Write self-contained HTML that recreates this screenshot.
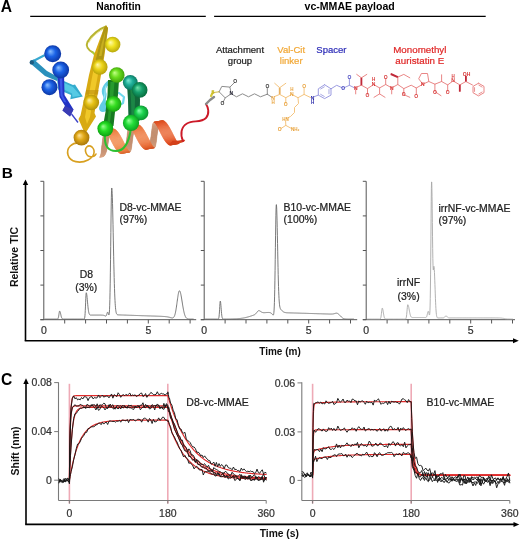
<!DOCTYPE html><html><head><meta charset="utf-8"><title>Figure</title><style>html,body{margin:0;padding:0;background:#fff;width:520px;height:541px;overflow:hidden}svg{display:block}</style></head><body><svg width="520" height="541" viewBox="0 0 520 541" font-family='"Liberation Sans", Arial, sans-serif'><defs><radialGradient id="g0" cx="0.5" cy="0.5" r="0.55" fx="0.35" fy="0.35"><stop offset="0" stop-color="#8cc0ff"/><stop offset="0.45" stop-color="#1a62e6"/><stop offset="1" stop-color="#0a2f9a"/></radialGradient><radialGradient id="g1" cx="0.5" cy="0.5" r="0.55" fx="0.35" fy="0.35"><stop offset="0" stop-color="#fffcb0"/><stop offset="0.45" stop-color="#f0e220"/><stop offset="1" stop-color="#b0a008"/></radialGradient><radialGradient id="g2" cx="0.5" cy="0.5" r="0.55" fx="0.35" fy="0.35"><stop offset="0" stop-color="#fff6a8"/><stop offset="0.45" stop-color="#ecd418"/><stop offset="1" stop-color="#b09a08"/></radialGradient><radialGradient id="g3" cx="0.5" cy="0.5" r="0.55" fx="0.35" fy="0.35"><stop offset="0" stop-color="#fff0a8"/><stop offset="0.45" stop-color="#e6c214"/><stop offset="1" stop-color="#a88a08"/></radialGradient><radialGradient id="g4" cx="0.5" cy="0.5" r="0.55" fx="0.35" fy="0.35"><stop offset="0" stop-color="#ffe298"/><stop offset="0.45" stop-color="#e0a818"/><stop offset="1" stop-color="#a07008"/></radialGradient><radialGradient id="g5" cx="0.5" cy="0.5" r="0.55" fx="0.35" fy="0.35"><stop offset="0" stop-color="#7ee8d4"/><stop offset="0.45" stop-color="#1eae98"/><stop offset="1" stop-color="#087058"/></radialGradient><radialGradient id="g6" cx="0.5" cy="0.5" r="0.55" fx="0.35" fy="0.35"><stop offset="0" stop-color="#6ee0a8"/><stop offset="0.45" stop-color="#16a06c"/><stop offset="1" stop-color="#066636"/></radialGradient><radialGradient id="g7" cx="0.5" cy="0.5" r="0.55" fx="0.35" fy="0.35"><stop offset="0" stop-color="#c4ff88"/><stop offset="0.45" stop-color="#6ade1e"/><stop offset="1" stop-color="#3a9a08"/></radialGradient><radialGradient id="g8" cx="0.5" cy="0.5" r="0.55" fx="0.35" fy="0.35"><stop offset="0" stop-color="#8cffb0"/><stop offset="0.45" stop-color="#1cd24e"/><stop offset="1" stop-color="#088a2a"/></radialGradient><radialGradient id="g9" cx="0.5" cy="0.5" r="0.55" fx="0.35" fy="0.35"><stop offset="0" stop-color="#a8ff88"/><stop offset="0.45" stop-color="#36de22"/><stop offset="1" stop-color="#129a0e"/></radialGradient><radialGradient id="g10" cx="0.5" cy="0.5" r="0.55" fx="0.35" fy="0.35"><stop offset="0" stop-color="#98ff98"/><stop offset="0.45" stop-color="#22dc38"/><stop offset="1" stop-color="#0a9a1e"/></radialGradient><radialGradient id="g11" cx="0.5" cy="0.5" r="0.55" fx="0.35" fy="0.35"><stop offset="0" stop-color="#9cff90"/><stop offset="0.45" stop-color="#26dc24"/><stop offset="1" stop-color="#0a9a10"/></radialGradient></defs><text x="0.8" y="12.1" font-size="15.6" font-weight="bold" fill="#000" text-anchor="start" >A</text>
<text transform="translate(96.2,9.6) scale(1.03,1)" font-size="10" font-weight="bold" fill="#000" text-anchor="start" >Nanofitin</text>
<text transform="translate(304.6,9.8) scale(1.055,1)" font-size="10" font-weight="bold" fill="#000" text-anchor="start" >vc-MMAE payload</text>
<line x1="30.2" y1="16.4" x2="205.8" y2="16.4" stroke="#000" stroke-width="1.3" />
<line x1="214.1" y1="16.4" x2="485.7" y2="16.4" stroke="#000" stroke-width="1.3" />
<text x="240" y="52.8" font-size="9.5" font-weight="normal" fill="#222" text-anchor="middle"  stroke="#222" stroke-width="0.22">Attachment</text>
<text x="240" y="63.5" font-size="9.5" font-weight="normal" fill="#222" text-anchor="middle"  stroke="#222" stroke-width="0.22">group</text>
<text x="291.2" y="52.8" font-size="9.5" font-weight="normal" fill="#f2a836" text-anchor="middle"  stroke="#f2a836" stroke-width="0.22">Val-Cit</text>
<text x="291.2" y="63.5" font-size="9.5" font-weight="normal" fill="#f2a836" text-anchor="middle"  stroke="#f2a836" stroke-width="0.22">linker</text>
<text x="331.4" y="52.5" font-size="9.5" font-weight="normal" fill="#2e2eb8" text-anchor="middle"  stroke="#2e2eb8" stroke-width="0.22">Spacer</text>
<text transform="translate(419.8,52.8) scale(1.03,1)" font-size="9.5" font-weight="normal" fill="#e02828" text-anchor="middle"  stroke="#e02828" stroke-width="0.22">Monomethyl</text>
<text transform="translate(419.8,63.5) scale(1.03,1)" font-size="9.5" font-weight="normal" fill="#e02828" text-anchor="middle"  stroke="#e02828" stroke-width="0.22">auristatin E</text>
<g>
<line x1="31.5" y1="62" x2="44" y2="55.5" stroke="#38a8d0" stroke-width="2.2" stroke-linecap="round"/>
<path d="M30.5,60.5 L34,59.5 L47,71 L58,77 L57,81 L45,76 L31,64 Z" fill="#2a90bc" stroke="none" stroke-width="1" stroke-linejoin="round" stroke-linecap="round" />
<path d="M57,78 L73,85 L75,84.5 L82.8,96.6 L70.3,99.2 L71,95 L58,89.5 Z" fill="#34acce" stroke="none" stroke-width="1" stroke-linejoin="round" stroke-linecap="round" />
<path d="M60,81 L73,87 L80.5,95.8 L72.5,97 L72,93.5 L60,87.5 Z" fill="#56cae4" stroke="none" stroke-width="1" stroke-linejoin="round" stroke-linecap="round" />
<circle cx="31.8" cy="62.4" r="2.2" fill="#1c5c82"/>
<path d="M109,80 C103,84 100,90 103,96 C105,100 100,103 99,108 C99,112 103,113 106,111 L107,104 C104,100 108,96 106,92 C105,88 108,85 110,84 Z" fill="#62cce6" stroke="none" stroke-width="1" stroke-linejoin="round" stroke-linecap="round" />
<path d="M106,86 C104,90 106,94 104,98" fill="none" stroke="#9ae4f4" stroke-width="1.2" stroke-linejoin="round" stroke-linecap="round" />
<polyline points="119,93 124,97 123,103 118,106" fill="none" stroke="#70d8ee" stroke-width="2.2" stroke-linejoin="round" stroke-linecap="round" />
<path d="M106,26.5 C100,28.5 91,35 87.5,42 C85.5,46 88,50 93,52.5" fill="none" stroke="#b8b430" stroke-width="2.0" stroke-linejoin="round" stroke-linecap="round" />
<path d="M105,28.5 C99,31 92,36.5 89,42.5" fill="none" stroke="#e8e070" stroke-width="0.8" stroke-linejoin="round" stroke-linecap="round" />
<path d="M91,51 L98,54 L96.5,59 Z" fill="#a8d040" stroke="none" stroke-width="1" stroke-linejoin="round" stroke-linecap="round" />
<path d="M106,25.5 L108,28 L106.5,40 L104.5,55 L101,75 L97.5,95 L94.5,113 L96,116.5 L85,134 L78.5,119 L80.5,115.5 L85,95 L89,75 L94,55 L99.5,40 L104,28 Z" fill="#d8aa12" stroke="none" stroke-width="1" stroke-linejoin="round" stroke-linecap="round" />
<path d="M105.5,33 L103.5,45 L100.5,60 L97,80 L93,100 L90,117 L87,124 L85,117 L88,100 L91.5,80 L95.5,60 L99.5,45 Z" fill="#f0c828" stroke="none" stroke-width="1" stroke-linejoin="round" stroke-linecap="round" />
<path d="M106,25.5 L108,28 L105.5,45 L103,60 L95.5,60 L100,42 L104,28 Z" fill="#ae9614" stroke="none" stroke-width="1" stroke-linejoin="round" stroke-linecap="round" />
<path d="M105.5,31 L103.5,45 L101.5,56 L99,56 L101.5,44 Z" fill="#c8b020" stroke="none" stroke-width="1" stroke-linejoin="round" stroke-linecap="round" />
<path d="M86.2,90 L98.6,90 L98,94.5 L85.4,94.5 Z" fill="#b88a0c" stroke="none" stroke-width="1" stroke-linejoin="round" stroke-linecap="round" opacity="0.55"/>
<path d="M57,73 L64,73 L64.5,95 L69.5,103 L73.5,109.5 L70,116.5 L62.5,110.5 L65,106 L59.5,97 Z" fill="#2232c4" stroke="none" stroke-width="1" stroke-linejoin="round" stroke-linecap="round" />
<path d="M59.5,75 L62.2,75 L62.6,95 L66.5,102.5 L64,102 L60.6,95.5 Z" fill="#3a58e8" stroke="none" stroke-width="1" stroke-linejoin="round" stroke-linecap="round" />
<path d="M65,106 L73.5,109.5 L70,116.5 L62.5,110.5 Z" fill="#3a3cb4" stroke="none" stroke-width="1" stroke-linejoin="round" stroke-linecap="round" />
<line x1="71.5" y1="114" x2="78" y2="122.5" stroke="#3a40c8" stroke-width="1.3" />
<path d="M108,80 L119,80 L118,95 L115,112 L113.5,126 L103,126 L105.5,112 L107.5,95 Z" fill="#177a22" stroke="none" stroke-width="1" stroke-linejoin="round" stroke-linecap="round" />
<path d="M110.5,82 L114.5,82 L113,100 L110,122 L107.5,122 L109.5,100 Z" fill="#279a2e" stroke="none" stroke-width="1" stroke-linejoin="round" stroke-linecap="round" />
<path d="M127,84 L139,84 L140,100 L139.5,121 L128.5,121 L128,100 Z" fill="#12683a" stroke="none" stroke-width="1" stroke-linejoin="round" stroke-linecap="round" />
<path d="M130,86 L134,86 L135,100 L134.5,118 L131.5,118 L131,100 Z" fill="#1c8646" stroke="none" stroke-width="1" stroke-linejoin="round" stroke-linecap="round" />
<g stroke-width="0.5" stroke-linejoin="round">
<polygon points="99.45,157.21 102.84,156.62 103.17,156.54 99.6,157.16" fill="#e3af8f" stroke="#e3af8f"/>
<polygon points="99.6,157.16 103.17,156.54 103.5,156.41 99.75,157.05" fill="#e1ac8c" stroke="#e1ac8c"/>
<polygon points="99.75,157.05 103.5,156.41 103.81,156.22 99.9,156.9" fill="#deaa8a" stroke="#deaa8a"/>
<polygon points="99.9,156.9 103.81,156.22 104.1,155.99 100.04,156.69" fill="#dca787" stroke="#dca787"/>
<polygon points="100.04,156.69 104.1,155.99 104.39,155.71 100.17,156.44" fill="#daa585" stroke="#daa585"/>
<polygon points="100.17,156.44 104.39,155.71 104.66,155.38 100.3,156.13" fill="#d8a383" stroke="#d8a383"/>
<polygon points="100.3,156.13 104.66,155.38 104.93,155.01 100.43,155.78" fill="#d5a181" stroke="#d5a181"/>
<polygon points="100.43,155.78 104.93,155.01 105.18,154.58 100.55,155.38" fill="#d39e7e" stroke="#d39e7e"/>
<polygon points="100.55,155.38 105.18,154.58 105.42,154.12 100.66,154.94" fill="#d19c7c" stroke="#d19c7c"/>
<polygon points="100.66,154.94 105.42,154.12 105.65,153.61 100.77,154.46" fill="#cf9a7a" stroke="#cf9a7a"/>
<polygon points="100.77,154.46 105.65,153.61 105.88,153.07 100.88,153.93" fill="#ce9878" stroke="#ce9878"/>
<polygon points="100.88,153.93 105.88,153.07 106.09,152.48 100.98,153.36" fill="#cc9676" stroke="#cc9676"/>
<polygon points="100.98,153.36 106.09,152.48 106.3,151.86 101.07,152.76" fill="#ca9474" stroke="#ca9474"/>
<polygon points="101.07,152.76 106.3,151.86 106.51,151.2 101.16,152.13" fill="#c99373" stroke="#c99373"/>
<polygon points="101.16,152.13 106.51,151.2 106.7,150.52 101.24,151.46" fill="#c79171" stroke="#c79171"/>
<polygon points="101.24,151.46 106.7,150.52 106.9,149.8 101.31,150.76" fill="#c69070" stroke="#c69070"/>
<polygon points="101.31,150.76 106.9,149.8 107.09,149.06 101.38,150.04" fill="#c58f6f" stroke="#c58f6f"/>
<polygon points="101.38,150.04 107.09,149.06 107.28,148.29 101.45,149.29" fill="#c48d6d" stroke="#c48d6d"/>
<polygon points="101.45,149.29 107.28,148.29 107.47,147.5 101.51,148.53" fill="#c38c6c" stroke="#c38c6c"/>
<polygon points="101.51,148.53 107.47,147.5 107.65,146.69 101.56,147.74" fill="#c28c6c" stroke="#c28c6c"/>
<polygon points="101.56,147.74 107.65,146.69 107.81,145.88 101.64,146.94" fill="#c18b6b" stroke="#c18b6b"/>
<polygon points="101.64,146.94 107.81,145.88 107.91,145.06 101.77,146.12" fill="#c18a6a" stroke="#c18a6a"/>
<polygon points="101.77,146.12 107.91,145.06 108.01,144.23 101.89,145.29" fill="#c08a6a" stroke="#c08a6a"/>
<polygon points="101.89,145.29 108.01,144.23 108.12,143.4 102.01,144.45" fill="#c08a6a" stroke="#c08a6a"/>
<polygon points="102.01,144.45 108.12,143.4 108.23,142.56 102.12,143.61" fill="#c08a6a" stroke="#c08a6a"/>
<polygon points="102.12,143.61 108.23,142.56 108.35,141.72 102.23,142.78" fill="#c08a6a" stroke="#c08a6a"/>
<polygon points="102.23,142.78 108.35,141.72 108.47,140.89 102.33,141.95" fill="#c08a6a" stroke="#c08a6a"/>
<polygon points="102.33,141.95 108.47,140.89 108.6,140.07 102.43,141.13" fill="#c18a6a" stroke="#c18a6a"/>
<polygon points="102.43,141.13 108.6,140.07 108.74,139.25 102.53,140.32" fill="#c18b6b" stroke="#c18b6b"/>
<polygon points="102.53,140.32 108.74,139.25 108.88,138.45 102.63,139.53" fill="#c28c6c" stroke="#c28c6c"/>
<polygon points="102.63,139.53 108.88,138.45 109.03,137.66 102.72,138.75" fill="#c38c6c" stroke="#c38c6c"/>
<polygon points="102.72,138.75 109.03,137.66 109.19,136.9 102.82,138" fill="#c38d6d" stroke="#c38d6d"/>
<polygon points="102.82,138 109.19,136.9 109.35,136.16 102.91,137.27" fill="#c58e6e" stroke="#c58e6e"/>
<polygon points="102.91,137.27 109.35,136.16 109.53,135.44 103,136.56" fill="#c69070" stroke="#c69070"/>
<polygon points="103,136.56 109.53,135.44 109.71,134.75 103.1,135.89" fill="#c79171" stroke="#c79171"/>
<polygon points="103.1,135.89 109.71,134.75 109.91,134.09 103.19,135.25" fill="#c89373" stroke="#c89373"/>
<polygon points="103.19,135.25 109.91,134.09 110.11,133.46 103.29,134.64" fill="#ca9474" stroke="#ca9474"/>
<polygon points="103.29,134.64 110.11,133.46 110.32,132.87 103.39,134.07" fill="#cc9676" stroke="#cc9676"/>
<polygon points="103.39,134.07 110.32,132.87 110.54,132.32 103.5,133.54" fill="#cd9878" stroke="#cd9878"/>
<polygon points="103.5,133.54 110.54,132.32 110.77,131.81 103.61,133.04" fill="#cf9a7a" stroke="#cf9a7a"/>
<polygon points="103.61,133.04 110.77,131.81 111.02,131.34 103.72,132.6" fill="#d19c7c" stroke="#d19c7c"/>
<polygon points="103.72,132.6 111.02,131.34 111.27,130.91 103.84,132.19" fill="#d39e7e" stroke="#d39e7e"/>
<polygon points="103.84,132.19 111.27,130.91 111.53,130.53 103.96,131.83" fill="#d5a080" stroke="#d5a080"/>
<polygon points="103.96,131.83 111.53,130.53 111.8,130.19 104.09,131.52" fill="#d7a282" stroke="#d7a282"/>
<polygon points="104.09,131.52 111.8,130.19 112.08,129.9 104.23,131.26" fill="#d9a585" stroke="#d9a585"/>
<polygon points="104.23,131.26 112.08,129.9 112.37,129.66 104.37,131.05" fill="#dca787" stroke="#dca787"/>
<polygon points="104.37,131.05 112.37,129.66 112.68,129.48 104.52,130.88" fill="#deaa8a" stroke="#deaa8a"/>
<polygon points="104.52,130.88 112.68,129.48 112.99,129.34 104.68,130.77" fill="#e0ac8c" stroke="#e0ac8c"/>
<polygon points="104.68,130.77 112.99,129.34 113.3,129.25 104.85,130.71" fill="#e3ae8e" stroke="#e3ae8e"/>
<polygon points="121.32,153.43 129.84,151.96 130.01,151.92 121.65,153.37" fill="#e4b090" stroke="#e4b090"/>
<polygon points="121.65,153.37 130.01,151.92 130.18,151.83 121.96,153.25" fill="#e1ad8d" stroke="#e1ad8d"/>
<polygon points="121.96,153.25 130.18,151.83 130.33,151.69 122.26,153.08" fill="#dfab8b" stroke="#dfab8b"/>
<polygon points="122.26,153.08 130.33,151.69 130.48,151.5 122.56,152.87" fill="#dda888" stroke="#dda888"/>
<polygon points="122.56,152.87 130.48,151.5 130.62,151.26 122.85,152.6" fill="#daa686" stroke="#daa686"/>
<polygon points="122.85,152.6 130.62,151.26 130.75,150.97 123.12,152.28" fill="#d8a383" stroke="#d8a383"/>
<polygon points="123.12,152.28 130.75,150.97 130.88,150.63 123.39,151.92" fill="#d6a181" stroke="#d6a181"/>
<polygon points="123.39,151.92 130.88,150.63 131,150.25 123.64,151.52" fill="#d49f7f" stroke="#d49f7f"/>
<polygon points="123.64,151.52 131,150.25 131.12,149.82 123.89,151.06" fill="#d29d7d" stroke="#d29d7d"/>
<polygon points="123.89,151.06 131.12,149.82 131.23,149.35 124.13,150.57" fill="#d09b7b" stroke="#d09b7b"/>
<polygon points="124.13,150.57 131.23,149.35 131.33,148.83 124.35,150.03" fill="#ce9979" stroke="#ce9979"/>
<polygon points="124.35,150.03 131.33,148.83 131.44,148.28 124.57,149.46" fill="#cc9777" stroke="#cc9777"/>
<polygon points="124.57,149.46 131.44,148.28 131.54,147.68 124.78,148.85" fill="#cb9575" stroke="#cb9575"/>
<polygon points="124.78,148.85 131.54,147.68 131.63,147.06 124.97,148.21" fill="#c99373" stroke="#c99373"/>
<polygon points="124.97,148.21 131.63,147.06 131.73,146.4 125.16,147.53" fill="#c89272" stroke="#c89272"/>
<polygon points="125.16,147.53 131.73,146.4 131.82,145.71 125.34,146.82" fill="#c69070" stroke="#c69070"/>
<polygon points="125.34,146.82 131.82,145.71 131.91,144.99 125.51,146.09" fill="#c58f6f" stroke="#c58f6f"/>
<polygon points="125.51,146.09 131.91,144.99 132.01,144.24 125.67,145.34" fill="#c48e6e" stroke="#c48e6e"/>
<polygon points="125.67,145.34 132.01,144.24 132.1,143.48 125.83,144.56" fill="#c38d6d" stroke="#c38d6d"/>
<polygon points="125.83,144.56 132.1,143.48 132.2,142.69 125.97,143.76" fill="#c28c6c" stroke="#c28c6c"/>
<polygon points="125.97,143.76 132.2,142.69 132.29,141.89 126.11,142.95" fill="#c18b6b" stroke="#c18b6b"/>
<polygon points="126.11,142.95 132.29,141.89 132.39,141.07 126.24,142.13" fill="#c18b6b" stroke="#c18b6b"/>
<polygon points="126.24,142.13 132.39,141.07 132.5,140.25 126.37,141.3" fill="#c08a6a" stroke="#c08a6a"/>
<polygon points="126.37,141.3 132.5,140.25 132.6,139.41 126.49,140.47" fill="#c08a6a" stroke="#c08a6a"/>
<polygon points="126.49,140.47 132.6,139.41 132.71,138.58 126.6,139.63" fill="#c08a6a" stroke="#c08a6a"/>
<polygon points="126.6,139.63 132.71,138.58 132.83,137.74 126.71,138.8" fill="#c08a6a" stroke="#c08a6a"/>
<polygon points="126.71,138.8 132.83,137.74 132.95,136.91 126.82,137.97" fill="#c08a6a" stroke="#c08a6a"/>
<polygon points="126.82,137.97 132.95,136.91 133.08,136.08 126.92,137.14" fill="#c18a6a" stroke="#c18a6a"/>
<polygon points="126.92,137.14 133.08,136.08 133.21,135.26 127.02,136.33" fill="#c18b6b" stroke="#c18b6b"/>
<polygon points="127.02,136.33 133.21,135.26 133.35,134.46 127.11,135.53" fill="#c28b6b" stroke="#c28b6b"/>
<polygon points="127.11,135.53 133.35,134.46 133.5,133.67 127.21,134.75" fill="#c28c6c" stroke="#c28c6c"/>
<polygon points="127.21,134.75 133.5,133.67 133.65,132.89 127.3,133.99" fill="#c38d6d" stroke="#c38d6d"/>
<polygon points="127.3,133.99 133.65,132.89 133.82,132.14 127.4,133.25" fill="#c48e6e" stroke="#c48e6e"/>
<polygon points="127.4,133.25 133.82,132.14 133.99,131.42 127.49,132.54" fill="#c58f6f" stroke="#c58f6f"/>
<polygon points="127.49,132.54 133.99,131.42 134.17,130.72 127.58,131.86" fill="#c79171" stroke="#c79171"/>
<polygon points="127.58,131.86 134.17,130.72 134.36,130.05 127.68,131.2" fill="#c89272" stroke="#c89272"/>
<polygon points="127.68,131.2 134.36,130.05 134.56,129.42 127.78,130.59" fill="#ca9474" stroke="#ca9474"/>
<polygon points="127.78,130.59 134.56,129.42 134.77,128.81 127.88,130" fill="#cb9575" stroke="#cb9575"/>
<polygon points="127.88,130 134.77,128.81 134.99,128.25 127.98,129.46" fill="#cd9777" stroke="#cd9777"/>
<polygon points="127.98,129.46 134.99,128.25 135.22,127.73 128.09,128.96" fill="#cf9979" stroke="#cf9979"/>
<polygon points="128.09,128.96 135.22,127.73 135.46,127.24 128.2,128.5" fill="#d19b7b" stroke="#d19b7b"/>
<polygon points="128.2,128.5 135.46,127.24 135.71,126.8 128.32,128.08" fill="#d39d7d" stroke="#d39d7d"/>
<polygon points="128.32,128.08 135.71,126.8 135.97,126.41 128.44,127.71" fill="#d5a080" stroke="#d5a080"/>
<polygon points="128.44,127.71 135.97,126.41 136.23,126.06 128.57,127.38" fill="#d7a282" stroke="#d7a282"/>
<polygon points="128.57,127.38 136.23,126.06 136.51,125.76 128.7,127.1" fill="#d9a484" stroke="#d9a484"/>
<polygon points="128.7,127.1 136.51,125.76 136.8,125.5 128.84,126.87" fill="#dba686" stroke="#dba686"/>
<polygon points="128.84,126.87 136.8,125.5 137.1,125.3 128.99,126.7" fill="#dda989" stroke="#dda989"/>
<polygon points="128.99,126.7 137.1,125.3 137.41,125.14 129.15,126.57" fill="#e0ab8b" stroke="#e0ab8b"/>
<polygon points="129.15,126.57 137.41,125.14 137.72,125.04 129.32,126.49" fill="#e2ae8e" stroke="#e2ae8e"/>
<polygon points="146.06,149.16 154.48,147.71 154.64,147.64 146.38,149.06" fill="#e2ae8e" stroke="#e2ae8e"/>
<polygon points="146.38,149.06 154.64,147.64 154.8,147.51 146.69,148.91" fill="#e0ab8b" stroke="#e0ab8b"/>
<polygon points="146.69,148.91 154.8,147.51 154.95,147.33 146.99,148.71" fill="#dda989" stroke="#dda989"/>
<polygon points="146.99,148.71 154.95,147.33 155.09,147.11 147.28,148.45" fill="#dba787" stroke="#dba787"/>
<polygon points="147.28,148.45 155.09,147.11 155.23,146.83 147.56,148.15" fill="#d9a484" stroke="#d9a484"/>
<polygon points="147.56,148.15 155.23,146.83 155.36,146.51 147.82,147.81" fill="#d7a282" stroke="#d7a282"/>
<polygon points="147.82,147.81 155.36,146.51 155.48,146.14 148.08,147.41" fill="#d5a080" stroke="#d5a080"/>
<polygon points="148.08,147.41 155.48,146.14 155.6,145.72 148.33,146.97" fill="#d39d7d" stroke="#d39d7d"/>
<polygon points="148.33,146.97 155.6,145.72 155.71,145.26 148.57,146.49" fill="#d19b7b" stroke="#d19b7b"/>
<polygon points="148.57,146.49 155.71,145.26 155.82,144.76 148.8,145.97" fill="#cf9979" stroke="#cf9979"/>
<polygon points="148.8,145.97 155.82,144.76 155.92,144.22 149.02,145.41" fill="#cd9777" stroke="#cd9777"/>
<polygon points="149.02,145.41 155.92,144.22 156.02,143.64 149.23,144.81" fill="#cb9676" stroke="#cb9676"/>
<polygon points="149.23,144.81 156.02,143.64 156.12,143.02 149.43,144.17" fill="#ca9474" stroke="#ca9474"/>
<polygon points="149.43,144.17 156.12,143.02 156.21,142.37 149.62,143.5" fill="#c89272" stroke="#c89272"/>
<polygon points="149.62,143.5 156.21,142.37 156.31,141.69 149.8,142.81" fill="#c79171" stroke="#c79171"/>
<polygon points="149.8,142.81 156.31,141.69 156.4,140.97 149.98,142.08" fill="#c58f6f" stroke="#c58f6f"/>
<polygon points="149.98,142.08 156.4,140.97 156.49,140.24 150.14,141.33" fill="#c48e6e" stroke="#c48e6e"/>
<polygon points="150.14,141.33 156.49,140.24 156.59,139.48 150.3,140.56" fill="#c38d6d" stroke="#c38d6d"/>
<polygon points="150.3,140.56 156.59,139.48 156.68,138.7 150.44,139.77" fill="#c28c6c" stroke="#c28c6c"/>
<polygon points="150.44,139.77 156.68,138.7 156.78,137.9 150.59,138.97" fill="#c28b6b" stroke="#c28b6b"/>
<polygon points="150.59,138.97 156.78,137.9 156.88,137.09 150.72,138.15" fill="#c18b6b" stroke="#c18b6b"/>
<polygon points="150.72,138.15 156.88,137.09 156.98,136.26 150.85,137.32" fill="#c18a6a" stroke="#c18a6a"/>
<polygon points="150.85,137.32 156.98,136.26 157.08,135.43 150.97,136.49" fill="#c08a6a" stroke="#c08a6a"/>
<polygon points="150.97,136.49 157.08,135.43 157.19,134.6 151.08,135.65" fill="#c08a6a" stroke="#c08a6a"/>
<polygon points="151.08,135.65 157.19,134.6 157.31,133.76 151.19,134.82" fill="#c08a6a" stroke="#c08a6a"/>
<polygon points="151.19,134.82 157.31,133.76 157.43,132.93 151.3,133.98" fill="#c08a6a" stroke="#c08a6a"/>
<polygon points="151.3,133.98 157.43,132.93 157.55,132.1 151.4,133.16" fill="#c08a6a" stroke="#c08a6a"/>
<polygon points="151.4,133.16 157.55,132.1 157.68,131.28 151.5,132.34" fill="#c18a6a" stroke="#c18a6a"/>
<polygon points="151.5,132.34 157.68,131.28 157.82,130.47 151.6,131.54" fill="#c18b6b" stroke="#c18b6b"/>
<polygon points="151.6,131.54 157.82,130.47 157.97,129.67 151.7,130.75" fill="#c28c6c" stroke="#c28c6c"/>
<polygon points="151.7,130.75 157.97,129.67 158.12,128.89 151.79,129.99" fill="#c38d6d" stroke="#c38d6d"/>
<polygon points="151.79,129.99 158.12,128.89 158.28,128.14 151.88,129.24" fill="#c48e6e" stroke="#c48e6e"/>
<polygon points="151.88,129.24 158.28,128.14 158.45,127.4 151.98,128.52" fill="#c58f6f" stroke="#c58f6f"/>
<polygon points="151.98,128.52 158.45,127.4 158.63,126.7 152.07,127.83" fill="#c69070" stroke="#c69070"/>
<polygon points="152.07,127.83 158.63,126.7 158.82,126.02 152.16,127.17" fill="#c89272" stroke="#c89272"/>
<polygon points="152.16,127.17 158.82,126.02 159.02,125.37 152.26,126.54" fill="#c99373" stroke="#c99373"/>
<polygon points="152.26,126.54 159.02,125.37 159.22,124.76 152.36,125.94" fill="#cb9575" stroke="#cb9575"/>
<polygon points="152.36,125.94 159.22,124.76 159.44,124.19 152.46,125.39" fill="#cc9777" stroke="#cc9777"/>
<polygon points="152.46,125.39 159.44,124.19 159.66,123.65 152.57,124.87" fill="#ce9979" stroke="#ce9979"/>
<polygon points="152.57,124.87 159.66,123.65 159.9,123.15 152.68,124.4" fill="#d09b7b" stroke="#d09b7b"/>
<polygon points="152.68,124.4 159.9,123.15 160.15,122.7 152.79,123.97" fill="#d29d7d" stroke="#d29d7d"/>
<polygon points="152.79,123.97 160.15,122.7 160.4,122.29 152.92,123.58" fill="#d49f7f" stroke="#d49f7f"/>
<polygon points="152.92,123.58 160.4,122.29 160.67,121.93 153.04,123.24" fill="#d6a181" stroke="#d6a181"/>
<polygon points="153.04,123.24 160.67,121.93 160.94,121.61 153.17,122.95" fill="#d8a383" stroke="#d8a383"/>
<polygon points="153.17,122.95 160.94,121.61 161.23,121.34 153.31,122.71" fill="#daa686" stroke="#daa686"/>
<polygon points="153.31,122.71 161.23,121.34 161.52,121.12 153.46,122.52" fill="#dda888" stroke="#dda888"/>
<polygon points="153.46,122.52 161.52,121.12 161.83,120.96 153.62,122.37" fill="#dfab8b" stroke="#dfab8b"/>
<polygon points="153.62,122.37 161.83,120.96 162.14,120.84 153.78,122.28" fill="#e1ad8d" stroke="#e1ad8d"/>
<polygon points="153.78,122.28 162.14,120.84 162.47,120.77 153.95,122.24" fill="#e3af8f" stroke="#e3af8f"/>
<polygon points="170.48,144.96 178.94,143.5 179.11,143.44 170.8,144.87" fill="#e3af8f" stroke="#e3af8f"/>
<polygon points="170.8,144.87 179.11,143.44 179.27,143.32 171.11,144.73" fill="#e0ac8c" stroke="#e0ac8c"/>
<polygon points="171.11,144.73 179.27,143.32 179.42,143.16 171.41,144.54" fill="#deaa8a" stroke="#deaa8a"/>
<polygon points="171.41,144.54 179.42,143.16 179.57,142.95 171.71,144.31" fill="#dca787" stroke="#dca787"/>
<polygon points="171.71,144.31 179.57,142.95 179.7,142.69 171.99,144.02" fill="#daa585" stroke="#daa585"/>
<polygon points="104.85,130.71 113.3,129.25 113.63,129.21 105.03,130.69" fill="#da6932" stroke="#da6932"/>
<polygon points="105.03,130.69 113.63,129.21 113.97,129.22 105.22,130.73" fill="#dc6c34" stroke="#dc6c34"/>
<polygon points="105.22,130.73 113.97,129.22 114.31,129.28 105.41,130.82" fill="#df6f36" stroke="#df6f36"/>
<polygon points="105.41,130.82 114.31,129.28 114.67,129.4 105.61,130.96" fill="#e17137" stroke="#e17137"/>
<polygon points="105.61,130.96 114.67,129.4 115.03,129.56 105.83,131.15" fill="#e37338" stroke="#e37338"/>
<polygon points="105.83,131.15 115.03,129.56 115.39,129.77 106.05,131.38" fill="#e5753a" stroke="#e5753a"/>
<polygon points="106.05,131.38 115.39,129.77 115.77,130.03 106.29,131.66" fill="#e6783c" stroke="#e6783c"/>
<polygon points="106.29,131.66 115.77,130.03 116.14,130.33 106.53,131.99" fill="#e87a3e" stroke="#e87a3e"/>
<polygon points="106.53,131.99 116.14,130.33 116.53,130.68 106.79,132.36" fill="#e97c3e" stroke="#e97c3e"/>
<polygon points="106.79,132.36 116.53,130.68 116.92,131.08 107.05,132.78" fill="#ea7e41" stroke="#ea7e41"/>
<polygon points="107.05,132.78 116.92,131.08 117.31,131.51 107.32,133.23" fill="#ec8043" stroke="#ec8043"/>
<polygon points="107.32,133.23 117.31,131.51 117.71,131.98 107.61,133.73" fill="#ed8245" stroke="#ed8245"/>
<polygon points="107.61,133.73 117.71,131.98 118.11,132.5 107.9,134.26" fill="#ed8448" stroke="#ed8448"/>
<polygon points="107.9,134.26 118.11,132.5 118.51,133.04 108.2,134.82" fill="#ee864b" stroke="#ee864b"/>
<polygon points="108.2,134.82 118.51,133.04 118.91,133.62 108.52,135.41" fill="#ef894d" stroke="#ef894d"/>
<polygon points="108.52,135.41 118.91,133.62 119.32,134.23 108.84,136.04" fill="#ef8b50" stroke="#ef8b50"/>
<polygon points="108.84,136.04 119.32,134.23 119.72,134.87 109.17,136.69" fill="#f18d54" stroke="#f18d54"/>
<polygon points="109.17,136.69 119.72,134.87 120.13,135.53 109.5,137.36" fill="#f19057" stroke="#f19057"/>
<polygon points="109.5,137.36 120.13,135.53 120.53,136.21 109.85,138.06" fill="#f1925a" stroke="#f1925a"/>
<polygon points="109.85,138.06 120.53,136.21 120.94,136.91 110.2,138.77" fill="#f2945d" stroke="#f2945d"/>
<polygon points="110.2,138.77 120.94,136.91 121.34,137.63 110.57,139.49" fill="#f2965f" stroke="#f2965f"/>
<polygon points="110.57,139.49 121.34,137.63 121.74,138.36 110.93,140.23" fill="#f29761" stroke="#f29761"/>
<polygon points="110.93,140.23 121.74,138.36 122.13,139.1 111.31,140.97" fill="#f29863" stroke="#f29863"/>
<polygon points="111.31,140.97 122.13,139.1 122.53,139.85 111.69,141.72" fill="#f29963" stroke="#f29963"/>
<polygon points="111.69,141.72 122.53,139.85 122.91,140.6 112.07,142.47" fill="#f29964" stroke="#f29964"/>
<polygon points="112.07,142.47 122.91,140.6 123.3,141.35 112.46,143.22" fill="#f29964" stroke="#f29964"/>
<polygon points="112.46,143.22 123.3,141.35 123.67,142.1 112.86,143.96" fill="#f29963" stroke="#f29963"/>
<polygon points="112.86,143.96 123.67,142.1 124.04,142.84 113.25,144.7" fill="#f29862" stroke="#f29862"/>
<polygon points="113.25,144.7 124.04,142.84 124.41,143.57 113.65,145.42" fill="#f29660" stroke="#f29660"/>
<polygon points="113.65,145.42 124.41,143.57 124.76,144.29 114.06,146.13" fill="#f2955e" stroke="#f2955e"/>
<polygon points="114.06,146.13 124.76,144.29 125.11,144.99 114.46,146.83" fill="#f1935b" stroke="#f1935b"/>
<polygon points="114.46,146.83 125.11,144.99 125.46,145.67 114.87,147.5" fill="#f19158" stroke="#f19158"/>
<polygon points="114.87,147.5 125.46,145.67 125.79,146.33 115.27,148.15" fill="#f18f55" stroke="#f18f55"/>
<polygon points="115.27,148.15 125.79,146.33 126.11,146.97 115.68,148.77" fill="#ef8c52" stroke="#ef8c52"/>
<polygon points="115.68,148.77 126.11,146.97 126.43,147.58 116.08,149.36" fill="#ef8a4f" stroke="#ef8a4f"/>
<polygon points="116.08,149.36 126.43,147.58 126.74,148.15 116.49,149.92" fill="#ef884c" stroke="#ef884c"/>
<polygon points="116.49,149.92 126.74,148.15 127.04,148.7 116.89,150.45" fill="#ed8549" stroke="#ed8549"/>
<polygon points="116.89,150.45 127.04,148.7 127.32,149.21 117.29,150.94" fill="#ed8346" stroke="#ed8346"/>
<polygon points="117.29,150.94 127.32,149.21 127.6,149.68 117.68,151.39" fill="#ec8144" stroke="#ec8144"/>
<polygon points="117.68,151.39 127.6,149.68 127.87,150.11 118.07,151.8" fill="#eb7f41" stroke="#eb7f41"/>
<polygon points="118.07,151.8 127.87,150.11 128.13,150.51 118.46,152.17" fill="#e97d40" stroke="#e97d40"/>
<polygon points="118.46,152.17 128.13,150.51 128.38,150.85 118.84,152.5" fill="#e87a3e" stroke="#e87a3e"/>
<polygon points="118.84,152.5 128.38,150.85 128.62,151.16 119.21,152.78" fill="#e7793c" stroke="#e7793c"/>
<polygon points="119.21,152.78 128.62,151.16 128.84,151.41 119.58,153.01" fill="#e5763b" stroke="#e5763b"/>
<polygon points="119.58,153.01 128.84,151.41 129.06,151.62 119.95,153.19" fill="#e47439" stroke="#e47439"/>
<polygon points="119.95,153.19 129.06,151.62 129.27,151.78 120.3,153.33" fill="#e27238" stroke="#e27238"/>
<polygon points="120.3,153.33 129.27,151.78 129.47,151.89 120.65,153.41" fill="#e07036" stroke="#e07036"/>
<polygon points="120.65,153.41 129.47,151.89 129.66,151.95 120.99,153.45" fill="#de6d35" stroke="#de6d35"/>
<polygon points="120.99,153.45 129.66,151.95 129.84,151.96 121.32,153.43" fill="#db6a33" stroke="#db6a33"/>
<polygon points="129.32,126.49 137.72,125.04 138.05,124.99 129.49,126.46" fill="#d75f2c" stroke="#d75f2c"/>
<polygon points="129.49,126.46 138.05,124.99 138.38,124.98 129.67,126.49" fill="#da622e" stroke="#da622e"/>
<polygon points="129.67,126.49 138.38,124.98 138.73,125.03 129.87,126.56" fill="#dc632e" stroke="#dc632e"/>
<polygon points="129.87,126.56 138.73,125.03 139.08,125.13 130.07,126.68" fill="#de652f" stroke="#de652f"/>
<polygon points="130.07,126.68 139.08,125.13 139.43,125.28 130.28,126.86" fill="#e06731" stroke="#e06731"/>
<polygon points="130.28,126.86 139.43,125.28 139.8,125.47 130.5,127.08" fill="#e26932" stroke="#e26932"/>
<polygon points="130.5,127.08 139.8,125.47 140.17,125.72 130.73,127.35" fill="#e36a33" stroke="#e36a33"/>
<polygon points="130.73,127.35 140.17,125.72 140.55,126.01 130.97,127.66" fill="#e46c33" stroke="#e46c33"/>
<polygon points="130.97,127.66 140.55,126.01 140.93,126.35 131.22,128.02" fill="#e56e35" stroke="#e56e35"/>
<polygon points="131.22,128.02 140.93,126.35 141.32,126.73 131.48,128.42" fill="#e76f37" stroke="#e76f37"/>
<polygon points="131.48,128.42 141.32,126.73 141.71,127.15 131.76,128.87" fill="#e87139" stroke="#e87139"/>
<polygon points="131.76,128.87 141.71,127.15 142.1,127.61 132.04,129.35" fill="#e9733b" stroke="#e9733b"/>
<polygon points="132.04,129.35 142.1,127.61 142.5,128.11 132.33,129.87" fill="#e9753f" stroke="#e9753f"/>
<polygon points="132.33,129.87 142.5,128.11 142.9,128.65 132.63,130.42" fill="#eb7840" stroke="#eb7840"/>
<polygon points="132.63,130.42 142.9,128.65 143.31,129.22 132.94,131.01" fill="#eb7a43" stroke="#eb7a43"/>
<polygon points="132.94,131.01 143.31,129.22 143.71,129.82 133.25,131.62" fill="#ec7d47" stroke="#ec7d47"/>
<polygon points="133.25,131.62 143.71,129.82 144.12,130.45 133.58,132.26" fill="#ed7f4b" stroke="#ed7f4b"/>
<polygon points="133.58,132.26 144.12,130.45 144.52,131.1 133.92,132.93" fill="#ee834e" stroke="#ee834e"/>
<polygon points="133.92,132.93 144.52,131.1 144.93,131.78 134.26,133.62" fill="#ee8551" stroke="#ee8551"/>
<polygon points="134.26,133.62 144.93,131.78 145.33,132.48 134.61,134.33" fill="#ef8754" stroke="#ef8754"/>
<polygon points="134.61,134.33 145.33,132.48 145.73,133.19 134.97,135.05" fill="#ef8957" stroke="#ef8957"/>
<polygon points="134.97,135.05 145.73,133.19 146.13,133.92 135.34,135.78" fill="#f08b59" stroke="#f08b59"/>
<polygon points="135.34,135.78 146.13,133.92 146.53,134.66 135.71,136.52" fill="#ef8d5b" stroke="#ef8d5b"/>
<polygon points="135.71,136.52 146.53,134.66 146.92,135.4 136.09,137.27" fill="#f08d5d" stroke="#f08d5d"/>
<polygon points="136.09,137.27 146.92,135.4 147.31,136.15 136.47,138.02" fill="#f08e5d" stroke="#f08e5d"/>
<polygon points="136.47,138.02 147.31,136.15 147.7,136.9 136.86,138.77" fill="#f08e5d" stroke="#f08e5d"/>
<polygon points="136.86,138.77 147.7,136.9 148.08,137.65 137.25,139.52" fill="#f08d5c" stroke="#f08d5c"/>
<polygon points="137.25,139.52 148.08,137.65 148.45,138.39 137.65,140.26" fill="#ef8c5b" stroke="#ef8c5b"/>
<polygon points="137.65,140.26 148.45,138.39 148.81,139.13 138.05,140.98" fill="#ef8a59" stroke="#ef8a59"/>
<polygon points="138.05,140.98 148.81,139.13 149.17,139.85 138.45,141.7" fill="#ef8856" stroke="#ef8856"/>
<polygon points="138.45,141.7 149.17,139.85 149.53,140.56 138.86,142.4" fill="#ee8553" stroke="#ee8553"/>
<polygon points="138.86,142.4 149.53,140.56 149.87,141.24 139.26,143.07" fill="#ee8350" stroke="#ee8350"/>
<polygon points="139.26,143.07 149.87,141.24 150.21,141.91 139.67,143.73" fill="#ed804c" stroke="#ed804c"/>
<polygon points="139.67,143.73 150.21,141.91 150.53,142.55 140.07,144.36" fill="#ed7c49" stroke="#ed7c49"/>
<polygon points="140.07,144.36 150.53,142.55 150.85,143.17 140.48,144.96" fill="#eb7844" stroke="#eb7844"/>
<polygon points="140.48,144.96 150.85,143.17 151.16,143.76 140.88,145.53" fill="#eb7540" stroke="#eb7540"/>
<polygon points="140.88,145.53 151.16,143.76 151.46,144.31 141.28,146.07" fill="#ea733d" stroke="#ea733d"/>
<polygon points="141.28,146.07 151.46,144.31 151.75,144.83 141.68,146.57" fill="#e86f3a" stroke="#e86f3a"/>
<polygon points="141.68,146.57 151.75,144.83 152.03,145.32 142.08,147.03" fill="#e76c37" stroke="#e76c37"/>
<polygon points="142.08,147.03 152.03,145.32 152.31,145.76 142.47,147.46" fill="#e66a35" stroke="#e66a35"/>
<polygon points="142.47,147.46 152.31,145.76 152.57,146.17 142.86,147.84" fill="#e56632" stroke="#e56632"/>
<polygon points="142.86,147.84 152.57,146.17 152.82,146.53 143.24,148.18" fill="#e36530" stroke="#e36530"/>
<polygon points="143.24,148.18 152.82,146.53 153.06,146.84 143.62,148.47" fill="#e2632f" stroke="#e2632f"/>
<polygon points="143.62,148.47 153.06,146.84 153.29,147.11 143.99,148.72" fill="#e1612d" stroke="#e1612d"/>
<polygon points="143.99,148.72 153.29,147.11 153.51,147.34 144.35,148.92" fill="#df5f2c" stroke="#df5f2c"/>
<polygon points="144.35,148.92 153.51,147.34 153.72,147.51 144.71,149.07" fill="#dd5d2a" stroke="#dd5d2a"/>
<polygon points="144.71,149.07 153.72,147.51 153.93,147.64 145.06,149.17" fill="#dc5c29" stroke="#dc5c29"/>
<polygon points="145.06,149.17 153.93,147.64 154.12,147.71 145.4,149.22" fill="#da5928" stroke="#da5928"/>
<polygon points="145.4,149.22 154.12,147.71 154.3,147.74 145.74,149.21" fill="#d75727" stroke="#d75727"/>
<polygon points="145.74,149.21 154.3,147.74 154.48,147.71 146.06,149.16" fill="#d55526" stroke="#d55526"/>
<polygon points="153.95,122.24 162.47,120.77 162.8,120.75 154.13,122.25" fill="#d44c20" stroke="#d44c20"/>
<polygon points="154.13,122.25 162.8,120.75 163.14,120.78 154.32,122.3" fill="#d64d20" stroke="#d64d20"/>
<polygon points="154.32,122.3 163.14,120.78 163.49,120.87 154.52,122.41" fill="#d84e21" stroke="#d84e21"/>
<polygon points="154.52,122.41 163.49,120.87 163.84,121 154.73,122.57" fill="#da4f21" stroke="#da4f21"/>
<polygon points="154.73,122.57 163.84,121 164.2,121.18 154.95,122.78" fill="#db5022" stroke="#db5022"/>
<polygon points="154.95,122.78 164.2,121.18 164.57,121.41 155.18,123.03" fill="#dd5123" stroke="#dd5123"/>
<polygon points="155.18,123.03 164.57,121.41 164.95,121.69 155.41,123.33" fill="#de5123" stroke="#de5123"/>
<polygon points="155.41,123.33 164.95,121.69 165.33,122.01 155.66,123.68" fill="#df5324" stroke="#df5324"/>
<polygon points="155.66,123.68 165.33,122.01 165.71,122.38 155.92,124.07" fill="#e15526" stroke="#e15526"/>
<polygon points="155.92,124.07 165.71,122.38 166.11,122.79 156.19,124.5" fill="#e25729" stroke="#e25729"/>
<polygon points="156.19,124.5 166.11,122.79 166.5,123.24 156.47,124.97" fill="#e3582b" stroke="#e3582b"/>
<polygon points="156.47,124.97 166.5,123.24 166.9,123.73 156.75,125.48" fill="#e45c2e" stroke="#e45c2e"/>
<polygon points="156.75,125.48 166.9,123.73 167.3,124.26 157.05,126.02" fill="#e55f30" stroke="#e55f30"/>
<polygon points="157.05,126.02 167.3,124.26 167.7,124.82 157.36,126.6" fill="#e56133" stroke="#e56133"/>
<polygon points="157.36,126.6 167.7,124.82 168.11,125.41 157.67,127.21" fill="#e66538" stroke="#e66538"/>
<polygon points="157.67,127.21 168.11,125.41 168.51,126.03 158,127.84" fill="#e8693c" stroke="#e8693c"/>
<polygon points="158,127.84 168.51,126.03 168.92,126.68 158.33,128.5" fill="#e96d40" stroke="#e96d40"/>
<polygon points="158.33,128.5 168.92,126.68 169.32,127.35 158.67,129.18" fill="#e97043" stroke="#e97043"/>
<polygon points="158.67,129.18 169.32,127.35 169.73,128.04 159.02,129.89" fill="#ea7447" stroke="#ea7447"/>
<polygon points="159.02,129.89 169.73,128.04 170.13,128.75 159.38,130.6" fill="#eb774b" stroke="#eb774b"/>
<polygon points="159.38,130.6 170.13,128.75 170.53,129.47 159.74,131.33" fill="#eb794e" stroke="#eb794e"/>
<polygon points="159.74,131.33 170.53,129.47 170.93,130.21 160.11,132.07" fill="#ec7c50" stroke="#ec7c50"/>
<polygon points="160.11,132.07 170.93,130.21 171.32,130.95 160.49,132.82" fill="#ec7d52" stroke="#ec7d52"/>
<polygon points="160.49,132.82 171.32,130.95 171.71,131.7 160.87,133.57" fill="#ec7e53" stroke="#ec7e53"/>
<polygon points="160.87,133.57 171.71,131.7 172.1,132.45 161.26,134.32" fill="#ec7e53" stroke="#ec7e53"/>
<polygon points="161.26,134.32 172.1,132.45 172.48,133.2 161.65,135.07" fill="#ec7e52" stroke="#ec7e52"/>
<polygon points="161.65,135.07 172.48,133.2 172.85,133.94 162.05,135.81" fill="#ec7c51" stroke="#ec7c51"/>
<polygon points="162.05,135.81 172.85,133.94 173.22,134.68 162.45,136.54" fill="#eb7a4f" stroke="#eb7a4f"/>
<polygon points="162.45,136.54 173.22,134.68 173.58,135.41 162.85,137.26" fill="#eb774c" stroke="#eb774c"/>
<polygon points="162.85,137.26 173.58,135.41 173.94,136.12 163.25,137.96" fill="#ea7448" stroke="#ea7448"/>
<polygon points="163.25,137.96 173.94,136.12 174.28,136.81 163.66,138.65" fill="#e97044" stroke="#e97044"/>
<polygon points="163.66,138.65 174.28,136.81 174.62,137.49 164.06,139.31" fill="#e86c40" stroke="#e86c40"/>
<polygon points="164.06,139.31 174.62,137.49 174.95,138.14 164.47,139.95" fill="#e8683c" stroke="#e8683c"/>
<polygon points="164.47,139.95 174.95,138.14 175.27,138.76 164.87,140.56" fill="#e66437" stroke="#e66437"/>
<polygon points="164.87,140.56 175.27,138.76 175.59,139.36 165.28,141.14" fill="#e55e33" stroke="#e55e33"/>
<polygon points="165.28,141.14 175.59,139.36 175.89,139.92 165.68,141.69" fill="#e45b2e" stroke="#e45b2e"/>
<polygon points="165.68,141.69 175.89,139.92 176.18,140.45 166.08,142.2" fill="#e3572b" stroke="#e3572b"/>
<polygon points="166.08,142.2 176.18,140.45 176.47,140.95 166.48,142.67" fill="#e25428" stroke="#e25428"/>
<polygon points="166.48,142.67 176.47,140.95 176.74,141.41 166.87,143.11" fill="#e05025" stroke="#e05025"/>
<polygon points="166.87,143.11 176.74,141.41 177.01,141.82 167.26,143.5" fill="#e04e22" stroke="#e04e22"/>
<polygon points="167.26,143.5 177.01,141.82 177.26,142.2 167.64,143.85" fill="#df4c20" stroke="#df4c20"/>
<polygon points="167.64,143.85 177.26,142.2 177.5,142.52 168.02,144.16" fill="#dc4a1f" stroke="#dc4a1f"/>
<polygon points="168.02,144.16 177.5,142.52 177.74,142.81 168.39,144.42" fill="#db481d" stroke="#db481d"/>
<polygon points="168.39,144.42 177.74,142.81 177.96,143.05 168.76,144.63" fill="#d9471d" stroke="#d9471d"/>
<polygon points="168.76,144.63 177.96,143.05 178.18,143.24 169.12,144.8" fill="#d8451b" stroke="#d8451b"/>
<polygon points="169.12,144.8 178.18,143.24 178.38,143.38 169.47,144.91" fill="#d6441b" stroke="#d6441b"/>
<polygon points="169.47,144.91 178.38,143.38 178.58,143.47 169.82,144.98" fill="#d5441a" stroke="#d5441a"/>
<polygon points="169.82,144.98 178.58,143.47 178.76,143.51 170.16,144.99" fill="#d3431a" stroke="#d3431a"/>
<polygon points="170.16,144.99 178.76,143.51 178.94,143.5 170.48,144.96" fill="#d14119" stroke="#d14119"/>
</g>
<path d="M169.5,144.6 L178,143.4 C181,143 183.5,142.2 185.2,140.8 L184.2,139.4 C181,140.4 177,140.6 172.5,140.8 Z" fill="#d4401a" stroke="none" stroke-width="1" stroke-linejoin="round" stroke-linecap="round" />
<path d="M80,143 C72,142 66,148 68,155 C70,162 80,164 88,160 C94,157 96,151 92,147 C88,144 84,148 86,153 C88,158 94,158 96,154" fill="none" stroke="#d8a020" stroke-width="1.6" stroke-linejoin="round" stroke-linecap="round" />
<path d="M105,134 C104,146 108,151 116,151 C124,151 129,143 131,128" fill="none" stroke="#2cc030" stroke-width="2" stroke-linejoin="round" stroke-linecap="round" />
<path d="M183,141 C180,134 181,127 187,123.5 C193,120 201,123 206,118 C210,113 208,107 206,104" fill="none" stroke="#cc1a28" stroke-width="1.9" stroke-linejoin="round" stroke-linecap="round" />
<polyline points="206,104 210,100 214,97" fill="none" stroke="#8a8a8a" stroke-width="2.4" stroke-linejoin="round" stroke-linecap="round" />
<polyline points="211,96 213,92" fill="none" stroke="#d4c838" stroke-width="2.2" stroke-linejoin="round" stroke-linecap="round" />
<circle cx="52.7" cy="53.8" r="8.5" fill="url(#g0)"/>
<circle cx="49.5" cy="87.2" r="8" fill="url(#g0)"/>
<circle cx="60.7" cy="70" r="8.4" fill="url(#g0)"/>
<circle cx="112.6" cy="44.6" r="7.8" fill="url(#g1)"/>
<circle cx="99.8" cy="66.9" r="7.8" fill="url(#g2)"/>
<circle cx="91.3" cy="102.5" r="7.8" fill="url(#g3)"/>
<circle cx="81.5" cy="137.6" r="7.9" fill="url(#g4)"/>
<circle cx="130.3" cy="82.5" r="7.4" fill="url(#g5)"/>
<circle cx="139.7" cy="89.9" r="7.8" fill="url(#g6)"/>
<circle cx="116.8" cy="75" r="7.8" fill="url(#g7)"/>
<circle cx="141" cy="112.8" r="7.4" fill="url(#g8)"/>
<circle cx="113.5" cy="104" r="7.9" fill="url(#g9)"/>
<circle cx="131" cy="122.9" r="8.1" fill="url(#g10)"/>
<circle cx="105.3" cy="128.6" r="7.9" fill="url(#g11)"/>
</g>
<polyline points="219.1,91.8 221.8,86.4 229.9,87.1 231.2,93.8 225.2,97.9 219.1,91.8" fill="none" stroke="#808080" stroke-width="0.9" stroke-linejoin="round" stroke-linecap="round" />
<polyline points="229.9,87.1 234.5,82.5" fill="none" stroke="#808080" stroke-width="0.9" stroke-linejoin="round" stroke-linecap="round" />
<polyline points="225.2,97.9 223.2,102" fill="none" stroke="#808080" stroke-width="0.9" stroke-linejoin="round" stroke-linecap="round" />
<polyline points="231.2,93.8 236.5,96.8 242.5,93.8 248.5,96.8 254.5,93.8 260.5,96.8 267.3,94.2" fill="none" stroke="#808080" stroke-width="0.9" stroke-linejoin="round" stroke-linecap="round" />
<polyline points="267.3,94.2 267.3,88" fill="none" stroke="#808080" stroke-width="0.9" stroke-linejoin="round" stroke-linecap="round" />
<polyline points="267.3,94.2 272,97.3" fill="none" stroke="#808080" stroke-width="0.9" stroke-linejoin="round" stroke-linecap="round" />
<polyline points="213.5,92.5 219.1,91.8" fill="none" stroke="#c8b030" stroke-width="0.9" stroke-linejoin="round" stroke-linecap="round" />
<text x="235.3" y="83.3" font-size="5" font-weight="bold" fill="#333" text-anchor="middle">O</text>
<text x="222.5" y="105.1" font-size="5" font-weight="bold" fill="#333" text-anchor="middle">O</text>
<text x="231.4" y="95.3" font-size="5" font-weight="bold" fill="#223" text-anchor="middle">N</text>
<text x="267.4" y="88" font-size="5" font-weight="bold" fill="#333" text-anchor="middle">O</text>
<text x="212.8" y="94.3" font-size="5" font-weight="bold" fill="#c8b828" text-anchor="middle">S</text>
<polyline points="274,96.8 279.7,94.4 285.8,97.7 291.9,94.4 298,97.7 304.1,94.4 310.5,97.5" fill="none" stroke="#f3bd70" stroke-width="0.9" stroke-linejoin="round" stroke-linecap="round" />
<polyline points="274.7,83.3 279.7,87.7 285.8,83.3" fill="none" stroke="#f3bd70" stroke-width="0.9" stroke-linejoin="round" stroke-linecap="round" />
<polyline points="285.8,97.7 285.8,103" fill="none" stroke="#f3bd70" stroke-width="0.9" stroke-linejoin="round" stroke-linecap="round" />
<polyline points="298,97.7 298.5,103.5 294.5,107.5 294.5,112.5 290.5,116.5 286.5,118.5" fill="none" stroke="#f3bd70" stroke-width="0.9" stroke-linejoin="round" stroke-linecap="round" />
<polyline points="285.6,121 285.8,125.4" fill="none" stroke="#f3bd70" stroke-width="0.9" stroke-linejoin="round" stroke-linecap="round" />
<polyline points="281,128.5 285.8,125.4 291.5,128.5" fill="none" stroke="#f3bd70" stroke-width="0.9" stroke-linejoin="round" stroke-linecap="round" />
<polyline points="304.1,94.4 304.1,88.2" fill="none" stroke="#f3bd70" stroke-width="0.9" stroke-linejoin="round" stroke-linecap="round" />
<line x1="279.7" y1="94.4" x2="279.7" y2="87.7" stroke="#e8b060" stroke-width="1.8" />
<text x="273.1" y="99.5" font-size="5" font-weight="bold" fill="#e8a23c" text-anchor="middle">N</text>
<text x="273.1" y="103.8" font-size="4.5" font-weight="bold" fill="#e8a23c" text-anchor="middle">H</text>
<text x="285.8" y="106.2" font-size="5" font-weight="bold" fill="#e8a23c" text-anchor="middle">O</text>
<text x="291.9" y="96" font-size="5" font-weight="bold" fill="#e8a23c" text-anchor="middle">N</text>
<text x="291.9" y="91.4" font-size="4.5" font-weight="bold" fill="#e8a23c" text-anchor="middle">H</text>
<text x="304.1" y="88.4" font-size="5" font-weight="bold" fill="#e8a23c" text-anchor="middle">O</text>
<text x="285.4" y="121" font-size="4.5" font-weight="bold" fill="#e8a23c" text-anchor="middle">HN</text>
<text x="279.7" y="131.1" font-size="5" font-weight="bold" fill="#e8a23c" text-anchor="middle">O</text>
<text x="295.3" y="131.1" font-size="4.5" font-weight="bold" fill="#e8a23c" text-anchor="middle">NH₂</text>
<polyline points="313.5,97 318.3,95.1" fill="none" stroke="#9090dc" stroke-width="0.9" stroke-linejoin="round" stroke-linecap="round" />
<polyline points="324.6,84.7 331,88.8 331,95.1 324.6,98.6 318.3,95.1 318.3,88.8 324.6,84.7" fill="none" stroke="#9090dc" stroke-width="0.9" stroke-linejoin="round" stroke-linecap="round" />
<polyline points="331,88.8 336.7,85.3 343.1,88.2 349.4,85.3 355.2,88.2" fill="none" stroke="#9090dc" stroke-width="0.9" stroke-linejoin="round" stroke-linecap="round" />
<polyline points="349.4,85.3 349.4,78.8" fill="none" stroke="#9090dc" stroke-width="0.9" stroke-linejoin="round" stroke-linecap="round" />
<text x="312.5" y="100.2" font-size="5" font-weight="bold" fill="#2828a8" text-anchor="middle">N</text>
<text x="312.5" y="104.1" font-size="4.5" font-weight="bold" fill="#2828a8" text-anchor="middle">H</text>
<text x="343.1" y="90" font-size="5" font-weight="bold" fill="#4848c0" text-anchor="middle">O</text>
<text x="349.4" y="79" font-size="5" font-weight="bold" fill="#4848c0" text-anchor="middle">O</text>
<polyline points="355.7,87.5 355.7,93.9" fill="none" stroke="#e67878" stroke-width="0.9" stroke-linejoin="round" stroke-linecap="round" />
<polyline points="355.7,87.5 361.4,85.2 367.5,88.6 373.6,84.5 379.6,87.9 385.7,84.5 391.7,87.9 397.8,84.5 403.8,88.6 411.2,85.2 416.3,88 422.8,84.2" fill="none" stroke="#e67878" stroke-width="0.9" stroke-linejoin="round" stroke-linecap="round" />
<polyline points="361.4,85.2 361.4,77.8" fill="none" stroke="#e67878" stroke-width="0.9" stroke-linejoin="round" stroke-linecap="round" />
<polyline points="356.7,74.4 361.4,77.8 366.8,74.4" fill="none" stroke="#e67878" stroke-width="0.9" stroke-linejoin="round" stroke-linecap="round" />
<polyline points="367.5,88.6 367.5,94" fill="none" stroke="#e67878" stroke-width="0.9" stroke-linejoin="round" stroke-linecap="round" />
<polyline points="379.6,87.9 379.6,93.9" fill="none" stroke="#e67878" stroke-width="0.9" stroke-linejoin="round" stroke-linecap="round" />
<polyline points="374,97.3 379.6,93.9 385,97.3" fill="none" stroke="#e67878" stroke-width="0.9" stroke-linejoin="round" stroke-linecap="round" />
<polyline points="385.7,84.5 385.7,78.5" fill="none" stroke="#e67878" stroke-width="0.9" stroke-linejoin="round" stroke-linecap="round" />
<polyline points="391.7,87.9 391.7,93.9" fill="none" stroke="#e67878" stroke-width="0.9" stroke-linejoin="round" stroke-linecap="round" />
<polyline points="397.8,84.5 397.8,77.1" fill="none" stroke="#e67878" stroke-width="0.9" stroke-linejoin="round" stroke-linecap="round" />
<polyline points="390.8,74 397.8,77.1 403.8,74.4 409.8,77.8" fill="none" stroke="#e67878" stroke-width="0.9" stroke-linejoin="round" stroke-linecap="round" />
<polyline points="403.8,88.6 403.8,94.6 409.8,97.3" fill="none" stroke="#e67878" stroke-width="0.9" stroke-linejoin="round" stroke-linecap="round" />
<polyline points="416.3,88 416.3,94.5" fill="none" stroke="#e67878" stroke-width="0.9" stroke-linejoin="round" stroke-linecap="round" />
<polyline points="422.8,84.2 418.7,78.8 421.4,73.5 427.5,73.5 428.8,81.5 422.8,84.2" fill="none" stroke="#e67878" stroke-width="0.9" stroke-linejoin="round" stroke-linecap="round" />
<polyline points="428.8,81.5 434.9,84.2 441.6,81.5 447.7,84.9 453.1,80.9 459.8,84.9 465.9,81.5 472.5,85" fill="none" stroke="#e67878" stroke-width="0.9" stroke-linejoin="round" stroke-linecap="round" />
<polyline points="434.9,84.2 434.9,91.6 441,95.7" fill="none" stroke="#e67878" stroke-width="0.9" stroke-linejoin="round" stroke-linecap="round" />
<polyline points="441.6,81.5 441.6,74.8" fill="none" stroke="#e67878" stroke-width="0.9" stroke-linejoin="round" stroke-linecap="round" />
<polyline points="447.7,84.9 447.7,91" fill="none" stroke="#e67878" stroke-width="0.9" stroke-linejoin="round" stroke-linecap="round" />
<polyline points="459.8,84.9 459.8,91.6" fill="none" stroke="#e67878" stroke-width="0.9" stroke-linejoin="round" stroke-linecap="round" />
<polyline points="465.9,81.5 465.9,75.5" fill="none" stroke="#e67878" stroke-width="0.9" stroke-linejoin="round" stroke-linecap="round" />
<polyline points="478.5,83.2 484,86.4 484,92.7 478.5,95.9 473,92.7 473,86.4 478.5,83.2" fill="none" stroke="#e67878" stroke-width="0.9" stroke-linejoin="round" stroke-linecap="round" />
<line x1="390.8" y1="74" x2="397.8" y2="77.1" stroke="#c02a3a" stroke-width="2" />
<line x1="361.4" y1="85.2" x2="361.4" y2="77.8" stroke="#c02a3a" stroke-width="1.8" />
<line x1="459.8" y1="84.9" x2="459.8" y2="91.6" stroke="#c02a3a" stroke-width="1.8" />
<line x1="465.9" y1="81.5" x2="465.9" y2="76" stroke="#c02a3a" stroke-width="1.8" />
<text x="355.7" y="89.8" font-size="5" font-weight="bold" fill="#d83838" text-anchor="middle">N</text>
<text x="367.5" y="97.3" font-size="5" font-weight="bold" fill="#d83838" text-anchor="middle">O</text>
<text x="373.6" y="85.8" font-size="5" font-weight="bold" fill="#d83838" text-anchor="middle">N</text>
<text x="373.6" y="81.3" font-size="4.5" font-weight="bold" fill="#d83838" text-anchor="middle">H</text>
<text x="385.7" y="78.8" font-size="5" font-weight="bold" fill="#d83838" text-anchor="middle">O</text>
<text x="391.7" y="89.8" font-size="5" font-weight="bold" fill="#d83838" text-anchor="middle">N</text>
<text x="403.8" y="96.4" font-size="5" font-weight="bold" fill="#d83838" text-anchor="middle">O</text>
<text x="416.3" y="97.5" font-size="5" font-weight="bold" fill="#d83838" text-anchor="middle">O</text>
<text x="422.8" y="86.2" font-size="5" font-weight="bold" fill="#d83838" text-anchor="middle">N</text>
<text x="434.9" y="93.6" font-size="5" font-weight="bold" fill="#d83838" text-anchor="middle">O</text>
<text x="447.7" y="94.2" font-size="5" font-weight="bold" fill="#d83838" text-anchor="middle">O</text>
<text x="453.1" y="82.3" font-size="5" font-weight="bold" fill="#d83838" text-anchor="middle">N</text>
<text x="453.1" y="77.8" font-size="4.5" font-weight="bold" fill="#d83838" text-anchor="middle">H</text>
<text x="466.5" y="75.8" font-size="5" font-weight="bold" fill="#d83838" text-anchor="middle">OH</text>
<line x1="478.5" y1="84.98" x2="482.46" y2="87.26" stroke="#e67878" stroke-width="0.8" />
<line x1="482.46" y1="91.84" x2="478.5" y2="94.12" stroke="#e67878" stroke-width="0.8" />
<line x1="474.54" y1="91.84" x2="474.54" y2="87.26" stroke="#e67878" stroke-width="0.8" />
<line x1="328.98" y1="89.15" x2="328.98" y2="94.15" stroke="#9090dc" stroke-width="0.8" />
<line x1="324.65" y1="96.65" x2="320.32" y2="94.15" stroke="#9090dc" stroke-width="0.8" />
<line x1="320.32" y1="89.15" x2="324.65" y2="86.65" stroke="#9090dc" stroke-width="0.8" />
<text x="1.8" y="178.3" font-size="15.4" font-weight="bold" fill="#000" text-anchor="start" >B</text>
<line x1="25.5" y1="183.5" x2="25.5" y2="340.7" stroke="#000" stroke-width="1.6" />
<line x1="24.7" y1="340.7" x2="514" y2="340.7" stroke="#000" stroke-width="1.6" />
<polygon points="25.5,179.4 28.2,185 22.8,185" fill="#000" />
<polygon points="518.8,340.7 513,338.2 513,343.2" fill="#000" />
<text transform="translate(18.4,257) rotate(-90) scale(1.05,1)" font-size="10" font-weight="bold" fill="#111" text-anchor="middle">Relative TIC</text>
<text x="280" y="355.2" font-size="10" font-weight="bold" fill="#111" text-anchor="middle" >Time (m)</text>
<line x1="43.8" y1="181.3" x2="43.8" y2="319.7" stroke="#555" stroke-width="1.0" />
<line x1="40.4" y1="319.7" x2="43.8" y2="319.7" stroke="#555" stroke-width="1.0" />
<line x1="40.4" y1="285.1" x2="43.8" y2="285.1" stroke="#555" stroke-width="1.0" />
<line x1="40.4" y1="250.5" x2="43.8" y2="250.5" stroke="#555" stroke-width="1.0" />
<line x1="40.4" y1="215.9" x2="43.8" y2="215.9" stroke="#555" stroke-width="1.0" />
<line x1="40.4" y1="181.3" x2="43.8" y2="181.3" stroke="#555" stroke-width="1.0" />
<line x1="40.4" y1="319.7" x2="196.2" y2="319.7" stroke="#555" stroke-width="1.0" />
<line x1="64.7" y1="319.7" x2="64.7" y2="323.5" stroke="#555" stroke-width="1.0" />
<line x1="85.6" y1="319.7" x2="85.6" y2="323.5" stroke="#555" stroke-width="1.0" />
<line x1="106.5" y1="319.7" x2="106.5" y2="323.5" stroke="#555" stroke-width="1.0" />
<line x1="127.4" y1="319.7" x2="127.4" y2="323.5" stroke="#555" stroke-width="1.0" />
<line x1="148.3" y1="319.7" x2="148.3" y2="323.5" stroke="#555" stroke-width="1.0" />
<line x1="169.2" y1="319.7" x2="169.2" y2="323.5" stroke="#555" stroke-width="1.0" />
<line x1="190.1" y1="319.7" x2="190.1" y2="323.5" stroke="#555" stroke-width="1.0" />
<text transform="translate(43.8,334.3) scale(1.05,1)" font-size="10" font-weight="normal" fill="#333" text-anchor="middle"  stroke="#333" stroke-width="0.22">0</text>
<text transform="translate(148.3,334.3) scale(1.05,1)" font-size="10" font-weight="normal" fill="#333" text-anchor="middle"  stroke="#333" stroke-width="0.22">5</text>
<line x1="204.2" y1="181.3" x2="204.2" y2="319.7" stroke="#555" stroke-width="1.0" />
<line x1="200.8" y1="319.7" x2="204.2" y2="319.7" stroke="#555" stroke-width="1.0" />
<line x1="200.8" y1="285.1" x2="204.2" y2="285.1" stroke="#555" stroke-width="1.0" />
<line x1="200.8" y1="250.5" x2="204.2" y2="250.5" stroke="#555" stroke-width="1.0" />
<line x1="200.8" y1="215.9" x2="204.2" y2="215.9" stroke="#555" stroke-width="1.0" />
<line x1="200.8" y1="181.3" x2="204.2" y2="181.3" stroke="#555" stroke-width="1.0" />
<line x1="200.8" y1="319.7" x2="357.2" y2="319.7" stroke="#555" stroke-width="1.0" />
<line x1="225.1" y1="319.7" x2="225.1" y2="323.5" stroke="#555" stroke-width="1.0" />
<line x1="246" y1="319.7" x2="246" y2="323.5" stroke="#555" stroke-width="1.0" />
<line x1="266.9" y1="319.7" x2="266.9" y2="323.5" stroke="#555" stroke-width="1.0" />
<line x1="287.8" y1="319.7" x2="287.8" y2="323.5" stroke="#555" stroke-width="1.0" />
<line x1="308.7" y1="319.7" x2="308.7" y2="323.5" stroke="#555" stroke-width="1.0" />
<line x1="329.6" y1="319.7" x2="329.6" y2="323.5" stroke="#555" stroke-width="1.0" />
<line x1="350.5" y1="319.7" x2="350.5" y2="323.5" stroke="#555" stroke-width="1.0" />
<text transform="translate(204.2,334.3) scale(1.05,1)" font-size="10" font-weight="normal" fill="#333" text-anchor="middle"  stroke="#333" stroke-width="0.22">0</text>
<text transform="translate(308.7,334.3) scale(1.05,1)" font-size="10" font-weight="normal" fill="#333" text-anchor="middle"  stroke="#333" stroke-width="0.22">5</text>
<line x1="366.2" y1="181.3" x2="366.2" y2="319.7" stroke="#555" stroke-width="1.0" />
<line x1="362.8" y1="319.7" x2="366.2" y2="319.7" stroke="#555" stroke-width="1.0" />
<line x1="362.8" y1="285.1" x2="366.2" y2="285.1" stroke="#555" stroke-width="1.0" />
<line x1="362.8" y1="250.5" x2="366.2" y2="250.5" stroke="#555" stroke-width="1.0" />
<line x1="362.8" y1="215.9" x2="366.2" y2="215.9" stroke="#555" stroke-width="1.0" />
<line x1="362.8" y1="181.3" x2="366.2" y2="181.3" stroke="#555" stroke-width="1.0" />
<line x1="362.8" y1="319.7" x2="515" y2="319.7" stroke="#555" stroke-width="1.0" />
<line x1="387.1" y1="319.7" x2="387.1" y2="323.5" stroke="#555" stroke-width="1.0" />
<line x1="408" y1="319.7" x2="408" y2="323.5" stroke="#555" stroke-width="1.0" />
<line x1="428.9" y1="319.7" x2="428.9" y2="323.5" stroke="#555" stroke-width="1.0" />
<line x1="449.8" y1="319.7" x2="449.8" y2="323.5" stroke="#555" stroke-width="1.0" />
<line x1="470.7" y1="319.7" x2="470.7" y2="323.5" stroke="#555" stroke-width="1.0" />
<line x1="491.6" y1="319.7" x2="491.6" y2="323.5" stroke="#555" stroke-width="1.0" />
<line x1="512.5" y1="319.7" x2="512.5" y2="323.5" stroke="#555" stroke-width="1.0" />
<text transform="translate(366.2,334.3) scale(1.05,1)" font-size="10" font-weight="normal" fill="#333" text-anchor="middle"  stroke="#333" stroke-width="0.22">0</text>
<text transform="translate(470.7,334.3) scale(1.05,1)" font-size="10" font-weight="normal" fill="#333" text-anchor="middle"  stroke="#333" stroke-width="0.22">5</text>
<polyline points="44.84,319.1 45.01,319.1 45.18,319.1 45.34,319.1 45.51,319.1 45.67,319.1 45.84,319.1 46,319.1 46.17,319.1 46.33,319.1 46.5,319.1 46.66,319.1 46.83,319.1 46.99,319.1 47.16,319.1 47.32,319.1 47.49,319.1 47.65,319.1 47.82,319.1 47.98,319.1 48.15,319.1 48.31,319.1 48.48,319.1 48.64,319.1 48.81,319.1 48.97,319.1 49.14,319.1 49.3,319.1 49.47,319.1 49.63,319.1 49.8,319.1 49.96,319.1 50.13,319.1 50.29,319.1 50.46,319.1 50.62,319.1 50.79,319.1 50.95,319.1 51.12,319.1 51.28,319.1 51.45,319.1 51.61,319.1 51.78,319.1 51.94,319.1 52.11,319.1 52.27,319.1 52.44,319.1 52.6,319.1 52.77,319.1 52.93,319.1 53.1,319.1 53.26,319.1 53.43,319.1 53.59,319.1 53.76,319.1 53.92,319.1 54.09,319.1 54.25,319.1 54.42,319.1 54.58,319.1 54.75,319.1 54.91,319.1 55.08,319.1 55.24,319.1 55.41,319.1 55.57,319.1 55.74,319.1 55.9,319.1 56.07,319.1 56.23,319.1 56.4,319.1 56.56,319.1 56.73,319.1 56.89,319.09 57.06,319.09 57.22,319.07 57.39,319.04 57.55,318.98 57.72,318.88 57.88,318.71 58.05,318.44 58.21,318.04 58.38,317.47 58.55,316.72 58.71,315.8 58.88,314.76 59.04,313.67 59.21,312.64 59.37,311.8 59.54,311.26 59.7,311.1 59.87,311.22 60.03,311.53 60.2,312 60.36,312.61 60.53,313.32 60.69,314.07 60.86,314.83 61.02,315.57 61.19,316.25 61.35,316.86 61.52,317.38 61.68,317.81 61.85,318.16 62.01,318.43 62.18,318.63 62.34,318.78 62.51,318.89 62.67,318.97 62.84,319.02 63,319.05 63.17,319.07 63.33,319.08 63.5,319.09 63.66,319.09 63.83,319.1 63.99,319.1 64.16,319.1 64.32,319.1 64.49,319.1 64.65,319.1 64.82,319.1 64.98,319.1 65.15,319.1 65.31,319.1 65.48,319.1 65.64,319.1 65.81,319.1 65.97,319.1 66.14,319.1 66.3,319.1 66.47,319.1 66.63,319.1 66.8,319.1 66.96,319.1 67.13,319.1 67.29,319.1 67.46,319.1 67.62,319.1 67.79,319.1 67.95,319.1 68.12,319.1 68.28,319.1 68.45,319.1 68.61,319.1 68.78,319.1 68.94,319.1 69.11,319.1 69.27,319.1 69.44,319.1 69.6,319.1 69.77,319.1 69.93,319.1 70.1,319.1 70.26,319.1 70.43,319.1 70.59,319.1 70.76,319.1 70.92,319.1 71.09,319.1 71.25,319.1 71.42,319.1 71.58,319.1 71.75,319.1 71.92,319.1 72.08,319.1 72.25,319.1 72.41,319.1 72.58,319.1 72.74,319.1 72.91,319.1 73.07,319.1 73.24,319.1 73.4,319.1 73.57,319.1 73.73,319.1 73.9,319.1 74.06,319.1 74.23,319.1 74.39,319.1 74.56,319.1 74.72,319.1 74.89,319.1 75.05,319.1 75.22,319.1 75.38,319.1 75.55,319.1 75.71,319.1 75.88,319.1 76.04,319.1 76.21,319.1 76.37,319.1 76.54,319.1 76.7,319.1 76.87,319.1 77.03,319.1 77.2,319.1 77.36,319.1 77.53,319.1 77.69,319.1 77.86,319.1 78.02,319.1 78.19,319.1 78.35,319.1 78.52,319.1 78.68,319.1 78.85,319.1 79.01,319.1 79.18,319.1 79.34,319.1 79.51,319.1 79.67,319.1 79.84,319.1 80,319.1 80.17,319.1 80.33,319.1 80.5,319.1 80.66,319.1 80.83,319.1 80.99,319.1 81.16,319.1 81.32,319.1 81.49,319.1 81.65,319.1 81.82,319.1 81.98,319.1 82.15,319.1 82.31,319.1 82.48,319.1 82.64,319.1 82.81,319.1 82.97,319.1 83.14,319.1 83.3,319.1 83.47,319.09 83.63,319.09 83.8,319.08 83.96,319.05 84.13,318.99 84.29,318.86 84.46,318.59 84.62,318.08 84.79,317.18 84.95,315.73 85.12,313.56 85.28,310.61 85.45,306.93 85.62,302.81 85.78,298.75 85.95,295.36 86.11,293.25 86.28,292.74 86.44,292.99 86.61,293.66 86.77,294.68 86.94,296.01 87.1,297.58 87.27,299.3 87.43,301.11 87.6,302.92 87.76,304.68 87.93,306.34 88.09,307.87 88.26,309.23 88.42,310.42 88.59,311.44 88.75,312.29 88.92,312.99 89.08,313.54 89.25,313.98 89.41,314.31 89.58,314.55 89.74,314.73 89.91,314.86 90.07,314.95 90.24,315.01 90.4,315.05 90.57,315.08 90.73,315.09 90.9,315.1 91.06,315.1 91.23,315.1 91.39,315.11 91.56,315.11 91.72,315.1 91.89,315.1 92.05,315.1 92.22,315.1 92.38,315.1 92.55,315.1 92.71,315.1 92.88,315.1 93.04,315.1 93.21,315.1 93.37,315.1 93.54,315.1 93.7,315.1 93.87,315.1 94.03,315.1 94.2,315.1 94.36,315.1 94.53,315.1 94.69,315.1 94.86,315.1 95.02,315.1 95.19,315.1 95.35,315.1 95.52,315.1 95.68,315.1 95.85,315.1 96.01,315.1 96.18,315.1 96.34,315.1 96.51,315.1 96.67,315.1 96.84,315.1 97,315.1 97.17,315.1 97.33,315.1 97.5,315.1 97.66,315.1 97.83,315.1 97.99,315.1 98.16,315.1 98.32,315.1 98.49,315.1 98.65,315.1 98.82,315.1 98.99,315.1 99.15,315.1 99.32,315.1 99.48,315.1 99.65,315.11 99.81,315.11 99.98,315.11 100.14,315.11 100.31,315.11 100.47,315.11 100.64,315.11 100.8,315.12 100.97,315.12 101.13,315.12 101.3,315.13 101.46,315.13 101.63,315.14 101.79,315.14 101.96,315.15 102.12,315.16 102.29,315.17 102.45,315.18 102.62,315.19 102.78,315.21 102.95,315.23 103.11,315.25 103.28,315.27 103.44,315.3 103.61,315.34 103.77,315.37 103.94,315.42 104.1,315.47 104.27,315.52 104.43,315.58 104.6,315.65 104.76,315.73 104.93,315.81 105.09,315.89 105.26,315.96 105.42,316.03 105.59,316.07 105.75,316.07 105.92,316.02 106.08,315.89 106.25,315.68 106.41,315.36 106.58,314.94 106.74,314.44 106.91,313.89 107.07,313.33 107.24,312.82 107.4,312.42 107.57,312.18 107.73,312.15 107.9,312.32 108.06,312.7 108.23,313.22 108.39,313.81 108.56,314.38 108.72,314.81 108.89,314.95 109.05,314.67 109.22,313.77 109.38,312.05 109.55,309.28 109.71,305.21 109.88,299.61 110.04,292.29 110.21,283.15 110.37,272.23 110.54,259.79 110.7,246.28 110.87,232.38 111.03,218.94 111.2,206.91 111.36,197.25 111.53,190.75 111.69,187.99 111.86,188.37 112.02,190.21 112.19,193.41 112.36,197.86 112.52,203.4 112.69,209.87 112.85,217.07 113.02,224.78 113.18,232.79 113.35,240.91 113.51,248.95 113.68,256.75 113.84,264.18 114.01,271.13 114.17,277.54 114.34,283.34 114.5,288.54 114.67,293.11 114.83,297.09 115,300.5 115.16,303.38 115.33,305.78 115.49,307.76 115.66,309.37 115.82,310.66 115.99,311.68 116.15,312.48 116.32,313.1 116.48,313.57 116.65,313.93 116.81,314.19 116.98,314.39 117.14,314.53 117.31,314.64 117.47,314.71 117.64,314.77 117.8,314.8 117.97,314.83 118.13,314.85 118.3,314.87 118.46,314.88 118.63,314.89 118.79,314.9 118.96,314.91 119.12,314.91 119.29,314.92 119.45,314.92 119.62,314.93 119.78,314.93 119.95,314.94 120.11,314.95 120.28,314.95 120.44,314.96 120.61,314.96 120.77,314.97 120.94,314.97 121.1,314.98 121.27,314.98 121.43,314.99 121.6,315 121.76,315 121.93,315.01 122.09,315.01 122.26,315.02 122.42,315.02 122.59,315.03 122.75,315.03 122.92,315.04 123.08,315.05 123.25,315.05 123.41,315.06 123.58,315.06 123.74,315.07 123.91,315.07 124.07,315.08 124.24,315.08 124.4,315.09 124.57,315.1 124.73,315.1 124.9,315.11 125.06,315.11 125.23,315.12 125.39,315.12 125.56,315.13 125.72,315.13 125.89,315.14 126.06,315.14 126.22,315.15 126.39,315.16 126.55,315.16 126.72,315.17 126.88,315.17 127.05,315.18 127.21,315.18 127.38,315.19 127.54,315.19 127.71,315.2 127.87,315.21 128.04,315.21 128.2,315.22 128.37,315.22 128.53,315.23 128.7,315.23 128.86,315.24 129.03,315.24 129.19,315.25 129.36,315.26 129.52,315.26 129.69,315.27 129.85,315.27 130.02,315.28 130.18,315.28 130.35,315.29 130.51,315.29 130.68,315.3 130.84,315.31 131.01,315.31 131.17,315.32 131.34,315.32 131.5,315.33 131.67,315.33 131.83,315.34 132,315.34 132.16,315.35 132.33,315.36 132.49,315.36 132.66,315.37 132.82,315.37 132.99,315.38 133.15,315.38 133.32,315.39 133.48,315.39 133.65,315.4 133.81,315.4 133.98,315.41 134.14,315.42 134.31,315.42 134.47,315.43 134.64,315.43 134.8,315.44 134.97,315.44 135.13,315.45 135.3,315.45 135.46,315.46 135.63,315.47 135.79,315.47 135.96,315.48 136.12,315.48 136.29,315.49 136.45,315.49 136.62,315.5 136.78,315.5 136.95,315.51 137.11,315.52 137.28,315.52 137.44,315.53 137.61,315.53 137.77,315.54 137.94,315.54 138.1,315.55 138.27,315.55 138.43,315.56 138.6,315.57 138.76,315.57 138.93,315.58 139.09,315.58 139.26,315.59 139.43,315.59 139.59,315.6 139.76,315.6 139.92,315.61 140.09,315.61 140.25,315.62 140.42,315.63 140.58,315.63 140.75,315.64 140.91,315.64 141.08,315.65 141.24,315.65 141.41,315.66 141.57,315.66 141.74,315.67 141.9,315.68 142.07,315.68 142.23,315.69 142.4,315.69 142.56,315.7 142.73,315.7 142.89,315.71 143.06,315.71 143.22,315.72 143.39,315.73 143.55,315.73 143.72,315.74 143.88,315.74 144.05,315.75 144.21,315.75 144.38,315.76 144.54,315.76 144.71,315.77 144.87,315.78 145.04,315.78 145.2,315.79 145.37,315.79 145.53,315.8 145.7,315.8 145.86,315.81 146.03,315.81 146.19,315.82 146.36,315.82 146.52,315.83 146.69,315.84 146.85,315.84 147.02,315.85 147.18,315.85 147.35,315.86 147.51,315.86 147.68,315.87 147.84,315.87 148.01,315.88 148.17,315.89 148.34,315.89 148.5,315.9 148.67,315.9 148.83,315.91 149,315.91 149.16,315.92 149.33,315.92 149.49,315.93 149.66,315.94 149.82,315.94 149.99,315.95 150.15,315.95 150.32,315.96 150.48,315.96 150.65,315.97 150.81,315.97 150.98,315.98 151.14,315.99 151.31,315.99 151.47,316 151.64,316 151.8,316.01 151.97,316.01 152.13,316.02 152.3,316.02 152.46,316.03 152.63,316.04 152.8,316.04 152.96,316.05 153.13,316.05 153.29,316.06 153.46,316.06 153.62,316.07 153.79,316.07 153.95,316.08 154.12,316.09 154.28,316.09 154.45,316.1 154.61,316.1 154.78,316.11 154.94,316.11 155.11,316.12 155.27,316.12 155.44,316.13 155.6,316.14 155.77,316.14 155.93,316.15 156.1,316.15 156.26,316.16 156.43,316.16 156.59,316.17 156.76,316.18 156.92,316.18 157.09,316.19 157.25,316.19 157.42,316.2 157.58,316.2 157.75,316.21 157.91,316.22 158.08,316.22 158.24,316.23 158.41,316.23 158.57,316.24 158.74,316.25 158.9,316.25 159.07,316.26 159.23,316.27 159.4,316.27 159.56,316.28 159.73,316.28 159.89,316.29 160.06,316.3 160.22,316.3 160.39,316.31 160.55,316.32 160.72,316.32 160.88,316.33 161.05,316.34 161.21,316.34 161.38,316.35 161.54,316.36 161.71,316.37 161.87,316.37 162.04,316.38 162.2,316.39 162.37,316.4 162.53,316.41 162.7,316.42 162.86,316.43 163.03,316.43 163.19,316.44 163.36,316.45 163.52,316.46 163.69,316.47 163.85,316.49 164.02,316.5 164.18,316.51 164.35,316.52 164.51,316.53 164.68,316.55 164.84,316.56 165.01,316.57 165.17,316.59 165.34,316.61 165.5,316.62 165.67,316.64 165.83,316.66 166,316.68 166.16,316.7 166.33,316.72 166.5,316.74 166.66,316.76 166.83,316.78 166.99,316.81 167.16,316.83 167.32,316.86 167.49,316.89 167.65,316.92 167.82,316.95 167.98,316.98 168.15,317.02 168.31,317.05 168.48,317.09 168.64,317.13 168.81,317.17 168.97,317.21 169.14,317.25 169.3,317.29 169.47,317.33 169.63,317.38 169.8,317.42 169.96,317.47 170.13,317.52 170.29,317.56 170.46,317.61 170.62,317.66 170.79,317.7 170.95,317.74 171.12,317.79 171.28,317.83 171.45,317.86 171.61,317.89 171.78,317.92 171.94,317.94 172.11,317.95 172.27,317.96 172.44,317.95 172.6,317.93 172.77,317.89 172.93,317.84 173.1,317.77 173.26,317.67 173.43,317.55 173.59,317.4 173.76,317.21 173.92,316.99 174.09,316.73 174.25,316.43 174.42,316.07 174.58,315.67 174.75,315.2 174.91,314.68 175.08,314.1 175.24,313.45 175.41,312.74 175.57,311.96 175.74,311.12 175.9,310.21 176.07,309.24 176.23,308.21 176.4,307.13 176.56,306 176.73,304.83 176.89,303.64 177.06,302.42 177.22,301.2 177.39,299.98 177.55,298.79 177.72,297.62 177.88,296.51 178.05,295.45 178.21,294.48 178.38,293.59 178.54,292.81 178.71,292.14 178.87,291.59 179.04,291.18 179.2,290.9 179.37,290.77 179.53,290.78 179.7,290.89 179.87,291.11 180.03,291.43 180.2,291.84 180.36,292.35 180.53,292.94 180.69,293.62 180.86,294.36 181.02,295.18 181.19,296.05 181.35,296.98 181.52,297.94 181.68,298.94 181.85,299.96 182.01,300.99 182.18,302.04 182.34,303.08 182.51,304.11 182.67,305.13 182.84,306.13 183,307.1 183.17,308.04 183.33,308.94 183.5,309.8 183.66,310.63 183.83,311.4 183.99,312.13 184.16,312.82 184.32,313.46 184.49,314.05 184.65,314.6 184.82,315.1 184.98,315.56 185.15,315.98 185.31,316.36 185.48,316.7 185.64,317.01 185.81,317.28 185.97,317.52 186.14,317.74 186.3,317.93 186.47,318.1 186.63,318.25 186.8,318.37 186.96,318.49 187.13,318.58 187.29,318.66 187.46,318.74 187.62,318.8 187.79,318.85 187.95,318.89 188.12,318.93 188.28,318.96 188.45,318.98 188.61,319 188.78,319.02 188.94,319.04 189.11,319.05 189.27,319.06 189.44,319.07 189.6,319.07 189.77,319.08 189.93,319.08 190.1,319.09 190.26,319.09 190.43,319.09 190.59,319.09 190.76,319.1 190.92,319.1 191.09,319.1 191.25,319.1 191.42,319.1 191.58,319.1 191.75,319.1 191.91,319.1 192.08,319.1 192.24,319.1 192.41,319.1 192.57,319.1 192.74,319.1 192.9,319.1 193.07,319.1 193.24,319.1" fill="none" stroke="#6a6a6a" stroke-width="0.9" stroke-linejoin="round" stroke-linecap="round" />
<polyline points="205.24,319.1 205.41,319.1 205.58,319.1 205.74,319.1 205.91,319.1 206.07,319.1 206.24,319.1 206.4,319.1 206.57,319.1 206.73,319.1 206.9,319.1 207.06,319.1 207.23,319.1 207.39,319.1 207.56,319.1 207.72,319.1 207.89,319.1 208.05,319.1 208.22,319.1 208.38,319.1 208.55,319.1 208.71,319.1 208.88,319.1 209.04,319.1 209.21,319.1 209.37,319.1 209.54,319.1 209.7,319.1 209.87,319.1 210.03,319.1 210.2,319.1 210.36,319.1 210.53,319.1 210.69,319.1 210.86,319.1 211.02,319.1 211.19,319.1 211.35,319.1 211.52,319.1 211.68,319.1 211.85,319.1 212.01,319.1 212.18,319.1 212.34,319.1 212.51,319.1 212.67,319.1 212.84,319.1 213,319.1 213.17,319.1 213.33,319.1 213.5,319.1 213.66,319.1 213.83,319.1 213.99,319.1 214.16,319.1 214.32,319.1 214.49,319.09 214.65,319.09 214.82,319.09 214.98,319.09 215.15,319.09 215.31,319.09 215.48,319.09 215.64,319.09 215.81,319.09 215.97,319.09 216.14,319.09 216.3,319.09 216.47,319.09 216.63,319.09 216.8,319.09 216.96,319.09 217.13,319.09 217.29,319.09 217.46,319.09 217.62,319.09 217.79,319.08 217.95,319.07 218.12,319.05 218.28,318.98 218.45,318.85 218.61,318.59 218.78,318.11 218.95,317.3 219.11,316.05 219.28,314.27 219.44,311.95 219.61,309.22 219.77,306.37 219.94,303.79 220.1,301.91 220.27,301.1 220.43,301.33 220.6,302.23 220.76,303.69 220.93,305.57 221.09,307.67 221.26,309.81 221.42,311.84 221.59,313.64 221.75,315.15 221.92,316.35 222.08,317.25 222.25,317.9 222.41,318.35 222.58,318.64 222.74,318.83 222.91,318.94 223.07,319 223.24,319.04 223.4,319.05 223.57,319.06 223.73,319.07 223.9,319.07 224.06,319.07 224.23,319.07 224.39,319.07 224.56,319.07 224.72,319.06 224.89,319.06 225.05,319.06 225.22,319.06 225.38,319.06 225.55,319.06 225.71,319.06 225.88,319.06 226.04,319.05 226.21,319.05 226.37,319.05 226.54,319.05 226.7,319.05 226.87,319.05 227.03,319.04 227.2,319.04 227.36,319.04 227.53,319.04 227.69,319.04 227.86,319.04 228.02,319.03 228.19,319.03 228.35,319.03 228.52,319.03 228.68,319.02 228.85,319.02 229.01,319.02 229.18,319.02 229.34,319.01 229.51,319.01 229.67,319.01 229.84,319.01 230,319 230.17,319 230.33,319 230.5,318.99 230.66,318.99 230.83,318.99 230.99,318.98 231.16,318.98 231.32,318.98 231.49,318.97 231.65,318.97 231.82,318.96 231.98,318.96 232.15,318.95 232.32,318.95 232.48,318.94 232.65,318.94 232.81,318.94 232.98,318.93 233.14,318.92 233.31,318.92 233.47,318.91 233.64,318.91 233.8,318.9 233.97,318.9 234.13,318.89 234.3,318.88 234.46,318.88 234.63,318.87 234.79,318.86 234.96,318.85 235.12,318.85 235.29,318.84 235.45,318.83 235.62,318.82 235.78,318.81 235.95,318.81 236.11,318.8 236.28,318.79 236.44,318.78 236.61,318.77 236.77,318.76 236.94,318.75 237.1,318.74 237.27,318.72 237.43,318.71 237.6,318.7 237.76,318.69 237.93,318.68 238.09,318.66 238.26,318.65 238.42,318.64 238.59,318.62 238.75,318.61 238.92,318.6 239.08,318.58 239.25,318.57 239.41,318.55 239.58,318.53 239.74,318.52 239.91,318.5 240.07,318.48 240.24,318.46 240.4,318.45 240.57,318.43 240.73,318.41 240.9,318.39 241.06,318.37 241.23,318.35 241.39,318.32 241.56,318.3 241.72,318.28 241.89,318.26 242.05,318.23 242.22,318.21 242.38,318.18 242.55,318.16 242.71,318.13 242.88,318.1 243.04,318.08 243.21,318.05 243.37,318.02 243.54,317.99 243.7,317.96 243.87,317.93 244.03,317.9 244.2,317.87 244.36,317.84 244.53,317.8 244.69,317.77 244.86,317.74 245.02,317.7 245.19,317.66 245.35,317.63 245.52,317.59 245.68,317.55 245.85,317.52 246.02,317.48 246.18,317.44 246.35,317.4 246.51,317.35 246.68,317.31 246.84,317.27 247.01,317.23 247.17,317.18 247.34,317.14 247.5,317.09 247.67,317.05 247.83,317 248,316.96 248.16,316.91 248.33,316.86 248.49,316.81 248.66,316.76 248.82,316.71 248.99,316.67 249.15,316.61 249.32,316.56 249.48,316.51 249.65,316.46 249.81,316.41 249.98,316.36 250.14,316.3 250.31,316.25 250.47,316.2 250.64,316.14 250.8,316.09 250.97,316.03 251.13,315.98 251.3,315.92 251.46,315.87 251.63,315.81 251.79,315.76 251.96,315.7 252.12,315.65 252.29,315.59 252.45,315.53 252.62,315.48 252.78,315.42 252.95,315.36 253.11,315.3 253.28,315.24 253.44,315.18 253.61,315.12 253.77,315.05 253.94,314.98 254.1,314.9 254.27,314.82 254.43,314.74 254.6,314.65 254.76,314.55 254.93,314.44 255.09,314.32 255.26,314.19 255.42,314.05 255.59,313.89 255.75,313.73 255.92,313.55 256.08,313.36 256.25,313.15 256.41,312.94 256.58,312.73 256.74,312.5 256.91,312.28 257.07,312.05 257.24,311.83 257.4,311.62 257.57,311.43 257.73,311.25 257.9,311.09 258.06,310.96 258.23,310.85 258.39,310.77 258.56,310.72 258.72,310.69 258.89,310.68 259.05,310.69 259.22,310.72 259.39,310.76 259.55,310.82 259.72,310.9 259.88,310.98 260.05,311.07 260.21,311.18 260.38,311.28 260.54,311.4 260.71,311.51 260.87,311.62 261.04,311.73 261.2,311.84 261.37,311.94 261.53,312.04 261.7,312.13 261.86,312.21 262.03,312.29 262.19,312.36 262.36,312.42 262.52,312.47 262.69,312.52 262.85,312.56 263.02,312.59 263.18,312.62 263.35,312.64 263.51,312.65 263.68,312.66 263.84,312.67 264.01,312.67 264.17,312.67 264.34,312.67 264.5,312.66 264.67,312.66 264.83,312.65 265,312.64 265.16,312.63 265.33,312.62 265.49,312.61 265.66,312.6 265.82,312.59 265.99,312.57 266.15,312.56 266.32,312.55 266.48,312.54 266.65,312.53 266.81,312.52 266.98,312.51 267.14,312.5 267.31,312.5 267.47,312.49 267.64,312.48 267.8,312.48 267.97,312.48 268.13,312.47 268.3,312.47 268.46,312.47 268.63,312.48 268.79,312.48 268.96,312.49 269.12,312.5 269.29,312.52 269.45,312.54 269.62,312.56 269.78,312.59 269.95,312.62 270.11,312.67 270.28,312.71 270.44,312.77 270.61,312.84 270.77,312.92 270.94,313 271.1,313.11 271.27,313.22 271.43,313.35 271.6,313.5 271.76,313.66 271.93,313.83 272.09,314.02 272.26,314.23 272.42,314.44 272.59,314.65 272.76,314.84 272.92,315.01 273.09,315.12 273.25,315.11 273.42,314.94 273.58,314.49 273.75,313.64 273.91,312.24 274.08,310.08 274.24,306.94 274.41,302.61 274.57,296.88 274.74,289.63 274.9,280.84 275.07,270.65 275.23,259.37 275.4,247.53 275.56,235.78 275.73,224.91 275.89,215.74 276.06,209 276.22,205.25 276.39,204.62 276.55,206.04 276.72,209.23 276.88,214.02 277.05,220.15 277.21,227.33 277.38,235.22 277.54,243.5 277.71,251.83 277.87,259.95 278.04,267.61 278.2,274.66 278.37,280.97 278.53,286.49 278.7,291.22 278.86,295.18 279.03,298.44 279.19,301.06 279.36,303.13 279.52,304.74 279.69,305.97 279.85,306.9 280.02,307.62 280.18,308.16 280.35,308.58 280.51,308.91 280.68,309.18 280.84,309.41 281.01,309.62 281.17,309.81 281.34,309.99 281.5,310.17 281.67,310.34 281.83,310.5 282,310.67 282.16,310.82 282.33,310.98 282.49,311.12 282.66,311.26 282.82,311.4 282.99,311.53 283.15,311.64 283.32,311.76 283.48,311.86 283.65,311.96 283.81,312.05 283.98,312.13 284.14,312.21 284.31,312.27 284.47,312.34 284.64,312.39 284.8,312.44 284.97,312.49 285.13,312.53 285.3,312.56 285.46,312.59 285.63,312.62 285.79,312.65 285.96,312.67 286.12,312.69 286.29,312.71 286.46,312.72 286.62,312.73 286.79,312.75 286.95,312.76 287.12,312.77 287.28,312.78 287.45,312.79 287.61,312.79 287.78,312.8 287.94,312.81 288.11,312.81 288.27,312.82 288.44,312.83 288.6,312.83 288.77,312.84 288.93,312.84 289.1,312.85 289.26,312.85 289.43,312.86 289.59,312.86 289.76,312.87 289.92,312.87 290.09,312.88 290.25,312.88 290.42,312.89 290.58,312.89 290.75,312.9 290.91,312.9 291.08,312.91 291.24,312.91 291.41,312.92 291.57,312.92 291.74,312.93 291.9,312.93 292.07,312.94 292.23,312.94 292.4,312.95 292.56,312.95 292.73,312.96 292.89,312.96 293.06,312.97 293.22,312.97 293.39,312.98 293.55,312.98 293.72,312.99 293.88,312.99 294.05,313 294.21,313 294.38,313.01 294.54,313.01 294.71,313.01 294.87,313.02 295.04,313.02 295.2,313.03 295.37,313.03 295.53,313.04 295.7,313.04 295.86,313.05 296.03,313.05 296.19,313.06 296.36,313.06 296.52,313.07 296.69,313.07 296.85,313.08 297.02,313.08 297.18,313.09 297.35,313.09 297.51,313.1 297.68,313.1 297.84,313.11 298.01,313.11 298.17,313.12 298.34,313.12 298.5,313.13 298.67,313.13 298.83,313.14 299,313.14 299.16,313.15 299.33,313.15 299.49,313.16 299.66,313.16 299.83,313.17 299.99,313.17 300.16,313.18 300.32,313.18 300.49,313.19 300.65,313.19 300.82,313.2 300.98,313.2 301.15,313.21 301.31,313.21 301.48,313.22 301.64,313.22 301.81,313.23 301.97,313.23 302.14,313.24 302.3,313.24 302.47,313.25 302.63,313.25 302.8,313.25 302.96,313.26 303.13,313.26 303.29,313.27 303.46,313.27 303.62,313.28 303.79,313.28 303.95,313.29 304.12,313.29 304.28,313.3 304.45,313.3 304.61,313.31 304.78,313.31 304.94,313.32 305.11,313.32 305.27,313.33 305.44,313.33 305.6,313.34 305.77,313.34 305.93,313.35 306.1,313.35 306.26,313.36 306.43,313.36 306.59,313.37 306.76,313.37 306.92,313.38 307.09,313.38 307.25,313.39 307.42,313.39 307.58,313.4 307.75,313.4 307.91,313.41 308.08,313.41 308.24,313.42 308.41,313.42 308.57,313.43 308.74,313.43 308.9,313.44 309.07,313.44 309.23,313.45 309.4,313.45 309.56,313.46 309.73,313.46 309.89,313.47 310.06,313.47 310.22,313.48 310.39,313.48 310.55,313.49 310.72,313.49 310.88,313.49 311.05,313.5 311.21,313.5 311.38,313.51 311.54,313.51 311.71,313.52 311.87,313.52 312.04,313.53 312.2,313.53 312.37,313.54 312.53,313.54 312.7,313.55 312.86,313.55 313.03,313.56 313.2,313.56 313.36,313.57 313.53,313.57 313.69,313.58 313.86,313.58 314.02,313.59 314.19,313.59 314.35,313.6 314.52,313.6 314.68,313.61 314.85,313.61 315.01,313.62 315.18,313.62 315.34,313.63 315.51,313.63 315.67,313.64 315.84,313.64 316,313.65 316.17,313.65 316.33,313.66 316.5,313.66 316.66,313.67 316.83,313.67 316.99,313.68 317.16,313.68 317.32,313.69 317.49,313.69 317.65,313.7 317.82,313.7 317.98,313.71 318.15,313.71 318.31,313.72 318.48,313.72 318.64,313.72 318.81,313.73 318.97,313.73 319.14,313.74 319.3,313.74 319.47,313.75 319.63,313.75 319.8,313.76 319.96,313.76 320.13,313.77 320.29,313.77 320.46,313.78 320.62,313.78 320.79,313.79 320.95,313.79 321.12,313.8 321.28,313.8 321.45,313.81 321.61,313.81 321.78,313.82 321.94,313.82 322.11,313.83 322.27,313.83 322.44,313.84 322.6,313.84 322.77,313.85 322.93,313.85 323.1,313.86 323.26,313.86 323.43,313.87 323.59,313.87 323.76,313.88 323.92,313.88 324.09,313.89 324.25,313.89 324.42,313.9 324.58,313.9 324.75,313.91 324.91,313.91 325.08,313.92 325.24,313.92 325.41,313.93 325.57,313.93 325.74,313.94 325.9,313.94 326.07,313.95 326.23,313.95 326.4,313.96 326.56,313.96 326.73,313.96 326.9,313.97 327.06,313.97 327.23,313.98 327.39,313.98 327.56,313.99 327.72,313.99 327.89,314 328.05,314 328.22,314.01 328.38,314.01 328.55,314.02 328.71,314.02 328.88,314.03 329.04,314.03 329.21,314.04 329.37,314.04 329.54,314.05 329.7,314.05 329.87,314.05 330.03,314.06 330.2,314.06 330.36,314.06 330.53,314.07 330.69,314.07 330.86,314.07 331.02,314.07 331.19,314.07 331.35,314.07 331.52,314.07 331.68,314.06 331.85,314.06 332.01,314.05 332.18,314.04 332.34,314.03 332.51,314.01 332.67,313.99 332.84,313.97 333,313.95 333.17,313.92 333.33,313.89 333.5,313.86 333.66,313.83 333.83,313.79 333.99,313.75 334.16,313.7 334.32,313.66 334.49,313.61 334.65,313.56 334.82,313.51 334.98,313.46 335.15,313.42 335.31,313.37 335.48,313.33 335.64,313.29 335.81,313.26 335.97,313.24 336.14,313.22 336.3,313.2 336.47,313.2 336.63,313.2 336.8,313.22 336.96,313.24 337.13,313.28 337.29,313.33 337.46,313.4 337.62,313.48 337.79,313.57 337.95,313.67 338.12,313.79 338.28,313.91 338.45,314.04 338.61,314.18 338.78,314.33 338.94,314.48 339.11,314.64 339.27,314.8 339.44,314.96 339.6,315.13 339.77,315.3 339.93,315.47 340.1,315.64 340.27,315.82 340.43,315.99 340.6,316.17 340.76,316.34 340.93,316.52 341.09,316.69 341.26,316.86 341.42,317.02 341.59,317.18 341.75,317.34 341.92,317.48 342.08,317.63 342.25,317.76 342.41,317.88 342.58,318 342.74,318.11 342.91,318.21 343.07,318.3 343.24,318.39 343.4,318.46 343.57,318.53 343.73,318.6 343.9,318.65 344.06,318.7 344.23,318.75 344.39,318.79 344.56,318.83 344.72,318.86 344.89,318.89 345.05,318.91 345.22,318.93 345.38,318.95 345.55,318.97 345.71,318.99 345.88,319 346.04,319.01 346.21,319.02 346.37,319.03 346.54,319.04 346.7,319.05 346.87,319.05 347.03,319.06 347.2,319.07 347.36,319.07 347.53,319.07 347.69,319.08 347.86,319.08 348.02,319.08 348.19,319.08 348.35,319.09 348.52,319.09 348.68,319.09 348.85,319.09 349.01,319.09 349.18,319.09 349.34,319.09 349.51,319.09 349.67,319.1 349.84,319.1 350,319.1 350.17,319.1 350.33,319.1 350.5,319.1 350.66,319.1 350.83,319.1 350.99,319.1 351.16,319.1 351.32,319.1 351.49,319.1 351.65,319.1 351.82,319.1 351.98,319.1 352.15,319.1 352.31,319.1 352.48,319.1 352.64,319.1 352.81,319.1 352.97,319.1 353.14,319.1 353.3,319.1 353.47,319.1 353.63,319.1" fill="none" stroke="#6a6a6a" stroke-width="0.9" stroke-linejoin="round" stroke-linecap="round" />
<polyline points="367.25,319.1 367.41,319.1 367.57,319.1 367.73,319.1 367.89,319.1 368.05,319.1 368.21,319.1 368.38,319.1 368.54,319.1 368.7,319.1 368.86,319.1 369.02,319.1 369.18,319.1 369.35,319.1 369.51,319.1 369.67,319.1 369.83,319.1 369.99,319.1 370.15,319.1 370.31,319.1 370.48,319.1 370.64,319.1 370.8,319.1 370.96,319.1 371.12,319.1 371.28,319.1 371.45,319.1 371.61,319.1 371.77,319.1 371.93,319.1 372.09,319.1 372.25,319.1 372.42,319.1 372.58,319.1 372.74,319.1 372.9,319.1 373.06,319.1 373.22,319.1 373.38,319.1 373.55,319.1 373.71,319.1 373.87,319.1 374.03,319.1 374.19,319.1 374.35,319.1 374.52,319.1 374.68,319.1 374.84,319.1 375,319.1 375.16,319.1 375.32,319.1 375.49,319.1 375.65,319.1 375.81,319.1 375.97,319.1 376.13,319.1 376.29,319.1 376.45,319.1 376.62,319.1 376.78,319.1 376.94,319.1 377.1,319.1 377.26,319.1 377.42,319.1 377.59,319.1 377.75,319.1 377.91,319.1 378.07,319.1 378.23,319.1 378.39,319.1 378.56,319.1 378.72,319.1 378.88,319.1 379.04,319.1 379.2,319.1 379.36,319.1 379.52,319.09 379.69,319.08 379.85,319.06 380.01,319.02 380.17,318.94 380.33,318.8 380.49,318.57 380.66,318.2 380.82,317.66 380.98,316.91 381.14,315.92 381.3,314.71 381.46,313.32 381.63,311.85 381.79,310.44 381.95,309.26 382.11,308.44 382.27,308.1 382.43,308.2 382.59,308.55 382.76,309.13 382.92,309.9 383.08,310.81 383.24,311.81 383.4,312.84 383.56,313.85 383.73,314.8 383.89,315.66 384.05,316.42 384.21,317.06 384.37,317.58 384.53,318 384.69,318.32 384.86,318.56 385.02,318.73 385.18,318.86 385.34,318.94 385.5,319 385.66,319.04 385.83,319.06 385.99,319.08 386.15,319.09 386.31,319.09 386.47,319.1 386.63,319.1 386.8,319.1 386.96,319.1 387.12,319.1 387.28,319.1 387.44,319.1 387.6,319.1 387.76,319.1 387.93,319.1 388.09,319.1 388.25,319.1 388.41,319.1 388.57,319.1 388.73,319.1 388.9,319.1 389.06,319.1 389.22,319.1 389.38,319.1 389.54,319.1 389.7,319.1 389.87,319.1 390.03,319.1 390.19,319.1 390.35,319.1 390.51,319.1 390.67,319.1 390.83,319.1 391,319.1 391.16,319.1 391.32,319.1 391.48,319.1 391.64,319.1 391.8,319.1 391.97,319.1 392.13,319.1 392.29,319.1 392.45,319.1 392.61,319.1 392.77,319.1 392.94,319.1 393.1,319.1 393.26,319.1 393.42,319.1 393.58,319.1 393.74,319.1 393.9,319.1 394.07,319.1 394.23,319.1 394.39,319.1 394.55,319.1 394.71,319.1 394.87,319.1 395.04,319.1 395.2,319.1 395.36,319.1 395.52,319.1 395.68,319.1 395.84,319.1 396.01,319.1 396.17,319.1 396.33,319.1 396.49,319.1 396.65,319.1 396.81,319.1 396.97,319.1 397.14,319.1 397.3,319.1 397.46,319.1 397.62,319.1 397.78,319.1 397.94,319.1 398.11,319.1 398.27,319.1 398.43,319.1 398.59,319.1 398.75,319.1 398.91,319.1 399.08,319.1 399.24,319.1 399.4,319.1 399.56,319.1 399.72,319.1 399.88,319.1 400.04,319.1 400.21,319.1 400.37,319.1 400.53,319.1 400.69,319.1 400.85,319.1 401.01,319.1 401.18,319.1 401.34,319.1 401.5,319.1 401.66,319.1 401.82,319.1 401.98,319.1 402.14,319.1 402.31,319.1 402.47,319.1 402.63,319.1 402.79,319.1 402.95,319.1 403.11,319.1 403.28,319.1 403.44,319.1 403.6,319.1 403.76,319.1 403.92,319.1 404.08,319.09 404.25,319.09 404.41,319.09 404.57,319.09 404.73,319.09 404.89,319.08 405.05,319.07 405.21,319.06 405.38,319.02 405.54,318.96 405.7,318.84 405.86,318.64 406.02,318.3 406.18,317.79 406.35,317.04 406.51,316 406.67,314.66 406.83,313.03 406.99,311.2 407.15,309.29 407.32,307.5 407.48,306.03 407.64,305.07 407.8,304.74 407.96,304.81 408.12,305.05 408.28,305.44 408.45,305.98 408.61,306.64 408.77,307.39 408.93,308.22 409.09,309.1 409.25,309.99 409.42,310.89 409.58,311.75 409.74,312.58 409.9,313.35 410.06,314.05 410.22,314.69 410.39,315.24 410.55,315.72 410.71,316.13 410.87,316.46 411.03,316.74 411.19,316.96 411.35,317.14 411.52,317.27 411.68,317.37 411.84,317.44 412,317.5 412.16,317.53 412.32,317.55 412.49,317.56 412.65,317.57 412.81,317.57 412.97,317.57 413.13,317.56 413.29,317.56 413.46,317.55 413.62,317.55 413.78,317.54 413.94,317.54 414.1,317.53 414.26,317.53 414.42,317.52 414.59,317.52 414.75,317.52 414.91,317.52 415.07,317.51 415.23,317.51 415.39,317.51 415.56,317.51 415.72,317.51 415.88,317.51 416.04,317.51 416.2,317.5 416.36,317.5 416.53,317.5 416.69,317.5 416.85,317.5 417.01,317.5 417.17,317.5 417.33,317.5 417.49,317.5 417.66,317.5 417.82,317.5 417.98,317.5 418.14,317.5 418.3,317.5 418.46,317.5 418.63,317.5 418.79,317.5 418.95,317.5 419.11,317.5 419.27,317.5 419.43,317.5 419.59,317.5 419.76,317.5 419.92,317.5 420.08,317.5 420.24,317.5 420.4,317.5 420.56,317.5 420.73,317.5 420.89,317.5 421.05,317.5 421.21,317.5 421.37,317.5 421.53,317.5 421.7,317.5 421.86,317.5 422.02,317.5 422.18,317.5 422.34,317.5 422.5,317.5 422.66,317.5 422.83,317.5 422.99,317.51 423.15,317.51 423.31,317.51 423.47,317.51 423.63,317.51 423.8,317.51 423.96,317.51 424.12,317.52 424.28,317.52 424.44,317.52 424.6,317.53 424.77,317.53 424.93,317.53 425.09,317.54 425.25,317.54 425.41,317.54 425.57,317.53 425.73,317.51 425.9,317.47 426.06,317.4 426.22,317.29 426.38,317.11 426.54,316.86 426.7,316.52 426.87,316.07 427.03,315.52 427.19,314.87 427.35,314.15 427.51,313.41 427.67,312.7 427.84,312.08 428,311.63 428.16,311.39 428.32,311.39 428.48,311.64 428.64,312.11 428.8,312.75 428.97,313.49 429.13,314.21 429.29,314.78 429.45,315.03 429.61,314.69 429.77,313.4 429.94,310.69 430.1,305.95 430.26,298.57 430.42,288.01 430.58,274.07 430.74,257.09 430.91,238.1 431.07,218.84 431.23,201.56 431.39,188.61 431.55,181.9 431.71,182.01 431.87,187.16 432.04,196.45 432.2,208.7 432.36,222.47 432.52,236.21 432.68,248.53 432.84,258.4 433.01,265.23 433.17,268.96 433.33,270.03 433.49,269.26 433.65,267.71 433.81,266.43 433.98,266.32 434.14,267.61 434.3,269.66 434.46,272.49 434.62,276.05 434.78,280.18 434.94,284.69 435.11,289.34 435.27,293.93 435.43,298.26 435.59,302.21 435.75,305.67 435.91,308.61 436.08,311.02 436.24,312.94 436.4,314.43 436.56,315.54 436.72,316.35 436.88,316.92 437.04,317.31 437.21,317.57 437.37,317.73 437.53,317.84 437.69,317.89 437.85,317.93 438.01,317.94 438.18,317.95 438.34,317.95 438.5,317.94 438.66,317.94 438.82,317.93 438.98,317.93 439.15,317.93 439.31,317.92 439.47,317.92 439.63,317.92 439.79,317.91 439.95,317.91 440.11,317.91 440.28,317.91 440.44,317.91 440.6,317.91 440.76,317.91 440.92,317.9 441.08,317.9 441.25,317.9 441.41,317.9 441.57,317.9 441.73,317.9 441.89,317.9 442.05,317.9 442.22,317.9 442.38,317.9 442.54,317.89 442.7,317.89 442.86,317.88 443.02,317.87 443.18,317.85 443.35,317.83 443.51,317.79 443.67,317.75 443.83,317.69 443.99,317.61 444.15,317.51 444.32,317.39 444.48,317.24 444.64,317.08 444.8,316.91 444.96,316.72 445.12,316.54 445.29,316.36 445.45,316.2 445.61,316.06 445.77,315.96 445.93,315.91 446.09,315.9 446.25,315.94 446.42,316.03 446.58,316.15 446.74,316.3 446.9,316.48 447.06,316.66 447.22,316.85 447.39,317.03 447.55,317.2 447.71,317.34 447.87,317.47 448.03,317.58 448.19,317.66 448.36,317.73 448.52,317.78 448.68,317.82 448.84,317.85 449,317.86 449.16,317.88 449.32,317.89 449.49,317.89 449.65,317.89 449.81,317.9 449.97,317.9 450.13,317.9 450.29,317.9 450.46,317.9 450.62,317.9 450.78,317.9 450.94,317.9 451.1,317.9 451.26,317.9 451.43,317.9 451.59,317.9 451.75,317.9 451.91,317.9 452.07,317.9 452.23,317.9 452.39,317.9 452.56,317.9 452.72,317.9 452.88,317.9 453.04,317.9 453.2,317.9 453.36,317.9 453.53,317.9 453.69,317.9 453.85,317.9 454.01,317.9 454.17,317.9 454.33,317.9 454.49,317.9 454.66,317.9 454.82,317.9 454.98,317.9 455.14,317.9 455.3,317.9 455.46,317.9 455.63,317.9 455.79,317.9 455.95,317.9 456.11,317.9 456.27,317.9 456.43,317.9 456.6,317.9 456.76,317.9 456.92,317.9 457.08,317.9 457.24,317.9 457.4,317.9 457.56,317.9 457.73,317.9 457.89,317.9 458.05,317.9 458.21,317.9 458.37,317.9 458.53,317.9 458.7,317.9 458.86,317.9 459.02,317.9 459.18,317.9 459.34,317.9 459.5,317.9 459.67,317.9 459.83,317.9 459.99,317.9 460.15,317.9 460.31,317.9 460.47,317.9 460.63,317.9 460.8,317.9 460.96,317.9 461.12,317.9 461.28,317.9 461.44,317.9 461.6,317.9 461.77,317.9 461.93,317.9 462.09,317.9 462.25,317.9 462.41,317.9 462.57,317.9 462.74,317.9 462.9,317.9 463.06,317.9 463.22,317.9 463.38,317.9 463.54,317.9 463.7,317.9 463.87,317.9 464.03,317.9 464.19,317.9 464.35,317.9 464.51,317.9 464.67,317.9 464.84,317.9 465,317.9 465.16,317.9 465.32,317.9 465.48,317.9 465.64,317.9 465.81,317.9 465.97,317.9 466.13,317.9 466.29,317.9 466.45,317.9 466.61,317.9 466.77,317.9 466.94,317.9 467.1,317.9 467.26,317.9 467.42,317.9 467.58,317.9 467.74,317.9 467.91,317.9 468.07,317.9 468.23,317.9 468.39,317.9 468.55,317.9 468.71,317.9 468.88,317.9 469.04,317.9 469.2,317.9 469.36,317.9 469.52,317.9 469.68,317.9 469.84,317.9 470.01,317.9 470.17,317.9 470.33,317.9 470.49,317.9 470.65,317.9 470.81,317.9 470.98,317.9 471.14,317.9 471.3,317.9 471.46,317.9 471.62,317.9 471.78,317.9 471.94,317.9 472.11,317.9 472.27,317.9 472.43,317.9 472.59,317.9 472.75,317.9 472.91,317.9 473.08,317.9 473.24,317.9 473.4,317.9 473.56,317.9 473.72,317.9 473.88,317.9 474.05,317.9 474.21,317.9 474.37,317.9 474.53,317.9 474.69,317.9 474.85,317.9 475.01,317.9 475.18,317.9 475.34,317.9 475.5,317.9 475.66,317.9 475.82,317.9 475.98,317.9 476.15,317.9 476.31,317.9 476.47,317.9 476.63,317.9 476.79,317.9 476.95,317.9 477.12,317.9 477.28,317.9 477.44,317.9 477.6,317.9 477.76,317.9 477.92,317.9 478.08,317.9 478.25,317.9 478.41,317.9 478.57,317.9 478.73,317.9 478.89,317.9 479.05,317.9 479.22,317.9 479.38,317.9 479.54,317.9 479.7,317.9 479.86,317.9 480.02,317.9 480.19,317.9 480.35,317.9 480.51,317.9 480.67,317.9 480.83,317.9 480.99,317.9 481.15,317.9 481.32,317.9 481.48,317.9 481.64,317.9 481.8,317.9 481.96,317.9 482.12,317.9 482.29,317.9 482.45,317.9 482.61,317.9 482.77,317.9 482.93,317.9 483.09,317.9 483.26,317.9 483.42,317.9 483.58,317.9 483.74,317.9 483.9,317.9 484.06,317.9 484.22,317.9 484.39,317.9 484.55,317.9 484.71,317.9 484.87,317.9 485.03,317.9 485.19,317.9 485.36,317.9 485.52,317.9 485.68,317.9 485.84,317.9 486,317.9 486.16,317.9 486.33,317.9 486.49,317.9 486.65,317.9 486.81,317.9 486.97,317.9 487.13,317.9 487.29,317.9 487.46,317.9 487.62,317.9 487.78,317.9 487.94,317.9 488.1,317.9 488.26,317.9 488.43,317.9 488.59,317.9 488.75,317.9 488.91,317.9 489.07,317.9 489.23,317.9 489.39,317.9 489.56,317.9 489.72,317.9 489.88,317.9 490.04,317.9 490.2,317.9 490.36,317.9 490.53,317.9 490.69,317.9 490.85,317.9 491.01,317.9 491.17,317.9 491.33,317.9 491.5,317.9 491.66,317.9 491.82,317.9 491.98,317.9 492.14,317.9 492.3,317.9 492.46,317.9 492.63,317.9 492.79,317.9 492.95,317.9 493.11,317.9 493.27,317.9 493.43,317.9 493.6,317.9 493.76,317.9 493.92,317.9 494.08,317.9 494.24,317.9 494.4,317.9 494.57,317.9 494.73,317.9 494.89,317.9 495.05,317.91 495.21,317.91 495.37,317.91 495.53,317.91 495.7,317.91 495.86,317.91 496.02,317.91 496.18,317.91 496.34,317.91 496.5,317.91 496.67,317.91 496.83,317.91 496.99,317.92 497.15,317.92 497.31,317.92 497.47,317.92 497.64,317.92 497.8,317.93 497.96,317.93 498.12,317.93 498.28,317.94 498.44,317.94 498.6,317.94 498.77,317.95 498.93,317.95 499.09,317.96 499.25,317.96 499.41,317.97 499.57,317.97 499.74,317.98 499.9,317.99 500.06,318 500.22,318.01 500.38,318.01 500.54,318.03 500.71,318.04 500.87,318.05 501.03,318.06 501.19,318.08 501.35,318.09 501.51,318.11 501.67,318.12 501.84,318.14 502,318.16 502.16,318.18 502.32,318.2 502.48,318.22 502.64,318.25 502.81,318.27 502.97,318.3 503.13,318.32 503.29,318.35 503.45,318.38 503.61,318.41 503.78,318.43 503.94,318.46 504.1,318.49 504.26,318.52 504.42,318.55 504.58,318.58 504.74,318.61 504.91,318.64 505.07,318.66 505.23,318.69 505.39,318.71 505.55,318.74 505.71,318.76 505.88,318.79 506.04,318.81 506.2,318.83 506.36,318.85 506.52,318.87 506.68,318.88 506.84,318.9 507.01,318.92 507.17,318.93 507.33,318.94 507.49,318.96 507.65,318.97 507.81,318.98 507.98,318.99 508.14,319 508.3,319.01 508.46,319.02 508.62,319.02 508.78,319.03 508.95,319.04 509.11,319.04 509.27,319.05 509.43,319.05 509.59,319.06 509.75,319.06 509.91,319.06 510.08,319.07 510.24,319.07 510.4,319.07 510.56,319.07 510.72,319.08 510.88,319.08 511.05,319.08 511.21,319.08 511.37,319.08 511.53,319.09 511.69,319.09 511.85,319.09 512.02,319.09 512.18,319.09 512.34,319.09 512.5,319.09" fill="none" stroke="#a8a8a8" stroke-width="0.9" stroke-linejoin="round" stroke-linecap="round" />
<text transform="translate(119.4,211) scale(1.045,1)" font-size="10" font-weight="normal" fill="#222" text-anchor="start"  stroke="#222" stroke-width="0.22">D8-vc-MMAE</text>
<text transform="translate(119.4,223.2) scale(1.045,1)" font-size="10" font-weight="normal" fill="#222" text-anchor="start"  stroke="#222" stroke-width="0.22">(97%)</text>
<text transform="translate(86.5,278.3) scale(1.04,1)" font-size="10" font-weight="normal" fill="#222" text-anchor="middle"  stroke="#222" stroke-width="0.22">D8</text>
<text transform="translate(86.2,291.3) scale(1.04,1)" font-size="10" font-weight="normal" fill="#222" text-anchor="middle"  stroke="#222" stroke-width="0.22">(3%)</text>
<text transform="translate(283.6,210.8) scale(1.045,1)" font-size="10" font-weight="normal" fill="#222" text-anchor="start"  stroke="#222" stroke-width="0.22">B10-vc-MMAE</text>
<text transform="translate(283.6,223) scale(1.045,1)" font-size="10" font-weight="normal" fill="#222" text-anchor="start"  stroke="#222" stroke-width="0.22">(100%)</text>
<text transform="translate(438.5,211.8) scale(1.045,1)" font-size="10" font-weight="normal" fill="#222" text-anchor="start"  stroke="#222" stroke-width="0.22">irrNF-vc-MMAE</text>
<text transform="translate(438.5,224) scale(1.045,1)" font-size="10" font-weight="normal" fill="#222" text-anchor="start"  stroke="#222" stroke-width="0.22">(97%)</text>
<text transform="translate(408.6,286) scale(1.045,1)" font-size="10" font-weight="normal" fill="#222" text-anchor="middle"  stroke="#222" stroke-width="0.22">irrNF</text>
<text transform="translate(408.6,299.5) scale(1.045,1)" font-size="10" font-weight="normal" fill="#222" text-anchor="middle"  stroke="#222" stroke-width="0.22">(3%)</text>
<text x="0.9" y="385.4" font-size="15.6" font-weight="bold" fill="#000" text-anchor="start" >C</text>
<line x1="26" y1="383" x2="26" y2="524.4" stroke="#000" stroke-width="1.6" />
<line x1="25.2" y1="524.4" x2="514" y2="524.4" stroke="#000" stroke-width="1.6" />
<polygon points="26,378.3 28.7,384 23.3,384" fill="#000" />
<polygon points="519.3,524.4 513.5,521.9 513.5,526.9" fill="#000" />
<text transform="translate(19.0,451) rotate(-90) scale(1.05,1)" font-size="10" font-weight="bold" fill="#111" text-anchor="middle">Shift (nm)</text>
<text transform="translate(279.3,537) scale(1.03,1)" font-size="10" font-weight="bold" fill="#111" text-anchor="middle" >Time (s)</text>
<line x1="69.4" y1="383.8" x2="69.4" y2="503.5" stroke="#eeaab6" stroke-width="1.6" />
<line x1="167.8" y1="383.8" x2="167.8" y2="503.5" stroke="#eeaab6" stroke-width="1.6" />
<line x1="58.5" y1="382.3" x2="58.5" y2="500.5" stroke="#7a7a7a" stroke-width="1.1" />
<line x1="58.5" y1="500.5" x2="266.3" y2="500.5" stroke="#7a7a7a" stroke-width="1.1" />
<line x1="54.2" y1="480.2" x2="58.5" y2="480.2" stroke="#7a7a7a" stroke-width="1" />
<text transform="translate(51.9,483.8) scale(1.05,1)" font-size="10" font-weight="normal" fill="#333" text-anchor="end"  stroke="#333" stroke-width="0.22">0</text>
<line x1="54.2" y1="431.6" x2="58.5" y2="431.6" stroke="#7a7a7a" stroke-width="1" />
<text transform="translate(51.9,435.2) scale(1.05,1)" font-size="10" font-weight="normal" fill="#333" text-anchor="end"  stroke="#333" stroke-width="0.22">0.04</text>
<line x1="54.2" y1="382.6" x2="58.5" y2="382.6" stroke="#7a7a7a" stroke-width="1" />
<text transform="translate(51.9,386.2) scale(1.05,1)" font-size="10" font-weight="normal" fill="#333" text-anchor="end"  stroke="#333" stroke-width="0.22">0.08</text>
<line x1="69.4" y1="500.5" x2="69.4" y2="503.6" stroke="#7a7a7a" stroke-width="1" />
<text transform="translate(69.4,516.5) scale(1.05,1)" font-size="10" font-weight="normal" fill="#333" text-anchor="middle"  stroke="#333" stroke-width="0.22">0</text>
<line x1="167.8" y1="500.5" x2="167.8" y2="503.6" stroke="#7a7a7a" stroke-width="1" />
<text transform="translate(167.8,516.5) scale(1.05,1)" font-size="10" font-weight="normal" fill="#333" text-anchor="middle"  stroke="#333" stroke-width="0.22">180</text>
<line x1="266.2" y1="500.5" x2="266.2" y2="503.6" stroke="#7a7a7a" stroke-width="1" />
<text transform="translate(266.2,516.5) scale(1.05,1)" font-size="10" font-weight="normal" fill="#333" text-anchor="middle"  stroke="#333" stroke-width="0.22">360</text>
<polyline points="69.4,480.4 69.46,474.75 69.51,469.48 69.57,464.56 69.63,459.97 69.68,455.69 69.74,451.69 69.8,447.95 69.85,444.47 69.91,441.21 69.97,438.18 70.02,435.35 70.08,432.7 70.14,430.23 70.19,427.93 70.25,425.78 70.3,423.77 70.36,421.9 70.42,420.15 70.47,418.52 70.53,416.99 70.59,415.57 70.64,414.25 70.7,413.01 70.76,411.85 70.81,410.77 70.87,409.77 70.93,408.83 70.98,407.95 71.04,407.13 71.15,405.7 71.96,399.39 72.77,397.05 73.59,396.18 74.4,395.85 75.21,395.73 76.02,395.69 76.83,395.67 77.65,395.67 78.46,395.66 79.27,395.66 80.08,395.66 80.9,395.66 81.71,395.66 82.52,395.66 83.33,395.66 84.14,395.66 84.96,395.66 85.77,395.66 86.58,395.66 87.39,395.66 88.21,395.66 89.02,395.66 89.83,395.66 90.64,395.66 91.45,395.66 92.27,395.66 93.08,395.66 93.89,395.66 94.7,395.66 95.52,395.66 96.33,395.66 97.14,395.66 97.95,395.66 98.76,395.66 99.58,395.66 100.39,395.66 101.2,395.66 102.01,395.66 102.82,395.66 103.64,395.66 104.45,395.66 105.26,395.66 106.07,395.66 106.89,395.66 107.7,395.66 108.51,395.66 109.32,395.66 110.13,395.66 110.95,395.66 111.76,395.66 112.57,395.66 113.38,395.66 114.2,395.66 115.01,395.66 115.82,395.66 116.63,395.66 117.44,395.66 118.26,395.66 119.07,395.66 119.88,395.66 120.69,395.66 121.51,395.66 122.32,395.66 123.13,395.66 123.94,395.66 124.75,395.66 125.57,395.66 126.38,395.66 127.19,395.66 128,395.66 128.81,395.66 129.63,395.66 130.44,395.66 131.25,395.66 132.06,395.66 132.88,395.66 133.69,395.66 134.5,395.66 135.31,395.66 136.12,395.66 136.94,395.66 137.75,395.66 138.56,395.66 139.37,395.66 140.19,395.66 141,395.66 141.81,395.66 142.62,395.66 143.43,395.66 144.25,395.66 145.06,395.66 145.87,395.66 146.68,395.66 147.5,395.66 148.31,395.66 149.12,395.66 149.93,395.66 150.74,395.66 151.56,395.66 152.37,395.66 153.18,395.66 153.99,395.66 154.8,395.66 155.62,395.66 156.43,395.66 157.24,395.66 158.05,395.66 158.87,395.66 159.68,395.66 160.49,395.66 161.3,395.66 162.11,395.66 162.93,395.66 163.74,395.66 164.55,395.66 165.36,395.66 166.18,395.66 166.99,395.66 167.8,395.66 167.8,395.66 167.94,396.15 168.08,396.64 168.22,397.12 168.36,397.6 168.5,398.08 168.64,398.56 168.78,399.03 168.92,399.5 169.06,399.97 169.2,400.43 169.34,400.89 169.48,401.35 169.62,401.8 169.76,402.25 169.9,402.7 170.04,403.15 170.18,403.6 170.32,404.04 170.46,404.48 170.6,404.91 170.74,405.34 170.88,405.77 171.02,406.2 171.16,406.63 171.3,407.05 171.44,407.47 171.58,407.89 171.72,408.3 171.86,408.72 172.01,409.13 172.15,409.53 172.29,409.94 172.43,410.34 172.57,410.74 172.71,411.14 172.85,411.53 172.99,411.93 173.13,412.32 173.27,412.7 173.54,413.45 174.32,415.54 175.1,417.56 175.88,419.5 176.65,421.39 177.43,423.21 178.21,424.96 178.99,426.66 179.77,428.31 180.55,429.89 181.33,431.43 182.11,432.91 182.88,434.34 183.66,435.73 184.44,437.06 185.22,438.36 186,439.61 186.78,440.81 187.56,441.98 188.33,443.11 189.11,444.2 189.89,445.25 190.67,446.27 191.45,447.25 192.23,448.2 193.01,449.12 193.79,450.01 194.56,450.87 195.34,451.69 196.12,452.5 196.9,453.27 197.68,454.02 198.46,454.74 199.24,455.44 200.01,456.11 200.79,456.77 201.57,457.4 202.35,458.01 203.13,458.6 203.91,459.16 204.69,459.71 205.46,460.25 206.24,460.76 207.02,461.26 207.8,461.74 208.58,462.2 209.36,462.65 210.14,463.08 210.92,463.5 211.69,463.9 212.47,464.29 213.25,464.67 214.03,465.04 214.81,465.39 215.59,465.73 216.37,466.06 217.14,466.38 217.92,466.69 218.7,466.98 219.48,467.27 220.26,467.55 221.04,467.82 221.82,468.07 222.6,468.33 223.37,468.57 224.15,468.8 224.93,469.03 225.71,469.25 226.49,469.46 227.27,469.66 228.05,469.86 228.82,470.05 229.6,470.23 230.38,470.41 231.16,470.58 231.94,470.75 232.72,470.91 233.5,471.07 234.28,471.22 235.05,471.36 235.83,471.5 236.61,471.64 237.39,471.77 238.17,471.89 238.95,472.02 239.73,472.13 240.5,472.25 241.28,472.36 242.06,472.46 242.84,472.57 243.62,472.67 244.4,472.76 245.18,472.86 245.95,472.95 246.73,473.03 247.51,473.12 248.29,473.2 249.07,473.28 249.85,473.35 250.63,473.43 251.41,473.5 252.18,473.56 252.96,473.63 253.74,473.69 254.52,473.76 255.3,473.82 256.08,473.87 256.86,473.93 257.63,473.98 258.41,474.03 259.19,474.09 259.97,474.13 260.75,474.18 261.53,474.23 262.31,474.27 263.09,474.31 263.86,474.35 264.64,474.39 265.42,474.43 266.2,474.47" fill="none" stroke="#e02c2c" stroke-width="1.15" stroke-linejoin="round" stroke-linecap="round" />
<polyline points="69.4,480.4 69.46,475.43 69.51,470.8 69.57,466.47 69.63,462.44 69.68,458.67 69.74,455.15 69.8,451.87 69.85,448.8 69.91,445.94 69.97,443.27 70.02,440.78 70.08,438.46 70.14,436.29 70.19,434.26 70.25,432.37 70.3,430.61 70.36,428.96 70.42,427.42 70.47,425.99 70.53,424.65 70.59,423.4 70.64,422.23 70.7,421.14 70.76,420.13 70.81,419.18 70.87,418.29 70.93,417.46 70.98,416.69 71.04,415.97 71.15,414.71 71.96,409.17 72.77,407.11 73.59,406.34 74.4,406.06 75.21,405.95 76.02,405.91 76.83,405.9 77.65,405.89 78.46,405.89 79.27,405.89 80.08,405.89 80.9,405.89 81.71,405.89 82.52,405.89 83.33,405.89 84.14,405.89 84.96,405.89 85.77,405.89 86.58,405.89 87.39,405.89 88.21,405.89 89.02,405.89 89.83,405.89 90.64,405.89 91.45,405.89 92.27,405.89 93.08,405.89 93.89,405.89 94.7,405.89 95.52,405.89 96.33,405.89 97.14,405.89 97.95,405.89 98.76,405.89 99.58,405.89 100.39,405.89 101.2,405.89 102.01,405.89 102.82,405.89 103.64,405.89 104.45,405.89 105.26,405.89 106.07,405.89 106.89,405.89 107.7,405.89 108.51,405.89 109.32,405.89 110.13,405.89 110.95,405.89 111.76,405.89 112.57,405.89 113.38,405.89 114.2,405.89 115.01,405.89 115.82,405.89 116.63,405.89 117.44,405.89 118.26,405.89 119.07,405.89 119.88,405.89 120.69,405.89 121.51,405.89 122.32,405.89 123.13,405.89 123.94,405.89 124.75,405.89 125.57,405.89 126.38,405.89 127.19,405.89 128,405.89 128.81,405.89 129.63,405.89 130.44,405.89 131.25,405.89 132.06,405.89 132.88,405.89 133.69,405.89 134.5,405.89 135.31,405.89 136.12,405.89 136.94,405.89 137.75,405.89 138.56,405.89 139.37,405.89 140.19,405.89 141,405.89 141.81,405.89 142.62,405.89 143.43,405.89 144.25,405.89 145.06,405.89 145.87,405.89 146.68,405.89 147.5,405.89 148.31,405.89 149.12,405.89 149.93,405.89 150.74,405.89 151.56,405.89 152.37,405.89 153.18,405.89 153.99,405.89 154.8,405.89 155.62,405.89 156.43,405.89 157.24,405.89 158.05,405.89 158.87,405.89 159.68,405.89 160.49,405.89 161.3,405.89 162.11,405.89 162.93,405.89 163.74,405.89 164.55,405.89 165.36,405.89 166.18,405.89 166.99,405.89 167.8,405.89 167.8,405.89 167.94,406.37 168.08,406.85 168.22,407.33 168.36,407.8 168.5,408.27 168.64,408.74 168.78,409.2 168.92,409.66 169.06,410.12 169.2,410.58 169.34,411.03 169.48,411.48 169.62,411.92 169.76,412.37 169.9,412.81 170.04,413.24 170.18,413.68 170.32,414.11 170.46,414.54 170.6,414.96 170.74,415.38 170.88,415.8 171.02,416.22 171.16,416.64 171.3,417.05 171.44,417.46 171.58,417.86 171.72,418.27 171.86,418.67 172.01,419.06 172.15,419.46 172.29,419.85 172.43,420.24 172.57,420.63 172.71,421.02 172.85,421.4 172.99,421.78 173.13,422.16 173.27,422.53 173.54,423.25 174.32,425.27 175.1,427.2 175.88,429.07 176.65,430.87 177.43,432.6 178.21,434.28 178.99,435.89 179.77,437.44 180.55,438.93 181.33,440.38 182.11,441.76 182.88,443.1 183.66,444.39 184.44,445.63 185.22,446.83 186,447.99 186.78,449.1 187.56,450.17 188.33,451.2 189.11,452.2 189.89,453.16 190.67,454.08 191.45,454.97 192.23,455.83 193.01,456.66 193.79,457.45 194.56,458.22 195.34,458.96 196.12,459.67 196.9,460.36 197.68,461.02 198.46,461.66 199.24,462.28 200.01,462.87 200.79,463.44 201.57,463.99 202.35,464.52 203.13,465.03 203.91,465.52 204.69,466 205.46,466.46 206.24,466.9 207.02,467.32 207.8,467.73 208.58,468.12 209.36,468.5 210.14,468.87 210.92,469.22 211.69,469.56 212.47,469.89 213.25,470.21 214.03,470.51 214.81,470.8 215.59,471.09 216.37,471.36 217.14,471.62 217.92,471.87 218.7,472.12 219.48,472.35 220.26,472.58 221.04,472.8 221.82,473.01 222.6,473.21 223.37,473.4 224.15,473.59 224.93,473.77 225.71,473.95 226.49,474.12 227.27,474.28 228.05,474.43 228.82,474.58 229.6,474.73 230.38,474.87 231.16,475 231.94,475.13 232.72,475.26 233.5,475.38 234.28,475.5 235.05,475.61 235.83,475.71 236.61,475.82 237.39,475.92 238.17,476.02 238.95,476.11 239.73,476.2 240.5,476.28 241.28,476.37 242.06,476.45 242.84,476.53 243.62,476.6 244.4,476.67 245.18,476.74 245.95,476.81 246.73,476.87 247.51,476.93 248.29,476.99 249.07,477.05 249.85,477.11 250.63,477.16 251.41,477.21 252.18,477.26 252.96,477.31 253.74,477.35 254.52,477.4 255.3,477.44 256.08,477.48 256.86,477.52 257.63,477.56 258.41,477.6 259.19,477.63 259.97,477.67 260.75,477.7 261.53,477.73 262.31,477.76 263.09,477.79 263.86,477.82 264.64,477.85 265.42,477.87 266.2,477.9" fill="none" stroke="#e02c2c" stroke-width="1.15" stroke-linejoin="round" stroke-linecap="round" />
<polyline points="69.4,480.4 69.46,478.74 69.51,477.12 69.57,475.53 69.63,473.98 69.68,472.47 69.74,470.99 69.8,469.54 69.85,468.13 69.91,466.75 69.97,465.4 70.02,464.08 70.08,462.79 70.14,461.53 70.19,460.3 70.25,459.09 70.3,457.92 70.36,456.77 70.42,455.65 70.47,454.55 70.53,453.48 70.59,452.43 70.64,451.4 70.7,450.4 70.76,449.42 70.81,448.47 70.87,447.53 70.93,446.62 70.98,445.73 71.04,444.86 71.15,443.22 71.96,433.14 72.77,425.89 73.59,420.67 74.4,416.93 75.21,414.23 76.02,412.3 76.83,410.91 77.65,409.91 78.46,409.19 79.27,408.67 80.08,408.3 80.9,408.03 81.71,407.84 82.52,407.7 83.33,407.6 84.14,407.53 84.96,407.48 85.77,407.44 86.58,407.42 87.39,407.4 88.21,407.38 89.02,407.38 89.83,407.37 90.64,407.36 91.45,407.36 92.27,407.36 93.08,407.35 93.89,407.35 94.7,407.35 95.52,407.35 96.33,407.35 97.14,407.35 97.95,407.35 98.76,407.35 99.58,407.35 100.39,407.35 101.2,407.35 102.01,407.35 102.82,407.35 103.64,407.35 104.45,407.35 105.26,407.35 106.07,407.35 106.89,407.35 107.7,407.35 108.51,407.35 109.32,407.35 110.13,407.35 110.95,407.35 111.76,407.35 112.57,407.35 113.38,407.35 114.2,407.35 115.01,407.35 115.82,407.35 116.63,407.35 117.44,407.35 118.26,407.35 119.07,407.35 119.88,407.35 120.69,407.35 121.51,407.35 122.32,407.35 123.13,407.35 123.94,407.35 124.75,407.35 125.57,407.35 126.38,407.35 127.19,407.35 128,407.35 128.81,407.35 129.63,407.35 130.44,407.35 131.25,407.35 132.06,407.35 132.88,407.35 133.69,407.35 134.5,407.35 135.31,407.35 136.12,407.35 136.94,407.35 137.75,407.35 138.56,407.35 139.37,407.35 140.19,407.35 141,407.35 141.81,407.35 142.62,407.35 143.43,407.35 144.25,407.35 145.06,407.35 145.87,407.35 146.68,407.35 147.5,407.35 148.31,407.35 149.12,407.35 149.93,407.35 150.74,407.35 151.56,407.35 152.37,407.35 153.18,407.35 153.99,407.35 154.8,407.35 155.62,407.35 156.43,407.35 157.24,407.35 158.05,407.35 158.87,407.35 159.68,407.35 160.49,407.35 161.3,407.35 162.11,407.35 162.93,407.35 163.74,407.35 164.55,407.35 165.36,407.35 166.18,407.35 166.99,407.35 167.8,407.35 167.8,407.35 167.94,407.86 168.08,408.37 168.22,408.88 168.36,409.38 168.5,409.87 168.64,410.37 168.78,410.86 168.92,411.35 169.06,411.83 169.2,412.31 169.34,412.79 169.48,413.26 169.62,413.73 169.76,414.2 169.9,414.66 170.04,415.12 170.18,415.58 170.32,416.03 170.46,416.48 170.6,416.93 170.74,417.37 170.88,417.81 171.02,418.25 171.16,418.68 171.3,419.11 171.44,419.54 171.58,419.97 171.72,420.39 171.86,420.81 172.01,421.22 172.15,421.63 172.29,422.04 172.43,422.45 172.57,422.86 172.71,423.26 172.85,423.66 172.99,424.05 173.13,424.44 173.27,424.83 173.54,425.59 174.32,427.67 175.1,429.68 175.88,431.6 176.65,433.45 177.43,435.23 178.21,436.94 178.99,438.58 179.77,440.16 180.55,441.68 181.33,443.13 182.11,444.53 182.88,445.88 183.66,447.17 184.44,448.41 185.22,449.61 186,450.75 186.78,451.86 187.56,452.91 188.33,453.93 189.11,454.91 189.89,455.85 190.67,456.75 191.45,457.62 192.23,458.45 193.01,459.25 193.79,460.02 194.56,460.76 195.34,461.47 196.12,462.16 196.9,462.81 197.68,463.44 198.46,464.05 199.24,464.63 200.01,465.19 200.79,465.73 201.57,466.24 202.35,466.74 203.13,467.22 203.91,467.68 204.69,468.12 205.46,468.54 206.24,468.95 207.02,469.34 207.8,469.71 208.58,470.07 209.36,470.42 210.14,470.75 210.92,471.07 211.69,471.38 212.47,471.68 213.25,471.96 214.03,472.23 214.81,472.49 215.59,472.75 216.37,472.99 217.14,473.22 217.92,473.45 218.7,473.66 219.48,473.87 220.26,474.06 221.04,474.26 221.82,474.44 222.6,474.61 223.37,474.78 224.15,474.95 224.93,475.1 225.71,475.25 226.49,475.4 227.27,475.53 228.05,475.67 228.82,475.8 229.6,475.92 230.38,476.04 231.16,476.15 231.94,476.26 232.72,476.36 233.5,476.46 234.28,476.56 235.05,476.65 235.83,476.74 236.61,476.83 237.39,476.91 238.17,476.99 238.95,477.07 239.73,477.14 240.5,477.21 241.28,477.28 242.06,477.34 242.84,477.41 243.62,477.47 244.4,477.52 245.18,477.58 245.95,477.63 246.73,477.68 247.51,477.73 248.29,477.78 249.07,477.82 249.85,477.87 250.63,477.91 251.41,477.95 252.18,477.99 252.96,478.03 253.74,478.06 254.52,478.1 255.3,478.13 256.08,478.16 256.86,478.19 257.63,478.22 258.41,478.25 259.19,478.28 259.97,478.3 260.75,478.33 261.53,478.35 262.31,478.37 263.09,478.4 263.86,478.42 264.64,478.44 265.42,478.46 266.2,478.48" fill="none" stroke="#e02c2c" stroke-width="1.15" stroke-linejoin="round" stroke-linecap="round" />
<polyline points="69.4,480.4 69.46,480.05 69.51,479.71 69.57,479.37 69.63,479.03 69.68,478.69 69.74,478.36 69.8,478.02 69.85,477.69 69.91,477.36 69.97,477.03 70.02,476.71 70.08,476.38 70.14,476.06 70.19,475.74 70.25,475.42 70.3,475.11 70.36,474.79 70.42,474.48 70.47,474.17 70.53,473.86 70.59,473.55 70.64,473.24 70.7,472.94 70.76,472.64 70.81,472.33 70.87,472.04 70.93,471.74 70.98,471.44 71.04,471.15 71.15,470.58 71.96,466.59 72.77,462.91 73.59,459.52 74.4,456.4 75.21,453.53 76.02,450.88 76.83,448.44 77.65,446.2 78.46,444.14 79.27,442.23 80.08,440.48 80.9,438.87 81.71,437.39 82.52,436.02 83.33,434.76 84.14,433.6 84.96,432.54 85.77,431.55 86.58,430.65 87.39,429.82 88.21,429.05 89.02,428.34 89.83,427.69 90.64,427.09 91.45,426.54 92.27,426.03 93.08,425.57 93.89,425.14 94.7,424.74 95.52,424.37 96.33,424.04 97.14,423.73 97.95,423.44 98.76,423.18 99.58,422.94 100.39,422.72 101.2,422.51 102.01,422.33 102.82,422.15 103.64,421.99 104.45,421.84 105.26,421.71 106.07,421.58 106.89,421.47 107.7,421.36 108.51,421.27 109.32,421.18 110.13,421.09 110.95,421.02 111.76,420.95 112.57,420.88 113.38,420.82 114.2,420.77 115.01,420.72 115.82,420.67 116.63,420.63 117.44,420.59 118.26,420.55 119.07,420.52 119.88,420.49 120.69,420.46 121.51,420.44 122.32,420.41 123.13,420.39 123.94,420.37 124.75,420.35 125.57,420.33 126.38,420.32 127.19,420.3 128,420.29 128.81,420.28 129.63,420.27 130.44,420.26 131.25,420.25 132.06,420.24 132.88,420.23 133.69,420.22 134.5,420.21 135.31,420.21 136.12,420.2 136.94,420.2 137.75,420.19 138.56,420.19 139.37,420.18 140.19,420.18 141,420.18 141.81,420.17 142.62,420.17 143.43,420.17 144.25,420.16 145.06,420.16 145.87,420.16 146.68,420.16 147.5,420.16 148.31,420.15 149.12,420.15 149.93,420.15 150.74,420.15 151.56,420.15 152.37,420.15 153.18,420.15 153.99,420.14 154.8,420.14 155.62,420.14 156.43,420.14 157.24,420.14 158.05,420.14 158.87,420.14 159.68,420.14 160.49,420.14 161.3,420.14 162.11,420.14 162.93,420.14 163.74,420.14 164.55,420.14 165.36,420.14 166.18,420.14 166.99,420.14 167.8,420.14 167.8,420.13 167.94,420.59 168.08,421.04 168.22,421.49 168.36,421.93 168.5,422.37 168.64,422.81 168.78,423.24 168.92,423.67 169.06,424.1 169.2,424.52 169.34,424.94 169.48,425.36 169.62,425.78 169.76,426.19 169.9,426.6 170.04,427 170.18,427.4 170.32,427.8 170.46,428.2 170.6,428.59 170.74,428.98 170.88,429.36 171.02,429.75 171.16,430.13 171.3,430.51 171.44,430.88 171.58,431.25 171.72,431.62 171.86,431.99 172.01,432.35 172.15,432.71 172.29,433.07 172.43,433.43 172.57,433.78 172.71,434.13 172.85,434.48 172.99,434.82 173.13,435.16 173.27,435.5 173.54,436.16 174.32,437.97 175.1,439.7 175.88,441.36 176.65,442.95 177.43,444.48 178.21,445.94 178.99,447.34 179.77,448.68 180.55,449.97 181.33,451.2 182.11,452.38 182.88,453.51 183.66,454.6 184.44,455.64 185.22,456.63 186,457.59 186.78,458.5 187.56,459.37 188.33,460.21 189.11,461.02 189.89,461.79 190.67,462.52 191.45,463.23 192.23,463.91 193.01,464.56 193.79,465.18 194.56,465.78 195.34,466.35 196.12,466.89 196.9,467.42 197.68,467.92 198.46,468.4 199.24,468.86 200.01,469.3 200.79,469.73 201.57,470.13 202.35,470.52 203.13,470.9 203.91,471.25 204.69,471.59 205.46,471.92 206.24,472.24 207.02,472.54 207.8,472.82 208.58,473.1 209.36,473.37 210.14,473.62 210.92,473.86 211.69,474.09 212.47,474.32 213.25,474.53 214.03,474.74 214.81,474.93 215.59,475.12 216.37,475.3 217.14,475.47 217.92,475.64 218.7,475.8 219.48,475.95 220.26,476.09 221.04,476.23 221.82,476.37 222.6,476.49 223.37,476.62 224.15,476.73 224.93,476.85 225.71,476.96 226.49,477.06 227.27,477.16 228.05,477.25 228.82,477.34 229.6,477.43 230.38,477.51 231.16,477.59 231.94,477.67 232.72,477.74 233.5,477.81 234.28,477.88 235.05,477.95 235.83,478.01 236.61,478.07 237.39,478.12 238.17,478.18 238.95,478.23 239.73,478.28 240.5,478.33 241.28,478.37 242.06,478.42 242.84,478.46 243.62,478.5 244.4,478.54 245.18,478.58 245.95,478.61 246.73,478.65 247.51,478.68 248.29,478.71 249.07,478.74 249.85,478.77 250.63,478.8 251.41,478.82 252.18,478.85 252.96,478.87 253.74,478.9 254.52,478.92 255.3,478.94 256.08,478.96 256.86,478.98 257.63,479 258.41,479.02 259.19,479.03 259.97,479.05 260.75,479.06 261.53,479.08 262.31,479.09 263.09,479.11 263.86,479.12 264.64,479.13 265.42,479.15 266.2,479.16" fill="none" stroke="#e02c2c" stroke-width="1.15" stroke-linejoin="round" stroke-linecap="round" />
<polyline points="59.01,480.4 60.28,479.96 61.54,480.8 62.81,481.7 64.07,481.06 65.33,481.85 66.6,480.31 67.86,478.44 69.13,481.12 69.4,483.44 69.76,449.05 70.13,429.17 70.49,417.05 71.04,408 72.35,398.3 73.66,395.9 74.96,398.83 76.27,397.66 77.58,399.87 78.89,399.03 80.19,399.86 81.5,397.51 82.81,398.99 84.12,396.71 85.42,396.84 86.73,397.29 88.04,400.65 89.35,397.71 90.65,396.94 91.96,396.65 93.27,398.99 94.58,397.4 95.88,398.07 97.19,397.77 98.5,394.98 99.81,397.66 101.11,396.47 102.42,395.07 103.73,397.16 105.04,396.41 106.34,396.03 107.65,396.04 108.96,397.87 110.27,395.91 111.57,393.98 112.88,398.17 114.19,394.6 115.5,395.62 116.8,396.68 118.11,392.76 119.42,394.51 120.73,397.32 122.04,395.4 123.34,394.61 124.65,395.68 125.96,394.35 127.27,395.38 128.57,394.26 129.88,393.07 131.19,396.1 132.5,394.76 133.8,395.68 135.11,394.76 136.42,396.62 137.73,395.68 139.03,395.06 140.34,393.41 141.65,392.99 142.96,396.54 144.26,395.71 145.57,393.55 146.88,397.35 148.19,395.06 149.49,394.47 150.8,392.43 152.11,393.2 153.42,394.63 154.72,394.64 156.03,394.41 157.34,391.76 158.65,394.55 159.95,394.31 161.26,393.3 162.57,393.93 163.88,393.99 165.18,395.27 166.49,393.6 167.8,394.18 167.8,391.83 168.35,394.46 168.89,397.3 169.44,398.08 170.53,403.02 171.84,404.94 173.15,410.21 174.46,412.86 175.78,418.92 177.09,419.66 178.4,425.6 179.71,428.9 181.02,429 182.33,432.36 183.64,433.16 184.95,432.34 186.26,438.93 187.57,440.6 188.88,441.26 190.19,442.6 191.5,445.25 192.81,446.86 194.12,447.02 195.43,448.68 196.74,452.28 198.05,452.13 199.36,453.14 200.67,455.85 201.99,454.98 203.3,457.6 204.61,455.86 205.92,457.89 207.23,458.87 208.54,460.65 209.85,460.71 211.16,464.16 212.47,463.55 213.78,462 215.09,466.23 216.4,462.44 217.71,466.75 219.02,463.59 220.33,466.4 221.64,464.47 222.95,465.84 224.26,468.67 225.57,464.97 226.88,465.04 228.2,467.58 229.51,468.2 230.82,468.33 232.13,469.8 233.44,467.03 234.75,469.68 236.06,469.2 237.37,470.5 238.68,470.47 239.99,471.62 241.3,468.1 242.61,470.34 243.92,468.87 245.23,470.42 246.54,471.6 247.85,471.2 249.16,471.68 250.47,470.97 251.78,471.65 253.09,471.65 254.41,473.33 255.72,472.6 257.03,469.1 258.34,472.58 259.65,473.22 260.96,471.27 262.27,469.78 263.58,474.03 264.89,472.28 266.2,472.96" fill="none" stroke="#161616" stroke-width="0.95" stroke-linejoin="round" stroke-linecap="round" />
<polyline points="59.01,482.97 60.28,479.33 61.54,480.43 62.81,480.3 64.07,481.5 65.33,479.74 66.6,481.19 67.86,480.61 69.13,482.02 69.4,482.48 69.76,450.01 70.13,435.07 70.49,422.93 71.04,414.13 72.35,407.38 73.66,406.33 74.96,404.65 76.27,406.16 77.58,406.07 78.89,405.9 80.19,404.27 81.5,405.03 82.81,405.49 84.12,406.88 85.42,408.09 86.73,404.68 88.04,404.65 89.35,406.27 90.65,405.26 91.96,404.91 93.27,404.83 94.58,404.69 95.88,406.69 97.19,403.81 98.5,407.83 99.81,404.75 101.11,405.28 102.42,404.71 103.73,403.24 105.04,403.8 106.34,407.64 107.65,408.42 108.96,404.76 110.27,407.42 111.57,405.95 112.88,404.7 114.19,408.32 115.5,408.99 116.8,405.52 118.11,405.83 119.42,406.24 120.73,405.82 122.04,407.12 123.34,408.07 124.65,406.1 125.96,407.26 127.27,408.24 128.57,405.09 129.88,405.91 131.19,405.22 132.5,407.25 133.8,406.76 135.11,407.25 136.42,407.07 137.73,405.49 139.03,406.91 140.34,405.23 141.65,405.25 142.96,402.78 144.26,407.77 145.57,404.42 146.88,405.84 148.19,405.73 149.49,407.82 150.8,406.36 152.11,404.6 153.42,405.79 154.72,405.55 156.03,406.08 157.34,403.96 158.65,405.67 159.95,408.85 161.26,406.64 162.57,408.49 163.88,409.41 165.18,406.38 166.49,403.64 167.8,405.52 167.8,407.3 168.35,408.82 168.89,407.6 169.44,410.79 170.53,414.34 171.84,418.33 173.15,421.8 174.46,424.07 175.78,427.63 177.09,431.11 178.4,435.76 179.71,436.13 181.02,440.36 182.33,440.1 183.64,445.74 184.95,446.15 186.26,447.89 187.57,451.63 188.88,448.89 190.19,450.88 191.5,455.2 192.81,454.81 194.12,456.71 195.43,462.32 196.74,459.33 198.05,460.89 199.36,461.71 200.67,464.38 201.99,464.12 203.3,464.85 204.61,463.66 205.92,465.67 207.23,466.88 208.54,465.3 209.85,468.98 211.16,469.33 212.47,471.97 213.78,467.55 215.09,468.92 216.4,469.45 217.71,470.25 219.02,471.47 220.33,471.7 221.64,472.74 222.95,473.01 224.26,472.95 225.57,471.12 226.88,472.8 228.2,473.96 229.51,474.97 230.82,475.28 232.13,472.23 233.44,474.03 234.75,474.87 236.06,475.65 237.37,476.94 238.68,475.58 239.99,474.35 241.3,476.34 242.61,476.23 243.92,476.35 245.23,475.98 246.54,478.58 247.85,476.7 249.16,477.7 250.47,475.25 251.78,477.76 253.09,475.87 254.41,474.56 255.72,477.32 257.03,477.8 258.34,476.71 259.65,477.05 260.96,478.55 262.27,476.48 263.58,474.26 264.89,477.63 266.2,477.59" fill="none" stroke="#161616" stroke-width="0.95" stroke-linejoin="round" stroke-linecap="round" />
<polyline points="59.01,481.93 60.28,479.93 61.54,482.22 62.81,482.02 64.07,478.53 65.33,481.72 66.6,478.82 67.86,478.17 69.13,480.02 69.4,479.9 69.76,467.79 70.13,462.25 70.49,455.35 71.04,447.13 72.35,429.62 73.66,418.42 74.96,413.83 76.27,413.46 77.58,411.48 78.89,409.88 80.19,408.07 81.5,408.41 82.81,407.57 84.12,407.31 85.42,408.1 86.73,407.67 88.04,407.27 89.35,407.68 90.65,406.8 91.96,404.79 93.27,406.65 94.58,407.42 95.88,409.96 97.19,406.92 98.5,410.32 99.81,409.53 101.11,406.21 102.42,406.42 103.73,407.66 105.04,409.93 106.34,407.97 107.65,408.41 108.96,406.48 110.27,404.1 111.57,407.08 112.88,408.52 114.19,409.09 115.5,407.45 116.8,407.62 118.11,409.04 119.42,407.17 120.73,409.02 122.04,405.7 123.34,405.77 124.65,405.73 125.96,408 127.27,406.54 128.57,407.48 129.88,407.85 131.19,407.77 132.5,409.16 133.8,409.37 135.11,406.09 136.42,407.52 137.73,406.92 139.03,405.76 140.34,409.75 141.65,408.35 142.96,406.94 144.26,406.62 145.57,407.73 146.88,405.67 148.19,406.86 149.49,408.93 150.8,408.51 152.11,405.97 153.42,406.46 154.72,409.9 156.03,405.15 157.34,406.24 158.65,405.14 159.95,407.65 161.26,407.52 162.57,408.72 163.88,403.36 165.18,407.32 166.49,404.73 167.8,407.99 167.8,406.81 168.35,411.47 168.89,411.52 169.44,411.4 170.53,418.27 171.84,418.93 173.15,423.8 174.46,429.36 175.78,431.89 177.09,434.93 178.4,437.23 179.71,440.65 181.02,443.62 182.33,445.22 183.64,448.5 184.95,450.95 186.26,451.08 187.57,451.53 188.88,456.75 190.19,456.1 191.5,458.54 192.81,460.4 194.12,459.02 195.43,462.24 196.74,460.42 198.05,464.81 199.36,464.1 200.67,465.92 201.99,467.56 203.3,466.41 204.61,468.25 205.92,467.85 207.23,469.47 208.54,471.6 209.85,470.74 211.16,471.06 212.47,470.24 213.78,473.44 215.09,472.62 216.4,475.49 217.71,472.41 219.02,475.3 220.33,476.7 221.64,474.47 222.95,473.06 224.26,477.18 225.57,476.8 226.88,476.54 228.2,477.33 229.51,475.34 230.82,477.27 232.13,477.33 233.44,475.59 234.75,477.71 236.06,476.13 237.37,478.32 238.68,478.8 239.99,479.84 241.3,474.55 242.61,477.85 243.92,477.13 245.23,477.62 246.54,477.43 247.85,477.68 249.16,475.04 250.47,479.42 251.78,480.24 253.09,479.51 254.41,480.04 255.72,477.05 257.03,477 258.34,479.65 259.65,480.32 260.96,478.85 262.27,476.34 263.58,482.21 264.89,477.67 266.2,480.05" fill="none" stroke="#161616" stroke-width="0.95" stroke-linejoin="round" stroke-linecap="round" />
<polyline points="59.01,478.88 60.28,481.97 61.54,480.82 62.81,482.6 64.07,481.83 65.33,478.38 66.6,479.2 67.86,480.99 69.13,481.67 69.4,483.65 69.76,479.27 70.13,476.62 70.49,474.66 71.04,471.76 72.35,466.9 73.66,459.78 74.96,454.86 76.27,448.65 77.58,444.06 78.89,443.71 80.19,441.76 81.5,438.22 82.81,436.8 84.12,435.07 85.42,432.37 86.73,432.33 88.04,428.62 89.35,428.51 90.65,427 91.96,426.75 93.27,426.78 94.58,426.42 95.88,424.79 97.19,424.72 98.5,423.12 99.81,423.07 101.11,424.7 102.42,422.3 103.73,424.08 105.04,422.78 106.34,422.1 107.65,424.51 108.96,421.18 110.27,420.94 111.57,421.26 112.88,421.54 114.19,421.36 115.5,422.15 116.8,421.03 118.11,421.37 119.42,420.37 120.73,422.2 122.04,420.04 123.34,420.13 124.65,420.5 125.96,420.89 127.27,419.41 128.57,422.61 129.88,419.48 131.19,419.77 132.5,419.68 133.8,419.51 135.11,421 136.42,420.4 137.73,419.07 139.03,419.35 140.34,419.66 141.65,422.16 142.96,419.14 144.26,418.2 145.57,418.42 146.88,419.54 148.19,422.14 149.49,418.47 150.8,420.05 152.11,423.52 153.42,419.25 154.72,421.97 156.03,421.67 157.34,420.69 158.65,417.89 159.95,420.27 161.26,419.32 162.57,417.15 163.88,417.36 165.18,419.83 166.49,420.02 167.8,421.49 167.8,420.66 168.35,420.81 168.89,422.57 169.44,424.66 170.53,426.57 171.84,432.75 173.15,435.04 174.46,437 175.78,440.11 177.09,442.1 178.4,445.59 179.71,448.95 181.02,450.14 182.33,454.16 183.64,456.97 184.95,455.48 186.26,458.03 187.57,459.02 188.88,463.36 190.19,462.72 191.5,464.29 192.81,465.81 194.12,468.9 195.43,467.08 196.74,466.2 198.05,467.8 199.36,470.03 200.67,469.91 201.99,469.47 203.3,475.02 204.61,471.99 205.92,471.57 207.23,471.88 208.54,470.88 209.85,472.15 211.16,473.77 212.47,474.17 213.78,473.82 215.09,476.09 216.4,475.67 217.71,474.58 219.02,473.31 220.33,476.66 221.64,476.73 222.95,476.59 224.26,475.12 225.57,477.31 226.88,475.29 228.2,479.02 229.51,478.03 230.82,478.19 232.13,476.88 233.44,476.62 234.75,480.47 236.06,479.71 237.37,477.98 238.68,479.52 239.99,480.87 241.3,477.21 242.61,478.08 243.92,478.15 245.23,479.63 246.54,477.49 247.85,479.4 249.16,477.5 250.47,480.48 251.78,480.44 253.09,478.93 254.41,480.3 255.72,478.32 257.03,478.96 258.34,480.72 259.65,479.3 260.96,479.94 262.27,478.12 263.58,480.4 264.89,480.14 266.2,477.75" fill="none" stroke="#161616" stroke-width="0.95" stroke-linejoin="round" stroke-linecap="round" />
<text transform="translate(186.3,405.8) scale(1.05,1)" font-size="10" font-weight="normal" fill="#222" text-anchor="start"  stroke="#222" stroke-width="0.22">D8-vc-MMAE</text>
<line x1="312.6" y1="383.8" x2="312.6" y2="503.5" stroke="#eeaab6" stroke-width="1.6" />
<line x1="411.2" y1="383.8" x2="411.2" y2="503.5" stroke="#eeaab6" stroke-width="1.6" />
<line x1="301.8" y1="382.3" x2="301.8" y2="500.5" stroke="#7a7a7a" stroke-width="1.1" />
<line x1="301.8" y1="500.5" x2="509.8" y2="500.5" stroke="#7a7a7a" stroke-width="1.1" />
<line x1="297.5" y1="480.4" x2="301.8" y2="480.4" stroke="#7a7a7a" stroke-width="1" />
<text transform="translate(295.2,484) scale(1.05,1)" font-size="10" font-weight="normal" fill="#333" text-anchor="end"  stroke="#333" stroke-width="0.22">0</text>
<line x1="297.5" y1="431.9" x2="301.8" y2="431.9" stroke="#7a7a7a" stroke-width="1" />
<text transform="translate(295.2,435.5) scale(1.05,1)" font-size="10" font-weight="normal" fill="#333" text-anchor="end"  stroke="#333" stroke-width="0.22">0.03</text>
<line x1="297.5" y1="382.9" x2="301.8" y2="382.9" stroke="#7a7a7a" stroke-width="1" />
<text transform="translate(295.2,386.5) scale(1.05,1)" font-size="10" font-weight="normal" fill="#333" text-anchor="end"  stroke="#333" stroke-width="0.22">0.06</text>
<line x1="312.6" y1="500.5" x2="312.6" y2="503.6" stroke="#7a7a7a" stroke-width="1" />
<text transform="translate(312.6,516.5) scale(1.05,1)" font-size="10" font-weight="normal" fill="#333" text-anchor="middle"  stroke="#333" stroke-width="0.22">0</text>
<line x1="411.2" y1="500.5" x2="411.2" y2="503.6" stroke="#7a7a7a" stroke-width="1" />
<text transform="translate(411.2,516.5) scale(1.05,1)" font-size="10" font-weight="normal" fill="#333" text-anchor="middle"  stroke="#333" stroke-width="0.22">180</text>
<line x1="509.8" y1="500.5" x2="509.8" y2="503.6" stroke="#7a7a7a" stroke-width="1" />
<text transform="translate(509.8,516.5) scale(1.05,1)" font-size="10" font-weight="normal" fill="#333" text-anchor="middle"  stroke="#333" stroke-width="0.22">360</text>
<polyline points="312.6,475.03 312.66,466.33 312.71,458.67 312.77,451.95 312.83,446.04 312.88,440.85 312.94,436.29 313,432.28 313.05,428.75 313.11,425.66 313.17,422.93 313.22,420.54 313.28,418.44 313.34,416.59 313.39,414.96 313.45,413.54 313.51,412.28 313.56,411.18 313.62,410.21 313.68,409.35 313.73,408.6 313.79,407.94 313.85,407.36 313.9,406.85 313.96,406.4 314.02,406.01 314.07,405.66 314.13,405.35 314.19,405.09 314.24,404.85 314.35,404.47 315.17,403.3 315.98,403.06 316.79,402.98 317.61,402.92 318.42,402.87 319.24,402.82 320.05,402.77 320.86,402.72 321.68,402.68 322.49,402.64 323.31,402.6 324.12,402.56 324.93,402.52 325.75,402.49 326.56,402.45 327.37,402.42 328.19,402.39 329,402.36 329.82,402.33 330.63,402.3 331.44,402.28 332.26,402.25 333.07,402.23 333.89,402.2 334.7,402.18 335.51,402.16 336.33,402.14 337.14,402.12 337.95,402.1 338.77,402.08 339.58,402.07 340.4,402.05 341.21,402.03 342.02,402.02 342.84,402 343.65,401.99 344.47,401.98 345.28,401.96 346.09,401.95 346.91,401.94 347.72,401.93 348.53,401.92 349.35,401.91 350.16,401.9 350.98,401.89 351.79,401.88 352.6,401.87 353.42,401.86 354.23,401.85 355.04,401.85 355.86,401.84 356.67,401.83 357.49,401.82 358.3,401.82 359.11,401.81 359.93,401.81 360.74,401.8 361.56,401.79 362.37,401.79 363.18,401.78 364,401.78 364.81,401.77 365.62,401.77 366.44,401.77 367.25,401.76 368.07,401.76 368.88,401.75 369.69,401.75 370.51,401.75 371.32,401.74 372.14,401.74 372.95,401.74 373.76,401.73 374.58,401.73 375.39,401.73 376.2,401.73 377.02,401.72 377.83,401.72 378.65,401.72 379.46,401.72 380.27,401.72 381.09,401.71 381.9,401.71 382.72,401.71 383.53,401.71 384.34,401.71 385.16,401.7 385.97,401.7 386.78,401.7 387.6,401.7 388.41,401.7 389.23,401.7 390.04,401.7 390.85,401.7 391.67,401.69 392.48,401.69 393.3,401.69 394.11,401.69 394.92,401.69 395.74,401.69 396.55,401.69 397.36,401.69 398.18,401.69 398.99,401.69 399.81,401.68 400.62,401.68 401.43,401.68 402.25,401.68 403.06,401.68 403.88,401.68 404.69,401.68 405.5,401.68 406.32,401.68 407.13,401.68 407.94,401.68 408.76,401.68 409.57,401.68 410.39,401.68 411.2,401.68 411.2,401.67 411.34,406.23 411.48,410.51 411.62,414.53 411.76,418.3 411.9,421.83 412.04,425.14 412.18,428.25 412.32,431.17 412.46,433.9 412.6,436.46 412.75,438.87 412.89,441.12 413.03,443.24 413.17,445.22 413.31,447.08 413.45,448.83 413.59,450.47 413.73,452 413.87,453.44 414.01,454.79 414.15,456.06 414.29,457.25 414.43,458.36 414.57,459.41 414.71,460.39 414.85,461.31 414.99,462.17 415.13,462.98 415.27,463.74 415.41,464.45 415.55,465.12 415.69,465.74 415.84,466.33 415.98,466.88 416.12,467.4 416.26,467.88 416.4,468.33 416.54,468.76 416.68,469.16 416.95,469.87 417.73,471.46 418.51,472.58 419.29,473.36 420.07,473.91 420.85,474.3 421.63,474.57 422.41,474.75 423.19,474.89 423.97,474.98 424.75,475.04 425.53,475.09 426.31,475.12 427.09,475.14 427.88,475.16 428.66,475.17 429.44,475.18 430.22,475.18 431,475.19 431.78,475.19 432.56,475.19 433.34,475.19 434.12,475.19 434.9,475.19 435.68,475.19 436.46,475.19 437.24,475.19 438.02,475.19 438.8,475.19 439.58,475.19 440.36,475.19 441.14,475.19 441.92,475.19 442.7,475.19 443.48,475.19 444.26,475.19 445.04,475.19 445.82,475.19 446.6,475.19 447.38,475.19 448.16,475.19 448.94,475.19 449.72,475.19 450.5,475.19 451.28,475.19 452.06,475.19 452.84,475.19 453.62,475.19 454.4,475.19 455.18,475.19 455.96,475.19 456.74,475.19 457.52,475.19 458.3,475.19 459.08,475.19 459.86,475.19 460.64,475.19 461.43,475.19 462.21,475.19 462.99,475.19 463.77,475.19 464.55,475.19 465.33,475.19 466.11,475.19 466.89,475.19 467.67,475.19 468.45,475.19 469.23,475.19 470.01,475.19 470.79,475.19 471.57,475.19 472.35,475.19 473.13,475.19 473.91,475.19 474.69,475.19 475.47,475.19 476.25,475.19 477.03,475.19 477.81,475.19 478.59,475.19 479.37,475.19 480.15,475.19 480.93,475.19 481.71,475.19 482.49,475.19 483.27,475.19 484.05,475.19 484.83,475.19 485.61,475.19 486.39,475.19 487.17,475.19 487.95,475.19 488.73,475.19 489.51,475.19 490.29,475.19 491.07,475.19 491.85,475.19 492.63,475.19 493.41,475.19 494.2,475.19 494.98,475.19 495.76,475.19 496.54,475.19 497.32,475.19 498.1,475.19 498.88,475.19 499.66,475.19 500.44,475.19 501.22,475.19 502,475.19 502.78,475.19 503.56,475.19 504.34,475.19 505.12,475.19 505.9,475.19 506.68,475.19 507.46,475.19 508.24,475.19 509.02,475.19 509.8,475.19" fill="none" stroke="#e02c2c" stroke-width="1.15" stroke-linejoin="round" stroke-linecap="round" />
<polyline points="312.6,475.03 312.66,469.57 312.71,464.76 312.77,460.54 312.83,456.83 312.88,453.57 312.94,450.71 313,448.19 313.05,445.98 313.11,444.04 313.17,442.33 313.22,440.83 313.28,439.51 313.34,438.35 313.39,437.33 313.45,436.44 313.51,435.65 313.56,434.96 313.62,434.35 313.68,433.82 313.73,433.35 313.79,432.93 313.85,432.57 313.9,432.25 313.96,431.97 314.02,431.73 314.07,431.51 314.13,431.32 314.19,431.15 314.24,431.01 314.35,430.77 315.17,430.06 315.98,429.94 316.79,429.91 317.61,429.9 318.42,429.89 319.24,429.88 320.05,429.87 320.86,429.86 321.68,429.85 322.49,429.84 323.31,429.83 324.12,429.83 324.93,429.82 325.75,429.81 326.56,429.8 327.37,429.8 328.19,429.79 329,429.79 329.82,429.78 330.63,429.77 331.44,429.77 332.26,429.76 333.07,429.76 333.89,429.75 334.7,429.75 335.51,429.75 336.33,429.74 337.14,429.74 337.95,429.73 338.77,429.73 339.58,429.73 340.4,429.72 341.21,429.72 342.02,429.72 342.84,429.71 343.65,429.71 344.47,429.71 345.28,429.71 346.09,429.7 346.91,429.7 347.72,429.7 348.53,429.7 349.35,429.69 350.16,429.69 350.98,429.69 351.79,429.69 352.6,429.69 353.42,429.69 354.23,429.68 355.04,429.68 355.86,429.68 356.67,429.68 357.49,429.68 358.3,429.68 359.11,429.68 359.93,429.67 360.74,429.67 361.56,429.67 362.37,429.67 363.18,429.67 364,429.67 364.81,429.67 365.62,429.67 366.44,429.67 367.25,429.67 368.07,429.66 368.88,429.66 369.69,429.66 370.51,429.66 371.32,429.66 372.14,429.66 372.95,429.66 373.76,429.66 374.58,429.66 375.39,429.66 376.2,429.66 377.02,429.66 377.83,429.66 378.65,429.66 379.46,429.66 380.27,429.66 381.09,429.66 381.9,429.66 382.72,429.66 383.53,429.66 384.34,429.65 385.16,429.65 385.97,429.65 386.78,429.65 387.6,429.65 388.41,429.65 389.23,429.65 390.04,429.65 390.85,429.65 391.67,429.65 392.48,429.65 393.3,429.65 394.11,429.65 394.92,429.65 395.74,429.65 396.55,429.65 397.36,429.65 398.18,429.65 398.99,429.65 399.81,429.65 400.62,429.65 401.43,429.65 402.25,429.65 403.06,429.65 403.88,429.65 404.69,429.65 405.5,429.65 406.32,429.65 407.13,429.65 407.94,429.65 408.76,429.65 409.57,429.65 410.39,429.65 411.2,429.65 411.2,429.65 411.34,432.48 411.48,435.13 411.62,437.62 411.76,439.95 411.9,442.14 412.04,444.19 412.18,446.11 412.32,447.92 412.46,449.61 412.6,451.2 412.75,452.69 412.89,454.09 413.03,455.4 413.17,456.63 413.31,457.78 413.45,458.86 413.59,459.88 413.73,460.83 413.87,461.72 414.01,462.56 414.15,463.34 414.29,464.08 414.43,464.77 414.57,465.41 414.71,466.02 414.85,466.59 414.99,467.13 415.13,467.63 415.27,468.1 415.41,468.54 415.55,468.95 415.69,469.34 415.84,469.7 415.98,470.04 416.12,470.36 416.26,470.66 416.4,470.94 416.54,471.21 416.68,471.46 416.95,471.9 417.73,472.88 418.51,473.58 419.29,474.06 420.07,474.4 420.85,474.64 421.63,474.81 422.41,474.92 423.19,475 423.97,475.06 424.75,475.1 425.53,475.13 426.31,475.15 427.09,475.16 427.88,475.17 428.66,475.18 429.44,475.18 430.22,475.19 431,475.19 431.78,475.19 432.56,475.19 433.34,475.19 434.12,475.19 434.9,475.19 435.68,475.19 436.46,475.19 437.24,475.19 438.02,475.19 438.8,475.19 439.58,475.19 440.36,475.19 441.14,475.19 441.92,475.19 442.7,475.19 443.48,475.19 444.26,475.19 445.04,475.19 445.82,475.19 446.6,475.19 447.38,475.19 448.16,475.19 448.94,475.19 449.72,475.19 450.5,475.19 451.28,475.19 452.06,475.19 452.84,475.19 453.62,475.19 454.4,475.19 455.18,475.19 455.96,475.19 456.74,475.19 457.52,475.19 458.3,475.19 459.08,475.19 459.86,475.19 460.64,475.19 461.43,475.19 462.21,475.19 462.99,475.19 463.77,475.19 464.55,475.19 465.33,475.19 466.11,475.19 466.89,475.19 467.67,475.19 468.45,475.19 469.23,475.19 470.01,475.19 470.79,475.19 471.57,475.19 472.35,475.19 473.13,475.19 473.91,475.19 474.69,475.19 475.47,475.19 476.25,475.19 477.03,475.19 477.81,475.19 478.59,475.19 479.37,475.19 480.15,475.19 480.93,475.19 481.71,475.19 482.49,475.19 483.27,475.19 484.05,475.19 484.83,475.19 485.61,475.19 486.39,475.19 487.17,475.19 487.95,475.19 488.73,475.19 489.51,475.19 490.29,475.19 491.07,475.19 491.85,475.19 492.63,475.19 493.41,475.19 494.2,475.19 494.98,475.19 495.76,475.19 496.54,475.19 497.32,475.19 498.1,475.19 498.88,475.19 499.66,475.19 500.44,475.19 501.22,475.19 502,475.19 502.78,475.19 503.56,475.19 504.34,475.19 505.12,475.19 505.9,475.19 506.68,475.19 507.46,475.19 508.24,475.19 509.02,475.19 509.8,475.19" fill="none" stroke="#e02c2c" stroke-width="1.15" stroke-linejoin="round" stroke-linecap="round" />
<polyline points="312.6,475.03 312.66,472.11 312.71,469.54 312.77,467.28 312.83,465.29 312.88,463.55 312.94,462.01 313,460.65 313.05,459.46 313.11,458.41 313.17,457.48 313.22,456.67 313.28,455.95 313.34,455.31 313.39,454.75 313.45,454.26 313.51,453.82 313.56,453.44 313.62,453.1 313.68,452.8 313.73,452.53 313.79,452.29 313.85,452.08 313.9,451.89 313.96,451.73 314.02,451.58 314.07,451.44 314.13,451.32 314.19,451.22 314.24,451.12 314.35,450.96 315.17,450.33 315.98,450.03 316.79,449.78 317.61,449.55 318.42,449.33 319.24,449.12 320.05,448.92 320.86,448.73 321.68,448.54 322.49,448.37 323.31,448.2 324.12,448.03 324.93,447.88 325.75,447.73 326.56,447.59 327.37,447.45 328.19,447.32 329,447.19 329.82,447.07 330.63,446.95 331.44,446.84 332.26,446.74 333.07,446.64 333.89,446.54 334.7,446.44 335.51,446.36 336.33,446.27 337.14,446.19 337.95,446.11 338.77,446.03 339.58,445.96 340.4,445.89 341.21,445.82 342.02,445.76 342.84,445.7 343.65,445.64 344.47,445.58 345.28,445.53 346.09,445.48 346.91,445.43 347.72,445.38 348.53,445.34 349.35,445.29 350.16,445.25 350.98,445.21 351.79,445.17 352.6,445.14 353.42,445.1 354.23,445.07 355.04,445.03 355.86,445 356.67,444.97 357.49,444.94 358.3,444.92 359.11,444.89 359.93,444.87 360.74,444.84 361.56,444.82 362.37,444.8 363.18,444.78 364,444.76 364.81,444.74 365.62,444.72 366.44,444.7 367.25,444.68 368.07,444.67 368.88,444.65 369.69,444.63 370.51,444.62 371.32,444.61 372.14,444.59 372.95,444.58 373.76,444.57 374.58,444.56 375.39,444.55 376.2,444.53 377.02,444.52 377.83,444.51 378.65,444.51 379.46,444.5 380.27,444.49 381.09,444.48 381.9,444.47 382.72,444.46 383.53,444.46 384.34,444.45 385.16,444.44 385.97,444.44 386.78,444.43 387.6,444.42 388.41,444.42 389.23,444.41 390.04,444.41 390.85,444.4 391.67,444.4 392.48,444.39 393.3,444.39 394.11,444.38 394.92,444.38 395.74,444.38 396.55,444.37 397.36,444.37 398.18,444.37 398.99,444.36 399.81,444.36 400.62,444.36 401.43,444.35 402.25,444.35 403.06,444.35 403.88,444.35 404.69,444.34 405.5,444.34 406.32,444.34 407.13,444.34 407.94,444.33 408.76,444.33 409.57,444.33 410.39,444.33 411.2,444.33 411.2,444.29 411.34,446.21 411.48,448.01 411.62,449.69 411.76,451.28 411.9,452.76 412.04,454.16 412.18,455.46 412.32,456.69 412.46,457.84 412.6,458.91 412.75,459.92 412.89,460.87 413.03,461.76 413.17,462.6 413.31,463.38 413.45,464.11 413.59,464.8 413.73,465.45 413.87,466.05 414.01,466.62 414.15,467.15 414.29,467.65 414.43,468.12 414.57,468.56 414.71,468.97 414.85,469.36 414.99,469.72 415.13,470.06 415.27,470.38 415.41,470.68 415.55,470.96 415.69,471.22 415.84,471.47 415.98,471.7 416.12,471.92 416.26,472.12 416.4,472.31 416.54,472.49 416.68,472.66 416.95,472.96 417.73,473.63 418.51,474.1 419.29,474.43 420.07,474.66 420.85,474.82 421.63,474.93 422.41,475.01 423.19,475.06 423.97,475.1 424.75,475.13 425.53,475.15 426.31,475.16 427.09,475.17 427.88,475.18 428.66,475.18 429.44,475.19 430.22,475.19 431,475.19 431.78,475.19 432.56,475.19 433.34,475.19 434.12,475.19 434.9,475.19 435.68,475.19 436.46,475.19 437.24,475.19 438.02,475.19 438.8,475.19 439.58,475.19 440.36,475.19 441.14,475.19 441.92,475.19 442.7,475.19 443.48,475.19 444.26,475.19 445.04,475.19 445.82,475.19 446.6,475.19 447.38,475.19 448.16,475.19 448.94,475.19 449.72,475.19 450.5,475.19 451.28,475.19 452.06,475.19 452.84,475.19 453.62,475.19 454.4,475.19 455.18,475.19 455.96,475.19 456.74,475.19 457.52,475.19 458.3,475.19 459.08,475.19 459.86,475.19 460.64,475.19 461.43,475.19 462.21,475.19 462.99,475.19 463.77,475.19 464.55,475.19 465.33,475.19 466.11,475.19 466.89,475.19 467.67,475.19 468.45,475.19 469.23,475.19 470.01,475.19 470.79,475.19 471.57,475.19 472.35,475.19 473.13,475.19 473.91,475.19 474.69,475.19 475.47,475.19 476.25,475.19 477.03,475.19 477.81,475.19 478.59,475.19 479.37,475.19 480.15,475.19 480.93,475.19 481.71,475.19 482.49,475.19 483.27,475.19 484.05,475.19 484.83,475.19 485.61,475.19 486.39,475.19 487.17,475.19 487.95,475.19 488.73,475.19 489.51,475.19 490.29,475.19 491.07,475.19 491.85,475.19 492.63,475.19 493.41,475.19 494.2,475.19 494.98,475.19 495.76,475.19 496.54,475.19 497.32,475.19 498.1,475.19 498.88,475.19 499.66,475.19 500.44,475.19 501.22,475.19 502,475.19 502.78,475.19 503.56,475.19 504.34,475.19 505.12,475.19 505.9,475.19 506.68,475.19 507.46,475.19 508.24,475.19 509.02,475.19 509.8,475.19" fill="none" stroke="#e02c2c" stroke-width="1.15" stroke-linejoin="round" stroke-linecap="round" />
<polyline points="312.6,475.03 312.66,473.14 312.71,471.48 312.77,470.02 312.83,468.73 312.88,467.6 312.94,466.6 313,465.72 313.05,464.95 313.11,464.27 313.17,463.67 313.22,463.14 313.28,462.67 313.34,462.26 313.39,461.9 313.45,461.57 313.51,461.29 313.56,461.04 313.62,460.82 313.68,460.62 313.73,460.44 313.79,460.29 313.85,460.15 313.9,460.03 313.96,459.92 314.02,459.82 314.07,459.73 314.13,459.65 314.19,459.58 314.24,459.51 314.35,459.41 315.17,458.97 315.98,458.74 316.79,458.56 317.61,458.38 318.42,458.21 319.24,458.06 320.05,457.9 320.86,457.76 321.68,457.61 322.49,457.48 323.31,457.35 324.12,457.23 324.93,457.11 325.75,456.99 326.56,456.89 327.37,456.78 328.19,456.68 329,456.59 329.82,456.49 330.63,456.41 331.44,456.32 332.26,456.24 333.07,456.16 333.89,456.09 334.7,456.02 335.51,455.95 336.33,455.88 337.14,455.82 337.95,455.76 338.77,455.7 339.58,455.65 340.4,455.59 341.21,455.54 342.02,455.49 342.84,455.45 343.65,455.4 344.47,455.36 345.28,455.32 346.09,455.28 346.91,455.24 347.72,455.21 348.53,455.17 349.35,455.14 350.16,455.11 350.98,455.08 351.79,455.05 352.6,455.02 353.42,454.99 354.23,454.97 355.04,454.94 355.86,454.92 356.67,454.9 357.49,454.87 358.3,454.85 359.11,454.83 359.93,454.81 360.74,454.8 361.56,454.78 362.37,454.76 363.18,454.74 364,454.73 364.81,454.71 365.62,454.7 366.44,454.69 367.25,454.67 368.07,454.66 368.88,454.65 369.69,454.64 370.51,454.63 371.32,454.62 372.14,454.61 372.95,454.6 373.76,454.59 374.58,454.58 375.39,454.57 376.2,454.56 377.02,454.55 377.83,454.55 378.65,454.54 379.46,454.53 380.27,454.53 381.09,454.52 381.9,454.51 382.72,454.51 383.53,454.5 384.34,454.5 385.16,454.49 385.97,454.49 386.78,454.48 387.6,454.48 388.41,454.47 389.23,454.47 390.04,454.46 390.85,454.46 391.67,454.46 392.48,454.45 393.3,454.45 394.11,454.45 394.92,454.44 395.74,454.44 396.55,454.44 397.36,454.44 398.18,454.43 398.99,454.43 399.81,454.43 400.62,454.43 401.43,454.42 402.25,454.42 403.06,454.42 403.88,454.42 404.69,454.42 405.5,454.41 406.32,454.41 407.13,454.41 407.94,454.41 408.76,454.41 409.57,454.41 410.39,454.4 411.2,454.4 411.2,454.37 411.34,455.67 411.48,456.88 411.62,458.02 411.76,459.08 411.9,460.08 412.04,461.02 412.18,461.9 412.32,462.73 412.46,463.5 412.6,464.23 412.75,464.91 412.89,465.55 413.03,466.15 413.17,466.71 413.31,467.23 413.45,467.73 413.59,468.19 413.73,468.63 413.87,469.03 414.01,469.42 414.15,469.78 414.29,470.11 414.43,470.43 414.57,470.72 414.71,471 414.85,471.26 414.99,471.51 415.13,471.74 415.27,471.95 415.41,472.15 415.55,472.34 415.69,472.52 415.84,472.68 415.98,472.84 416.12,472.99 416.26,473.12 416.4,473.25 416.54,473.37 416.68,473.49 416.95,473.69 417.73,474.14 418.51,474.45 419.29,474.68 420.07,474.83 420.85,474.94 421.63,475.02 422.41,475.07 423.19,475.11 423.97,475.13 424.75,475.15 425.53,475.16 426.31,475.17 427.09,475.18 427.88,475.18 428.66,475.19 429.44,475.19 430.22,475.19 431,475.19 431.78,475.19 432.56,475.19 433.34,475.19 434.12,475.19 434.9,475.19 435.68,475.19 436.46,475.19 437.24,475.19 438.02,475.19 438.8,475.19 439.58,475.19 440.36,475.19 441.14,475.19 441.92,475.19 442.7,475.19 443.48,475.19 444.26,475.19 445.04,475.19 445.82,475.19 446.6,475.19 447.38,475.19 448.16,475.19 448.94,475.19 449.72,475.19 450.5,475.19 451.28,475.19 452.06,475.19 452.84,475.19 453.62,475.19 454.4,475.19 455.18,475.19 455.96,475.19 456.74,475.19 457.52,475.19 458.3,475.19 459.08,475.19 459.86,475.19 460.64,475.19 461.43,475.19 462.21,475.19 462.99,475.19 463.77,475.19 464.55,475.19 465.33,475.19 466.11,475.19 466.89,475.19 467.67,475.19 468.45,475.19 469.23,475.19 470.01,475.19 470.79,475.19 471.57,475.19 472.35,475.19 473.13,475.19 473.91,475.19 474.69,475.19 475.47,475.19 476.25,475.19 477.03,475.19 477.81,475.19 478.59,475.19 479.37,475.19 480.15,475.19 480.93,475.19 481.71,475.19 482.49,475.19 483.27,475.19 484.05,475.19 484.83,475.19 485.61,475.19 486.39,475.19 487.17,475.19 487.95,475.19 488.73,475.19 489.51,475.19 490.29,475.19 491.07,475.19 491.85,475.19 492.63,475.19 493.41,475.19 494.2,475.19 494.98,475.19 495.76,475.19 496.54,475.19 497.32,475.19 498.1,475.19 498.88,475.19 499.66,475.19 500.44,475.19 501.22,475.19 502,475.19 502.78,475.19 503.56,475.19 504.34,475.19 505.12,475.19 505.9,475.19 506.68,475.19 507.46,475.19 508.24,475.19 509.02,475.19 509.8,475.19" fill="none" stroke="#e02c2c" stroke-width="1.15" stroke-linejoin="round" stroke-linecap="round" />
<polyline points="302.19,471.75 303.46,472.11 304.73,474.94 305.99,474.71 307.26,472.79 308.53,475.21 309.79,476.46 311.06,474.86 312.33,474.37 312.6,476.25 312.97,427.43 313.33,411.46 313.7,403.45 314.24,403.8 315.55,402.85 316.86,402.46 318.17,401.89 319.48,403.25 320.79,401.98 322.1,403.95 323.41,403.12 324.73,404.03 326.04,400.82 327.35,402.46 328.66,403.45 329.97,402.84 331.28,402.61 332.59,401.22 333.9,404.54 335.21,403.69 336.52,402.69 337.83,398.4 339.14,400.68 340.45,402.21 341.76,400.98 343.07,398.99 344.38,402.32 345.69,402.49 347,400.16 348.31,401.2 349.62,400.92 350.93,402.63 352.24,399.06 353.55,399.36 354.86,401.02 356.17,400.83 357.48,404.79 358.79,400.88 360.1,402.09 361.41,401.16 362.72,400.79 364.03,402.28 365.34,404.25 366.65,401.23 367.96,402.84 369.27,402.24 370.58,402.63 371.89,402.24 373.2,405.12 374.51,399.95 375.82,401.36 377.13,400.1 378.44,398.82 379.75,401.68 381.06,404.35 382.38,403.02 383.69,403.47 385,402.44 386.31,401.59 387.62,404.63 388.93,401.2 390.24,403.91 391.55,401.26 392.86,401.85 394.17,402.15 395.48,401.8 396.79,402.48 398.1,402.58 399.41,404.15 400.72,401.73 402.03,398.98 403.34,398.78 404.65,399.75 405.96,400.65 407.27,402.67 408.58,399.57 409.89,401.76 411.2,401.78 411.2,402.09 411.75,418.59 412.3,431.64 412.84,439.88 413.94,452.66 415.25,458.38 416.57,457.13 417.88,463.78 419.19,465.68 420.5,465.38 421.82,466.05 423.13,470.66 424.44,469.64 425.76,468.06 427.07,470.09 428.38,471.02 429.7,468.6 431.01,473.81 432.32,472.7 433.64,474.42 434.95,470.6 436.26,478.23 437.58,475.88 438.89,475.9 440.2,473.68 441.52,474.07 442.83,472.65 444.14,479.15 445.45,474.45 446.77,476.85 448.08,477.82 449.39,475.43 450.71,478.67 452.02,481.26 453.33,477.77 454.65,480.28 455.96,478.59 457.27,476.53 458.59,476.75 459.9,474.13 461.21,477.99 462.53,480.88 463.84,479.3 465.15,479.71 466.47,480.39 467.78,476.95 469.09,479.28 470.41,482.14 471.72,476.52 473.03,478.27 474.34,477.31 475.66,477.87 476.97,476.79 478.28,478.07 479.6,475.56 480.91,477.3 482.22,477.39 483.54,477.37 484.85,481.33 486.16,478.62 487.48,478.83 488.79,477.86 490.1,481.18 491.42,474.86 492.73,478.11 494.04,480.9 495.36,481.96 496.67,478.95 497.98,478.55 499.29,479.89 500.61,478.18 501.92,479.74 503.23,477.22 504.55,479.92 505.86,478.48 507.17,476.33 508.49,472.97 509.8,480.54" fill="none" stroke="#161616" stroke-width="0.95" stroke-linejoin="round" stroke-linecap="round" />
<polyline points="302.19,475.71 303.46,476.26 304.73,473.88 305.99,476.71 307.26,475.74 308.53,475.08 309.79,476.46 311.06,476.43 312.33,475.73 312.6,478.11 312.97,445.87 313.33,434.52 313.7,430.59 314.24,429.98 315.55,432.29 316.86,430.48 318.17,428.67 319.48,429.04 320.79,429.96 322.1,431.14 323.41,428.91 324.73,430.67 326.04,431.52 327.35,430.97 328.66,427.67 329.97,429.46 331.28,428.07 332.59,430.46 333.9,428.38 335.21,430.63 336.52,429.97 337.83,426.09 339.14,428.61 340.45,430.46 341.76,429.84 343.07,429.24 344.38,427.94 345.69,430.42 347,432.25 348.31,430.11 349.62,429.67 350.93,429.53 352.24,427.76 353.55,429.22 354.86,428.49 356.17,431.29 357.48,428.41 358.79,426.61 360.1,428.54 361.41,429.3 362.72,429.45 364.03,427.05 365.34,431.03 366.65,429.83 367.96,428.99 369.27,428.57 370.58,430.3 371.89,429.21 373.2,430.07 374.51,429.48 375.82,429.85 377.13,431.33 378.44,429.69 379.75,428.37 381.06,431.07 382.38,430.01 383.69,428.68 385,431.22 386.31,429.39 387.62,431.21 388.93,427.99 390.24,426.27 391.55,426.69 392.86,429.97 394.17,428.57 395.48,429.47 396.79,429.5 398.1,427.38 399.41,431.58 400.72,428.11 402.03,429.72 403.34,427.59 404.65,429.38 405.96,430.63 407.27,429.24 408.58,428.57 409.89,429.6 411.2,428.93 411.2,430.41 411.75,444.11 412.3,447.46 412.84,453.52 413.94,461.66 415.25,466.33 416.57,466.94 417.88,471.23 419.19,472.77 420.5,472.56 421.82,470.47 423.13,476.3 424.44,471.56 425.76,475.82 427.07,477.24 428.38,472.74 429.7,475.95 431.01,478.82 432.32,477.17 433.64,474.75 434.95,474.47 436.26,478.13 437.58,476.6 438.89,476.16 440.2,479.22 441.52,477.29 442.83,478.27 444.14,479.49 445.45,479.53 446.77,478.48 448.08,478.67 449.39,480.04 450.71,479.84 452.02,476.68 453.33,478.67 454.65,477.32 455.96,476.72 457.27,478.09 458.59,474.59 459.9,481.19 461.21,477.79 462.53,480.22 463.84,475.66 465.15,476.03 466.47,483.79 467.78,481.74 469.09,478.32 470.41,478.08 471.72,478.22 473.03,479.95 474.34,478.86 475.66,478.46 476.97,480.03 478.28,477.71 479.6,484.67 480.91,478.57 482.22,482.11 483.54,477.91 484.85,480.43 486.16,481.84 487.48,479.18 488.79,481.9 490.1,481.91 491.42,483.31 492.73,480.05 494.04,478.95 495.36,477.85 496.67,480.31 497.98,477.8 499.29,479.99 500.61,480.23 501.92,478.82 503.23,477.8 504.55,480.76 505.86,480.56 507.17,480.38 508.49,479.87 509.8,481.95" fill="none" stroke="#161616" stroke-width="0.95" stroke-linejoin="round" stroke-linecap="round" />
<polyline points="302.19,473.53 303.46,475.62 304.73,474.35 305.99,476.24 307.26,474.51 308.53,474.46 309.79,475.65 311.06,472.07 312.33,474.49 312.6,472.43 312.97,456.41 313.33,453.5 313.7,451.4 314.24,449.54 315.55,449.81 316.86,449.58 318.17,449.77 319.48,451.68 320.79,449.06 322.1,451.69 323.41,447.63 324.73,448.98 326.04,448.72 327.35,447.77 328.66,446.85 329.97,449.15 331.28,449.43 332.59,448.26 333.9,449.53 335.21,447.8 336.52,443.92 337.83,447.67 339.14,445.05 340.45,447.89 341.76,445.34 343.07,446.15 344.38,445.68 345.69,444.67 347,442.85 348.31,445.06 349.62,445.1 350.93,446.64 352.24,444.3 353.55,445.45 354.86,443.82 356.17,445.06 357.48,442.4 358.79,447.8 360.1,445.3 361.41,443.53 362.72,445.3 364.03,445.91 365.34,445.11 366.65,446.72 367.96,444.49 369.27,441.07 370.58,442.94 371.89,446.22 373.2,445.86 374.51,445.15 375.82,443.07 377.13,445.73 378.44,445.52 379.75,443.2 381.06,443.21 382.38,445.01 383.69,446.09 385,446.71 386.31,445.46 387.62,447.69 388.93,443.32 390.24,445.33 391.55,443.69 392.86,441.66 394.17,442.67 395.48,446.06 396.79,443.1 398.1,442.67 399.41,445.45 400.72,445.75 402.03,444.51 403.34,446.69 404.65,442.19 405.96,447.86 407.27,445.96 408.58,444.73 409.89,444.66 411.2,444.08 411.2,443.89 411.75,452.86 412.3,456.63 412.84,466.17 413.94,468.02 415.25,472.64 416.57,472.89 417.88,473.8 419.19,476.77 420.5,476.85 421.82,474.47 423.13,475.81 424.44,478.31 425.76,473.06 427.07,472.81 428.38,480.96 429.7,477.56 431.01,473.19 432.32,477.04 433.64,478.43 434.95,479.54 436.26,480.42 437.58,479.9 438.89,480.77 440.2,478.18 441.52,480.72 442.83,480.93 444.14,482.65 445.45,480.32 446.77,482.2 448.08,480.77 449.39,478.27 450.71,479.77 452.02,479.54 453.33,479.92 454.65,480.6 455.96,481.05 457.27,481.48 458.59,479.27 459.9,483.21 461.21,478.12 462.53,480.91 463.84,482.6 465.15,482.08 466.47,482.5 467.78,480.76 469.09,482.64 470.41,478.72 471.72,482.81 473.03,485.98 474.34,482.74 475.66,485.45 476.97,481.3 478.28,478.99 479.6,479.87 480.91,484.08 482.22,482.88 483.54,477.51 484.85,480.61 486.16,481.28 487.48,479.06 488.79,476.12 490.1,478.57 491.42,481.02 492.73,480.57 494.04,480.02 495.36,482.62 496.67,483.57 497.98,481.22 499.29,483.34 500.61,481.47 501.92,481.14 503.23,476.4 504.55,483.15 505.86,481.61 507.17,481.7 508.49,480.43 509.8,479.14" fill="none" stroke="#161616" stroke-width="0.95" stroke-linejoin="round" stroke-linecap="round" />
<polyline points="302.19,475.75 303.46,476.23 304.73,477.43 305.99,476.39 307.26,474.25 308.53,474.97 309.79,476.52 311.06,475.58 312.33,474.99 312.6,474.29 312.97,464.39 313.33,460.5 313.7,461.75 314.24,460.4 315.55,456.23 316.86,461.63 318.17,458.71 319.48,457.66 320.79,458.31 322.1,458.72 323.41,457.42 324.73,457.14 326.04,457.08 327.35,459.53 328.66,456.84 329.97,457.73 331.28,457.14 332.59,455.88 333.9,455.15 335.21,454.66 336.52,456.59 337.83,454.42 339.14,453.96 340.45,453.93 341.76,453.48 343.07,455.65 344.38,455.62 345.69,454.09 347,457.24 348.31,454.87 349.62,455.9 350.93,455.62 352.24,457.58 353.55,456.29 354.86,454.98 356.17,453.61 357.48,453.42 358.79,454.96 360.1,455.09 361.41,456 362.72,454.16 364.03,455.09 365.34,453.82 366.65,452.12 367.96,454.71 369.27,456.84 370.58,455.89 371.89,456.74 373.2,456.35 374.51,452.67 375.82,454.23 377.13,456.78 378.44,453.58 379.75,452.68 381.06,455.05 382.38,455.5 383.69,454.99 385,454.08 386.31,453.55 387.62,452.75 388.93,452.69 390.24,452.73 391.55,452.46 392.86,453.48 394.17,456.69 395.48,454.63 396.79,453.98 398.1,454.99 399.41,453.09 400.72,454.95 402.03,455.78 403.34,452.3 404.65,453.44 405.96,454.09 407.27,453.05 408.58,452.85 409.89,453.91 411.2,458 411.2,455.36 411.75,461.29 412.3,466.6 412.84,467.92 413.94,470.22 415.25,475.67 416.57,478.26 417.88,473.06 419.19,478.41 420.5,480.44 421.82,477.87 423.13,477.82 424.44,480.44 425.76,477.62 427.07,480.52 428.38,481.66 429.7,479.58 431.01,478.53 432.32,481.65 433.64,479.79 434.95,480.83 436.26,475.29 437.58,482.39 438.89,478.1 440.2,481.23 441.52,481.49 442.83,479.79 444.14,479.51 445.45,478.8 446.77,480.85 448.08,482.88 449.39,482.81 450.71,480.65 452.02,480.55 453.33,478.87 454.65,480.98 455.96,479.66 457.27,478.73 458.59,481.62 459.9,485.14 461.21,484.53 462.53,485.1 463.84,478.72 465.15,483.89 466.47,479.52 467.78,480.9 469.09,478.53 470.41,480.05 471.72,482.4 473.03,482.62 474.34,482.03 475.66,481.85 476.97,483.36 478.28,482.31 479.6,478.85 480.91,485.86 482.22,481.72 483.54,484.19 484.85,481.89 486.16,480.51 487.48,482.41 488.79,480.66 490.1,485.66 491.42,479.96 492.73,483.58 494.04,481 495.36,481.93 496.67,487.79 497.98,483.92 499.29,481.86 500.61,479.04 501.92,481.72 503.23,481.79 504.55,485.32 505.86,479.31 507.17,478.51 508.49,482.28 509.8,482.8" fill="none" stroke="#161616" stroke-width="0.95" stroke-linejoin="round" stroke-linecap="round" />
<text transform="translate(426.6,405.8) scale(1.05,1)" font-size="10" font-weight="normal" fill="#222" text-anchor="start"  stroke="#222" stroke-width="0.22">B10-vc-MMAE</text></svg></body></html>
